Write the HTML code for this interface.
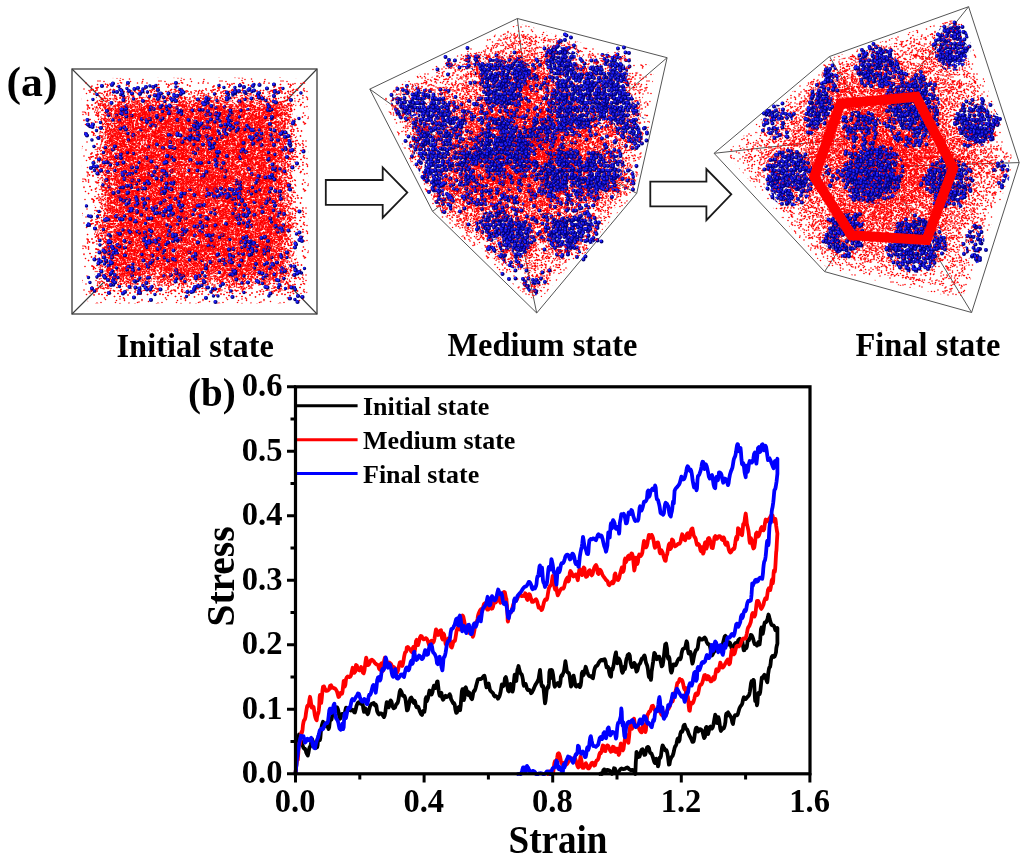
<!DOCTYPE html><html><head><meta charset="utf-8"><title>Figure</title><style>html,body{margin:0;padding:0;background:#fff;width:1024px;height:860px;overflow:hidden}</style></head><body><svg width="1024" height="860" viewBox="0 0 1024 860" style="position:absolute;left:0;top:0"><defs><pattern id="r0" width="47" height="61" patternUnits="userSpaceOnUse"><path transform="scale(.5)" d="M55 -2h0m-50 12h0m1-10h0m11 8h0m3 1h0m6-6h0m1 2h0m2 1h0m3 0h0m7-3h0m2 1h0m2 6h0m1-1h0m2 2h0m4-10h0m1 10h0m3-10h0m0 9h0m1-4h0m1 3h0m2-8h0m1 9h0m3-3h0m5 2h0m1-7h0m2 8h0m5-8h0m17 1h0m-5 16h0m-7-4h0m-7 4h0m-8 4h0m-3 0h0m-2-4h0m-4-1h0m-1 5h0m-2-7h0m-5-2h0m-11 2h0m0 5h0m-2-4h0m0-1h0m-2 3h0m0 1h0m-2-7h0m0 10h0m-7-7h0m-1 3h0m-4-4h0m-7-2h0m-8 4h0m-6 18h0m4-8h0m3 4h0m3-1h0m2 4h0m1-6h0m5 0h0m3 6h0m1-10h0m7 7h0m3-2h0m2 4h0m3-4h0m3 0h0m1-5h0m1 0h0m1 9h0m1-6h0m2 1h0m0 5h0m2-2h0m5-3h0m1-3h0m1 5h0m14 3h0m2-6h0m2 3h0m10 1h0m4-5h0m3 6h0m4 3h0m4-8h0m-3 18h0m-1-2h0m-1 3h0m-1-4h0m-1 1h0m-5 3h0m-4-3h0m-4 1h0m-11 1h0m-3 2h0m0 0h0m-2-7h0m-1 1h0m-1-2h0m-5 5h0m-10-5h0m-4-3h0m-2 3h0m-4 6h0m-6-7h0m-12 4h0m0-6h0m-16 9h0m-1-2h0m4 12h0m1-6h0m3 6h0m5 0h0m2-7h0m0 10h0m4-7h0m8 3h0m1-2h0m1 1h0m1-5h0m1 1h0m1 10h0m7-1h0m1-10h0m3 6h0m7 0h0m10-6h0m3 1h0m4 1h0m0 5h0m5 1h0m2 2h0m1-5h0m0 1h0m2 5h0m0-5h0m2 3h0m3-5h0m1 1h0m3 4h0m6 1h0m1-6h0m1 7h0m0-3h0m4-1h0m-2 6h0m-3 1h0m-7 1h0m-3-2h0m-3 5h0m0 5h0m-1-3h0m-1-6h0m-1 7h0m-3-9h0m-2 1h0m0 9h0m-1-8h0m-2 9h0m-1-9h0m-7 9h0m-3-6h0m-1 6h0m0-7h0m-2 5h0m-11 2h0m-5-3h0m-5 0h0m0-3h0m-4 5h0m-1-9h0m-1 4h0m-1 4h0m-4-8h0m0 2h0m-2 5h0m-6-4h0m-2 6h0m-4-6h0m-7-3h0m4 12h0m3 7h0m4-1h0m4-5h0m2 1h0m0 0h0m9 5h0m0-5h0m6 0h0m2 7h0m2 0h0m2-6h0m5-1h0m2-3h0m3 10h0m5-8h0m5 1h0m0-1h0m2 5h0m4-5h0m5 1h0m0 2h0m9-4h0m2-1h0m2 3h0m2 5h0m3-5h0m5-2h0m2 19h0m-1-7h0m-3 10h0m-4-1h0m0-7h0m-3 5h0m-1-1h0m0-4h0m-6-3h0m-2 11h0m0-6h0m-6 3h0m-3 0h0m-3 1h0m-8-2h0m-3 3h0m-2 0h0m-15-5h0m-4-1h0m-1-4h0m-1 5h0m-5-2h0m-3 3h0m0-1h0m-1-1h0m-2-4h0m0 5h0m-3-4h0m0 3h0m-1 7h0m-1-5h0m0-4h0m-6 7h0m-2 1h0m-4-2h0m-1-7h0m2 17h0m2-4h0m2 5h0m1 2h0m1-5h0m1 6h0m0-10h0m1 7h0m0 3h0m7 1h0m1-10h0m8 0h0m9 0h0m1 9h0m7 0h0m2-9h0m3 9h0m0-10h0m2 0h0m13 2h0m3 1h0m1-3h0m0 0h0m0 11h0m7-5h0m0-1h0m6-3h0m2 0h0m0 2h0m2 4h0m1-4h0m11 2h0m-1 17h0m-2-7h0m-2 2h0m0-5h0m0 4h0m-6-4h0m-3-1h0m-1 1h0m-1 5h0m-1-6h0m-1 7h0m-2 4h0m0-3h0m-1-5h0m-1 2h0m-2-1h0m-3-1h0m0-3h0m-1 11h0m-3-8h0m-2 5h0m0-6h0m-6-2h0m0 9h0m-1-3h0m-6 0h0m-1-4h0m-6-2h0m0 4h0m-5 5h0m-2-9h0m-4 2h0m-4 7h0m-2-1h0m-4 2h0m-7-6h0m-5 5h0m-1-6h0m-8 8h0m-2-7h0m8 10h0m44 1h0m2-3h0m2 3h0m1-3h0m3 3h0m10 1h0" stroke="#ff0000" stroke-width="3.2" stroke-linecap="round"/></pattern><pattern id="r1" width="53" height="67" patternUnits="userSpaceOnUse"><path transform="scale(.5)" d="M94 -2h0m-4 1h0m-10-1h0m-24 1h0m-17-1h0m-23 1h0m-13 1h0m0 9h0m1-5h0m0 3h0m0-7h0m6 5h0m1-2h0m1 7h0m2-5h0m8-5h0m1 2h0m18 9h0m1-6h0m1 4h0m2-2h0m1 4h0m4-7h0m1 4h0m0-3h0m0 2h0m6 1h0m1-6h0m1 8h0m9-1h0m4-6h0m6 6h0m2-3h0m6 3h0m0 1h0m0-8h0m7 1h0m1 0h0m2 1h0m1 3h0m0 0h0m1-2h0m1 5h0m5-4h0m4 11h0m-4 0h0m-1 5h0m-5-8h0m-2 7h0m-10 1h0m-9 0h0m-1-10h0m0 10h0m-3-4h0m0-4h0m-3-1h0m-4-1h0m-1 0h0m-5 0h0m-2 2h0m-1-2h0m-2 10h0m-1-6h0m-4 7h0m-1-11h0m-6 0h0m-2 9h0m-3-6h0m-1-2h0m-2 5h0m0-1h0m-4-5h0m-2 4h0m-6 1h0m-2 2h0m0-3h0m-6 2h0m-1 5h0m-4-11h0m-1 9h0m-2-3h0m0 5h0m-1-7h0m-4 1h0m-1 15h0m3 2h0m2 0h0m5-3h0m0-7h0m6 1h0m0 6h0m1-4h0m1 4h0m10 2h0m11 0h0m1-2h0m2-4h0m3 3h0m3 0h0m0 3h0m0-7h0m2 0h0m1 5h0m1 1h0m3 0h0m4-5h0m4 5h0m15 2h0m8-3h0m10 2h0m6-3h0m4 2h0m-2 10h0m-3 1h0m-3-1h0m0 2h0m-2-4h0m-2 7h0m-6 0h0m-2 0h0m-5-5h0m-2-3h0m-11 8h0m-1-3h0m-3 2h0m-2-2h0m-1-4h0m-4 7h0m0-3h0m-1-7h0m-3 7h0m-4-5h0m-1-3h0m0 11h0m-2-2h0m-2-9h0m-3 4h0m-9-2h0m0 9h0m-5-6h0m-8 0h0m-2-2h0m-5 8h0m-1-1h0m-2-6h0m-3 7h0m0-9h0m0 1h0m-8 3h0m4 8h0m1 2h0m2 2h0m2-3h0m1 1h0m3-1h0m7 6h0m7-9h0m2 4h0m1-3h0m2-1h0m3 2h0m5 1h0m2-3h0m6 0h0m0 0h0m5 2h0m2 0h0m3-1h0m2-1h0m3 0h0m2 6h0m11-4h0m1 3h0m10-4h0m3 8h0m0 2h0m3-10h0m0 7h0m4-6h0m2 8h0m1-2h0m1-8h0m2 2h0m2 18h0m0-5h0m-3 1h0m-2 5h0m-2 0h0m0-4h0m0-1h0m-3 0h0m0 1h0m-3 2h0m-8 1h0m0-7h0m-2 9h0m-2-3h0m-8-4h0m0-1h0m-1 6h0m-2-8h0m-1 0h0m-6 4h0m-1 5h0m-2-3h0m-7 2h0m-5-7h0m-5 6h0m-1-7h0m-1 3h0m-6 7h0m-2 1h0m-4 0h0m-1 0h0m-4-6h0m-5-3h0m-1 4h0m-7-2h0m-7 4h0m-4 0h0m1 13h0m0 2h0m0-6h0m8 6h0m2-11h0m2 11h0m5-4h0m2 1h0m1-4h0m5-4h0m2 4h0m4-1h0m5 5h0m4-4h0m11 1h0m1 3h0m3-5h0m12 1h0m1 3h0m9 0h0m2 0h0m5 0h0m0 2h0m2 1h0m0 1h0m8-2h0m2-4h0m5-2h0m3 7h0m2-1h0m0 2h0m0-6h0m1 9h0m-1 7h0m-1-2h0m-10-1h0m-9 1h0m-8 2h0m0-6h0m-3-2h0m0 7h0m-4-5h0m-1 6h0m-5-9h0m-3 2h0m-2 9h0m-3-1h0m-2-7h0m-3 8h0m-5-8h0m-4 8h0m-4-3h0m-3 3h0m-2-2h0m0-7h0m-1 6h0m-3-4h0m-3 7h0m-3-1h0m-1-5h0m-2 3h0m-1-5h0m-1 4h0m-3-6h0m-4 4h0m-3 2h0m-1 2h0m-3-7h0m-1 2h0m-3-2h0m-1 7h0m-1-2h0m0 10h0m8-5h0m5 3h0m10 3h0m1 0h0m2 3h0m3-6h0m6 6h0m1 2h0m9-3h0m3 2h0m1 0h0m1-6h0m1 4h0m0-5h0m2 1h0m1 1h0m6-4h0m1 1h0m3 7h0m1-6h0m2-3h0m6 7h0m5-1h0m4 4h0m8-6h0m2 0h0m1 3h0m5 2h0m5 0h0m1-9h0m2 5h0m-1 12h0m-5-2h0m-9-1h0m-9-2h0m0 9h0m-2-5h0m-3 7h0m-1-5h0m0-3h0m-1-1h0m-14 4h0m-4-6h0m-1 8h0m-4-8h0m-5 4h0m-6 0h0m-2 5h0m-2-5h0m0-3h0m-1 5h0m0-2h0m-3-1h0m-3 2h0m-1 2h0m-3 2h0m-2-9h0m-11 0h0m-2 5h0m-4 0h0m-6 18h0m3-9h0m2 6h0m7-4h0m6-1h0m4-2h0m5 5h0m1-2h0m1 4h0m2 3h0m1-7h0m4 2h0m2-6h0m1 4h0m0 0h0m6-1h0m2-3h0m5 7h0m4-6h0m1 2h0m2 0h0m6 6h0m0-8h0m1 0h0m0 0h0m5 4h0m1 5h0m4 0h0m3-4h0m2-5h0m7 8h0m1-8h0m2 3h0m8 7h0m1 0h0m6 0h0m-11 1h0m-4 1h0m-10-1h0m-24 1h0m-17-1h0m-16 4h0m-1-2h0m-6-1h0m-12 1h0m-1 0h0" stroke="#ff0000" stroke-width="3.2" stroke-linecap="round"/></pattern><pattern id="r2" width="59" height="43" patternUnits="userSpaceOnUse"><path transform="scale(.5)" d="M65 -1h0m-1-1h0m-48 1h0m-13 10h0m6-5h0m5-1h0m0 1h0m0 4h0m1 2h0m9-10h0m4 3h0m1 7h0m20 1h0m3-8h0m6 8h0m3-1h0m1-6h0m10 1h0m0 1h0m0 2h0m0-2h0m5 4h0m15-3h0m2-1h0m9 3h0m6-9h0m5 9h0m0-8h0m3 20h0m-5-9h0m-3 2h0m-1-1h0m-1 4h0m-2 6h0m0-10h0m-2 10h0m-2-2h0m-1 2h0m-1-6h0m-3 6h0m-4-4h0m-4-5h0m-1 9h0m0-6h0m-2 4h0m-3-6h0m0 3h0m-1-1h0m-2 0h0m-1 1h0m-2-5h0m-6 10h0m-3-11h0m-5 7h0m-3 4h0m-5-6h0m0 6h0m-1-10h0m-1 1h0m-3 1h0m-1 3h0m-1 5h0m0-1h0m-6-8h0m-1 2h0m-5-2h0m-4-2h0m-5 9h0m-5-6h0m-2 0h0m-1 1h0m-8 6h0m0-4h0m-3-4h0m-8 7h0m4 10h0m1 1h0m2 2h0m0-1h0m2-1h0m1-7h0m0 2h0m2 4h0m1 3h0m1-4h0m1 2h0m0-2h0m4 5h0m8-9h0m2 5h0m5 1h0m4 2h0m0-8h0m3 3h0m3-5h0m17 7h0m2-5h0m1 0h0m0 6h0m2 2h0m4-4h0m1 2h0m5-4h0m3-4h0m2 1h0m13 6h0m2 1h0m2-6h0m0 3h0m0-2h0m3 2h0m1-4h0m14 0h0m4 16h0m-1-4h0m0 2h0m-2 7h0m-8-4h0m-3 4h0m-1 1h0m-2-5h0m-6-2h0m-2 2h0m-2 4h0m0-4h0m-2-6h0m-2 1h0m-2 8h0m-1-1h0m-4-4h0m-6-2h0m-9 8h0m-4-4h0m-1-2h0m-4-1h0m-2 6h0m-9 2h0m-3-4h0m-1-6h0m-3 4h0m0 2h0m-6-4h0m-3-2h0m-6 1h0m-4 5h0m-2-3h0m-1 7h0m-6-6h0m-1-2h0m-2 7h0m-7-5h0m-1-4h0m0 2h0m-2 7h0m3 4h0m0 6h0m11-5h0m1-3h0m1 1h0m2 5h0m1-2h0m1 3h0m1-5h0m2 6h0m3-2h0m3-1h0m7 5h0m2-7h0m3 0h0m2 4h0m11-7h0m1 5h0m0-5h0m1 9h0m5-9h0m3 0h0m0 4h0m2 2h0m2 3h0m3-2h0m1 3h0m3-4h0m3 3h0m4-3h0m3 5h0m1-1h0m4-9h0m1 8h0m2-4h0m6 4h0m5-9h0m0 0h0m1 6h0m0 0h0m1 3h0m1-8h0m0 9h0m8-8h0m0 0h0m0 5h0m1-5h0m0 1h0m5-1h0m0 6h0m-2 4h0m-2 10h0m-1-4h0m-2-2h0m-1 6h0m0-6h0m-6-3h0m-4 6h0m-2 1h0m-3 2h0m-3-5h0m-1 4h0m-1-3h0m-1-1h0m-18-2h0m-2-1h0m-7-1h0m-3 8h0m-2-3h0m-2 3h0m-3-9h0m-1 2h0m-2 2h0m-1-1h0m-3 8h0m-5-5h0m-3 5h0m0-1h0m-5-1h0m-3-8h0m-3 10h0m-19-11h0m-2 5h0m-3 0h0m-4-5h0m2 23h0m3-4h0m3-6h0m0 9h0m3-3h0m8-6h0m2 0h0m3 4h0m1-5h0m15 11h0m3-1h0m3-5h0m2 1h0m0 4h0m1-3h0m1 4h0m2-1h0m1-9h0m2 9h0m1-2h0m3-4h0m8 3h0m5 0h0m1-6h0m5-1h0m1 0h0m4 6h0m1-5h0m6 4h0m4 5h0m3-4h0m1-2h0m1 2h0m0 3h0m5-5h0m4 6h0m7-1h0m5 2h0m-5 4h0m-5-1h0m-44-1h0m-1-1h0m-28 0h0m-12 2h0m-8-1h0" stroke="#ff0000" stroke-width="3.2" stroke-linecap="round"/></pattern><pattern id="r3" width="61" height="71" patternUnits="userSpaceOnUse"><path transform="scale(.5)" d="M118 -1h0m-48 0h0m-13-1h0m-37 0h0m-17 3h0m12 6h0m5 3h0m0 1h0m0-9h0m2 8h0m2-5h0m5 5h0m2-2h0m0-5h0m2 8h0m1-10h0m11 4h0m6 4h0m1-5h0m2 0h0m3-3h0m3 7h0m2 0h0m6-7h0m6 8h0m4 0h0m0-3h0m1 5h0m0-3h0m2-6h0m6 3h0m0-3h0m2-1h0m1 4h0m3 2h0m2 3h0m5-4h0m4-4h0m0 8h0m6-3h0m1 4h0m2-2h0m2 2h0m4-4h0m0-7h0m2 21h0m0 2h0m-3-5h0m-1 5h0m-1 0h0m-3-8h0m-3 0h0m-5 0h0m-4 7h0m-9-1h0m-8 0h0m-2-9h0m-3 11h0m-1-9h0m-9 0h0m-1-2h0m-1 0h0m-1 3h0m-3 2h0m-3-3h0m-10 2h0m-3-4h0m-2 1h0m0-1h0m-2 4h0m-1 5h0m-3-5h0m-1 0h0m-2 1h0m-2 0h0m-1 4h0m-6 2h0m-2-10h0m-3 5h0m-3-1h0m-2 0h0m-1-1h0m0 6h0m-6-10h0m-1 8h0m-2-2h0m-8 3h0m0 2h0m3 7h0m2-2h0m1 0h0m0 0h0m2 7h0m1-8h0m2 8h0m2-6h0m6 3h0m1-8h0m9 10h0m4-1h0m2 0h0m0 0h0m3-6h0m1 5h0m6-5h0m3 6h0m2-7h0m0 7h0m2-6h0m0 1h0m2 4h0m3-5h0m2-2h0m5 2h0m8 2h0m1-4h0m4 5h0m1 4h0m1-8h0m2 9h0m0-5h0m2 2h0m1-3h0m1 4h0m4-3h0m3 4h0m8-5h0m5-1h0m1-2h0m3 9h0m3-10h0m1 7h0m8-6h0m4 18h0m-13-5h0m-6-3h0m-5 11h0m-1-4h0m-4 4h0m-3-11h0m-7 2h0m-1 8h0m-2-9h0m0 10h0m-2-5h0m-1-3h0m-4 8h0m-15-4h0m-1 2h0m-7-8h0m-2 10h0m-2-9h0m-7 7h0m-3-3h0m-3 1h0m0 3h0m-3-8h0m-9 0h0m-7 0h0m-3 0h0m-2 0h0m-2 5h0m-7 1h0m3 9h0m9 5h0m6-2h0m6 2h0m9-10h0m1 10h0m7-7h0m1-3h0m6 11h0m2-5h0m7-1h0m1 5h0m6-5h0m5 0h0m8 4h0m0-1h0m4 3h0m3-9h0m6 8h0m6-8h0m3 3h0m2 0h0m2 6h0m0-7h0m2-3h0m4 1h0m10 16h0m0 1h0m-4 1h0m-1-3h0m-16-2h0m-5 5h0m-9-6h0m-9-2h0m-6 10h0m-1-8h0m-1 1h0m-2 7h0m-6-8h0m-2 8h0m-3-10h0m-1 0h0m-3 11h0m0-2h0m-4-7h0m-1 8h0m-2-4h0m-1-4h0m-6 8h0m-4-7h0m-3 2h0m-1 0h0m0 0h0m0 0h0m-13 2h0m-3-6h0m-2 8h0m-5 2h0m-1-9h0m-7 4h0m0 1h0m1 12h0m0-7h0m2 11h0m0-1h0m1-10h0m5 6h0m6-6h0m0 5h0m2 3h0m1-6h0m2-1h0m1 8h0m1-4h0m1 0h0m2 3h0m2 1h0m5-3h0m2 0h0m3-1h0m2 1h0m5-2h0m2 4h0m0-6h0m1 9h0m8-11h0m1 3h0m2-1h0m2-2h0m5 11h0m1-1h0m4-8h0m2 1h0m1-2h0m2 4h0m1 0h0m3-5h0m1 6h0m3-3h0m1 4h0m1-2h0m2-4h0m1 8h0m2 2h0m2-6h0m4 4h0m0-6h0m0 6h0m1-9h0m1 11h0m0-9h0m6 1h0m4 5h0m2-8h0m2 6h0m1 3h0m1 0h0m2 0h0m0 0h0m5-5h0m0 6h0m2-3h0m0-7h0m2 11h0m0-1h0m-4 8h0m-8 2h0m-1-7h0m-5 10h0m-3-1h0m-2-9h0m-2 10h0m-12-7h0m-1-4h0m-3 1h0m-6-1h0m-3 2h0m-1-1h0m-4 4h0m-8 1h0m-10-2h0m-1-3h0m-2 6h0m-1-3h0m-1 7h0m-3-3h0m-2 0h0m-6 2h0m0-10h0m-5 7h0m-1-5h0m-3 5h0m-6-3h0m-2 4h0m0-5h0m-2 8h0m-1-7h0m-2 3h0m0 0h0m-2 3h0m-2-3h0m-10 5h0m1 0h0m5 4h0m2-4h0m0 2h0m2 8h0m6-2h0m1 0h0m4-1h0m1 2h0m1-1h0m6-2h0m1 2h0m2-4h0m10-3h0m13 1h0m2 5h0m3 2h0m1-2h0m3-2h0m0 1h0m3 1h0m7-1h0m4-1h0m2 0h0m5 3h0m3-2h0m1-6h0m1 11h0m2-7h0m3 6h0m1-6h0m1 7h0m3-1h0m5-1h0m5 0h0m4-3h0m3 4h0m0-3h0m5-7h0m1 0h0m1 15h0m-3 7h0m-1-4h0m-1 3h0m-2-7h0m-1-1h0m-2 9h0m-1-5h0m-5 3h0m0-7h0m-1 8h0m-12 2h0m-1-7h0m0 2h0m-5-3h0m-2-1h0m-2 5h0m-1 4h0m-1-9h0m-3 0h0m0 4h0m-27 3h0m-7 0h0m-2-4h0m-5 1h0m-5-3h0m-12-2h0m-1 7h0m-3-7h0m-3-1h0m-2 6h0m-2 1h0m-5 2h0m-1-2h0m0-3h0m-1-4h0m-1 6h0m-1-3h0m-3 7h0m1 12h0m2-6h0m0-4h0m1 1h0m0 0h0m1 10h0m6-4h0m1-7h0m10 8h0m2-6h0m4 7h0m1 0h0m1-9h0m6 0h0m0 4h0m2 7h0m9 0h0m7-1h0m3 0h0m19-10h0m1 8h0m3 1h0m2-2h0m0-5h0m9 2h0m1 3h0m7 0h0m1-4h0m0 3h0m5 3h0m1-8h0m2 1h0m4 4h0m3 0h0m5 5h0m0-5h0m3 4h0m2-6h0m0-4h0m1 1h0m0 0h0m-5 13h0m0 8h0m-1-1h0m-5-4h0m-7-2h0m-4 3h0m-1-4h0m-2-1h0m0 2h0m0 1h0m0 2h0m-10 5h0m-11-9h0m-3 5h0m-3-5h0m-1 5h0m-1 2h0m-2 2h0m-3-3h0m-3 0h0m-3-8h0m-2 8h0m0 3h0m-3-7h0m-4-2h0m-3 2h0m-6-4h0m-1 2h0m-2 0h0m-4-1h0m0 10h0m-2-11h0m0 5h0m-10 1h0m-2 2h0m0-2h0m-1 1h0m-2-1h0m-3 1h0m0-5h0m-3-1h0m0-1h0m-8 11h0m17 1h0m61 0h0m23 0h0" stroke="#ff0000" stroke-width="3.2" stroke-linecap="round"/></pattern><pattern id="r4" width="67" height="53" patternUnits="userSpaceOnUse"><path transform="scale(.5)" d="M105 -1h0m-3-1h0m-3 0h0m-4 1h0m-2 0h0m-30-1h0m-5 1h0m-47 0h0m-13 3h0m6 4h0m7 1h0m2 2h0m1-2h0m1-2h0m1-2h0m4 2h0m0 5h0m8-6h0m3 2h0m10 1h0m15 3h0m4-2h0m1-7h0m1 5h0m3 4h0m1-2h0m3 3h0m6-10h0m6 3h0m3 4h0m3 0h0m0-1h0m3 2h0m4-3h0m3-5h0m2 9h0m2-10h0m3 7h0m2 4h0m4 0h0m0-4h0m4-1h0m0 3h0m3-5h0m9-2h0m4 0h0m0 6h0m2-6h0m-1 15h0m-3 5h0m0-8h0m-3 3h0m0-3h0m-3 7h0m-6-8h0m0 3h0m0 5h0m-3 2h0m-4-5h0m-6 5h0m-2-4h0m-6-4h0m-2 3h0m-7 1h0m-2 1h0m-3 3h0m-8-6h0m-1-4h0m-5 1h0m-3-1h0m0 1h0m-2 7h0m-2 2h0m0-3h0m-5-1h0m-1 3h0m-2-3h0m-11-1h0m-5-6h0m-4 4h0m-2 6h0m-1-9h0m-6 3h0m-3 1h0m-2 1h0m0-5h0m-1 2h0m-1 3h0m-3 3h0m-1-6h0m-1 0h0m-1 6h0m-7-2h0m0-4h0m0 10h0m4 4h0m4-2h0m4-2h0m0 8h0m0-8h0m1 8h0m0-2h0m17 4h0m5-10h0m1 3h0m3 5h0m0 1h0m7-6h0m0 7h0m1-4h0m1 0h0m0-5h0m0-2h0m5 11h0m4-10h0m5 9h0m5-3h0m1-7h0m4 4h0m2-1h0m2 7h0m10-4h0m0 2h0m7-2h0m0 5h0m25-7h0m2 7h0m2-5h0m0-5h0m2 8h0m2-5h0m0-4h0m4 17h0m-1 2h0m-5 4h0m-4-4h0m-5 2h0m-4-2h0m0 0h0m-1-4h0m-14 5h0m-1-2h0m-2-1h0m0-2h0m-5 1h0m-2 0h0m-4 6h0m-3-5h0m-5 5h0m-3 0h0m-1 1h0m0-1h0m0-4h0m-9-4h0m0 1h0m0 3h0m-1 3h0m-2-8h0m-5 8h0m-2-9h0m-2 8h0m-3 0h0m0 3h0m-2-10h0m-3 5h0m-7 0h0m0-1h0m-3 1h0m0-5h0m-1 10h0m-5-2h0m-1-9h0m-2 4h0m-2 4h0m-4-2h0m0 5h0m-2-7h0m-1-4h0m0 2h0m-1 3h0m-3 2h0m-7 2h0m0 2h0m-1 0h0m-1-4h0m-4-2h0m-1 10h0m6-3h0m3 6h0m2 3h0m4 2h0m4 0h0m4-2h0m0-7h0m1 2h0m2-4h0m1 1h0m0 8h0m1-7h0m2 2h0m1-1h0m1 6h0m4 2h0m3-10h0m5 8h0m2-8h0m3 7h0m2-7h0m8 9h0m10 0h0m1-5h0m1-5h0m4 0h0m5 6h0m2 2h0m1 1h0m9 2h0m0-7h0m4-3h0m4 4h0m0-2h0m0-3h0m4 6h0m5 5h0m0-4h0m1 2h0m12-5h0m7 7h0m3-6h0m2-2h0m-1 15h0m-1 5h0m0-7h0m-1 4h0m-4 3h0m0-6h0m-4 5h0m-2-8h0m-3-1h0m-5 4h0m-1 5h0m-4-6h0m-4 1h0m-5-5h0m-7 9h0m-1-9h0m0 11h0m-10-6h0m-2-3h0m-1 1h0m-2-2h0m0 7h0m-8 1h0m-1-3h0m-2-6h0m-2 11h0m-6-5h0m-4 3h0m-1-4h0m-1-2h0m-2 7h0m-1 0h0m-3-6h0m-2 4h0m-5-3h0m-4 1h0m-6-1h0m-2-3h0m-3 7h0m-2-9h0m-4 0h0m-16 17h0m2 0h0m4-3h0m6 0h0m5 6h0m6 3h0m9-9h0m2 3h0m6 0h0m0-4h0m5 5h0m1 1h0m4-1h0m1 2h0m2 1h0m2-3h0m13 1h0m0-2h0m5 6h0m2-2h0m4-3h0m8 2h0m2-2h0m1-6h0m1 4h0m4-3h0m2-1h0m3 11h0m2 0h0m1-7h0m3 0h0m7-3h0m1-1h0m1 3h0m3 6h0m3-8h0m3 4h0m5-5h0m2 6h0m3-1h0m2 0h0m0 14h0m-12-4h0m0 4h0m-2 1h0m-3 0h0m-2-3h0m0-5h0m-1 0h0m-1 11h0m-8-7h0m-5-1h0m-1-3h0m-4 3h0m-4 0h0m-3 1h0m-2-4h0m0 10h0m-1-7h0m-14 5h0m-5-4h0m-3 6h0m0-7h0m0 4h0m-2-7h0m-4 5h0m-4 0h0m-1-5h0m0 5h0m-7 0h0m0-3h0m-3 7h0m-3 2h0m-6-11h0m-4 5h0m-2 5h0m-2-1h0m-5-4h0m0 4h0m-2-2h0m-5-1h0m-1-2h0m0 6h0m-1-3h0m-7-3h0m-2-2h0m-1 9h0m-1-4h0m-1 5h0m4 0h0m7 9h0m8-6h0m7 3h0m0-2h0m3-1h0m4 0h0m2 2h0m14-3h0m2 0h0m0-1h0m1 1h0m6-2h0m0 9h0m3 2h0m2-3h0m9-7h0m3 10h0m2-10h0m7 6h0m5-5h0m4 7h0m2 0h0m2 2h0m2-8h0m0 5h0m2 2h0m1-2h0m2-6h0m1 7h0m14-2h0m2-6h0m1 4h0m9 2h0m1-6h0m2-1h0m-2 12h0m-2 0h0m-4 0h0m-128 0h0" stroke="#ff0000" stroke-width="3.2" stroke-linecap="round"/></pattern><pattern id="r5" width="71" height="59" patternUnits="userSpaceOnUse"><path transform="scale(.5)" d="M122 -1h0m-18 0h0m-13 0h0m-6-1h0m-9 0h0m-62 1h0m-7 0h0m-8 1h0m1 1h0m0 6h0m3 3h0m1-7h0m1 7h0m2-4h0m2 5h0m1-11h0m3 1h0m4 4h0m4 5h0m0-3h0m1-1h0m3 1h0m3-5h0m0-1h0m0 1h0m1-2h0m0 9h0m2-5h0m3 3h0m2-7h0m2 3h0m8 6h0m1-5h0m0 2h0m5 2h0m4-3h0m0-1h0m1-1h0m4 0h0m2-1h0m4-2h0m4 2h0m1 9h0m2-8h0m4 0h0m1-1h0m7 1h0m1 5h0m4 3h0m1-11h0m1 4h0m1 2h0m1 0h0m0 3h0m3 2h0m10-10h0m8 0h0m0 5h0m0-5h0m1 9h0m0-9h0m5 8h0m12 1h0m5-10h0m2 0h0m1 1h0m0 6h0m-1 6h0m-4 6h0m-4-5h0m-1 7h0m-1-6h0m-2 7h0m-2 1h0m-3-11h0m-16 2h0m0 7h0m-2 2h0m-5-5h0m-8-2h0m-6-4h0m-3 11h0m-5-3h0m0-6h0m-6 4h0m0 4h0m-4 0h0m-2 1h0m-5-2h0m-2-1h0m-8-3h0m-5 6h0m-4-4h0m-2 1h0m-1-2h0m-1-3h0m-1 8h0m-3-11h0m-1 10h0m-6-6h0m-2-3h0m-9 8h0m-2 0h0m-2-4h0m-4-1h0m-5 1h0m-5-4h0m0 19h0m2-1h0m1-1h0m0 3h0m1 1h0m3 1h0m3-9h0m2-1h0m11 7h0m3-3h0m3 2h0m0-6h0m1 6h0m3 0h0m3-6h0m0 0h0m0 1h0m2 0h0m3 7h0m4-8h0m4 6h0m0-5h0m2 0h0m2 8h0m4-10h0m0 7h0m5-4h0m1 3h0m1 1h0m6-4h0m1 5h0m11-8h0m1 8h0m1-4h0m4 6h0m0 0h0m1-9h0m0 6h0m1 1h0m2-4h0m3 1h0m7 6h0m2-5h0m7 3h0m1 1h0m2 1h0m1-6h0m8-1h0m5 0h0m5 1h0m2 2h0m7 1h0m2-1h0m1-1h0m-2 13h0m-1-2h0m-10 5h0m-5-10h0m0 7h0m-5-5h0m0 5h0m-4 4h0m-3-2h0m-1-9h0m-8 9h0m-2-1h0m0 2h0m-3-5h0m-7 4h0m-10-9h0m-6 10h0m-3-4h0m-2 2h0m-10 1h0m-1 0h0m-1 2h0m-1-3h0m0 3h0m-4-6h0m-5-3h0m-6 5h0m0 2h0m0-4h0m-4 6h0m-8-9h0m-1 3h0m0 0h0m-2-4h0m-1 7h0m-1 2h0m-1-7h0m-2-2h0m0 0h0m-1 9h0m-5-3h0m-1 2h0m-1-6h0m-1 0h0m-13-3h0m-2 7h0m-1-2h0m1 16h0m6-9h0m3 7h0m7 0h0m5-1h0m1 0h0m0 5h0m4-9h0m4 1h0m2 0h0m5-3h0m12 0h0m3 5h0m3-3h0m3 5h0m2-5h0m1 7h0m2-6h0m2 7h0m4-8h0m4 3h0m1-4h0m0 9h0m2-6h0m1-3h0m4 2h0m6-2h0m1 5h0m3 0h0m1-4h0m3 7h0m1-6h0m3 3h0m3 1h0m0 1h0m3-8h0m4 5h0m1 3h0m3 2h0m2-5h0m3 4h0m11-7h0m7 4h0m0 3h0m6 0h0m-1 4h0m-2 9h0m-3-2h0m-10-3h0m-1-1h0m-2 0h0m-3 1h0m-11-1h0m-5 7h0m-1-3h0m-2-4h0m-1 5h0m-3-3h0m-10-6h0m-4 2h0m0 5h0m0-3h0m-5 7h0m-1-5h0m-8 3h0m-1-7h0m-6-2h0m-3 10h0m0-9h0m-4 2h0m-1 5h0m-3-4h0m0 4h0m-3-4h0m-2-3h0m-8 10h0m-13-10h0m-2 10h0m-4-2h0m-1-2h0m0 1h0m0-1h0m-4-7h0m-1 2h0m-6 2h0m0-2h0m-5 0h0m-3-1h0m3 15h0m3 3h0m0-4h0m1 4h0m15-2h0m1-1h0m14-2h0m5 4h0m6 5h0m1-5h0m1 2h0m0 0h0m5-5h0m3 5h0m2-7h0m5 7h0m2-3h0m6 3h0m0-6h0m2 0h0m4 6h0m1-3h0m2-4h0m1 4h0m2 6h0m1-3h0m4-3h0m2-2h0m6 0h0m5 8h0m7-1h0m1-8h0m1 7h0m4-8h0m3 10h0m0 0h0m6-5h0m0 5h0m7-11h0m7 6h0m6-2h0m-4 15h0m-4-2h0m-1-3h0m-2 3h0m-1-2h0m-3 0h0m-4 4h0m-1-6h0m-4 6h0m-1 3h0m-1-8h0m-2 2h0m-7 2h0m-2 1h0m-3 2h0m-2 1h0m-1-10h0m-1 4h0m-1 1h0m0 3h0m-10 1h0m0-6h0m-4 6h0m-6-6h0m-2 7h0m-2-6h0m-6 4h0m0-7h0m-1 9h0m-3-6h0m-1 2h0m-1 3h0m0-9h0m-11 1h0m-8-1h0m-3 3h0m0 8h0m-1-10h0m0 1h0m-2 9h0m-1-4h0m-5-1h0m-4-2h0m-9 7h0m-1-5h0m-3-6h0m-1 3h0m-2 6h0m-3 2h0m-6-7h0m-5 19h0m1-10h0m2 6h0m1-2h0m3 4h0m1-5h0m6 3h0m1 2h0m1-3h0m1 0h0m4 4h0m1 1h0m0-9h0m1-1h0m4 7h0m3 1h0m2-4h0m4-4h0m2 5h0m3-3h0m5 5h0m7 3h0m4-8h0m0 7h0m5-9h0m4 6h0m0-7h0m10 6h0m10-1h0m13 1h0m3-1h0m4 4h0m2-1h0m6-8h0m0 5h0m2-3h0m1-1h0m2 8h0m2 0h0m9-7h0m1-2h0m9 6h0m2 5h0m0-8h0m1-2h0m2 6h0m1-2h0m-1 12h0m-1 6h0m-1-6h0m0 5h0m-2-5h0m0 5h0m-3-2h0m-4-4h0m0-1h0m-3-1h0m0-1h0m-1 0h0m0 7h0m0-4h0m-2-2h0m-4 7h0m-5-3h0m0 5h0m-1 0h0m0 0h0m-8 0h0m-4-2h0m-3-7h0m-6 4h0m-3 4h0m-1-1h0m0-8h0m-6 7h0m-9 0h0m-9 2h0m-11-5h0m-10 2h0m0-4h0m-7-3h0m-3 10h0m-4-7h0m-3 7h0m-1 1h0m-2-11h0m-1 7h0m-5-6h0m-1 5h0m-5 3h0m-1 2h0m-1-5h0m-2 4h0m-3-1h0m0-1h0m-6-3h0m-1 6h0m-1-6h0m0 5h0m29 2h0m43 0h0m8 0h0" stroke="#ff0000" stroke-width="3.2" stroke-linecap="round"/></pattern><pattern id="r6" width="43" height="73" patternUnits="userSpaceOnUse"><path transform="scale(.5)" d="M71 -1h0m-24 0h0m-1 0h0m-5 0h0m-23-1h0m-20 8h0m3 0h0m3-2h0m1 7h0m2-10h0m1 3h0m4-1h0m2 5h0m7-3h0m4 3h0m3 0h0m5 1h0m1-5h0m5 4h0m3 2h0m2-10h0m3 0h0m4 2h0m4 8h0m15-3h0m1 4h0m9-9h0m4 4h0m3 0h0m1 8h0m-3 3h0m-1 5h0m0-2h0m-1 0h0m-2-8h0m0 11h0m-1-1h0m-1-7h0m0-1h0m-3 7h0m0-9h0m-1 3h0m-5 2h0m0-4h0m-5 10h0m-4-5h0m-1 4h0m-2-8h0m-5 3h0m0-3h0m-2 8h0m-4-10h0m0 8h0m-2-2h0m-1 5h0m0-4h0m0-5h0m-8 0h0m-1 9h0m-7-3h0m-1-3h0m0 2h0m-3 1h0m-2 0h0m0 3h0m-4-7h0m-3 1h0m-2 2h0m-7 4h0m-2-4h0m-2 3h0m0-8h0m-3 3h0m-1 3h0m4 13h0m3-4h0m3-1h0m4 5h0m2-6h0m2 6h0m5-9h0m0 9h0m4-5h0m1 2h0m0-3h0m2 1h0m0-1h0m9 4h0m1-3h0m6 6h0m1 0h0m0-10h0m9 9h0m2-6h0m2 5h0m3-3h0m1 4h0m3-2h0m1 1h0m5 2h0m2-4h0m1 0h0m8-1h0m6 4h0m-1 3h0m-9 3h0m0 0h0m-2-3h0m0 9h0m-1-2h0m-3-5h0m0 0h0m-1 8h0m0-2h0m-2 0h0m-6-7h0m-2 1h0m-4 3h0m-9 3h0m-5-2h0m-1-2h0m-1 6h0m-1-5h0m-11-4h0m-3 7h0m-3-7h0m-2 2h0m-4 8h0m-2-7h0m-4-3h0m-4 0h0m-1 3h0m-2-2h0m-3-2h0m-2 17h0m3 1h0m0-3h0m5 1h0m1-3h0m7 6h0m0-2h0m8-3h0m2 2h0m20 0h0m4 7h0m2-5h0m8 3h0m2 1h0m1-2h0m3-4h0m2 3h0m2 3h0m2-8h0m11 8h0m1-4h0m2-1h0m3 1h0m-1 17h0m-3-9h0m-1 0h0m-6 8h0m-6-5h0m-7-3h0m-4 0h0m-6 6h0m-1-6h0m-10 5h0m-5 4h0m-1-4h0m-1-5h0m-2 0h0m-2 4h0m0 4h0m0-8h0m-2 2h0m-7 3h0m0 0h0m-1-7h0m-9 6h0m-2 2h0m-4-5h0m-1-1h0m-5 9h0m-3-9h0m4 19h0m0 1h0m1-2h0m2-5h0m3-3h0m3 1h0m5 1h0m1 9h0m10-9h0m2-2h0m6 5h0m10-2h0m1-3h0m2 4h0m6 2h0m0 2h0m3-2h0m1-1h0m6-5h0m1 2h0m4 8h0m2-8h0m3 8h0m1-3h0m1 4h0m7-6h0m5 5h0m-5 2h0m-3 3h0m-1 4h0m-8 0h0m-3 0h0m-5 2h0m-3-2h0m-3-3h0m0 1h0m-2 5h0m-1-8h0m-9 3h0m-5-5h0m-3 2h0m-3 3h0m-8 6h0m-2-9h0m-5 3h0m-17-2h0m-2 15h0m6 2h0m3-8h0m9 7h0m0-2h0m0 3h0m10-3h0m1 5h0m4-7h0m2 4h0m6-7h0m0 5h0m4 0h0m0-4h0m1 3h0m0 6h0m5-7h0m11 1h0m2 5h0m0-6h0m7 1h0m2 1h0m3-3h0m3 0h0m2 5h0m2-1h0m3 0h0m-2 10h0m-4 3h0m-3 0h0m-5-7h0m-1 1h0m-4 10h0m-3-1h0m-3 0h0m-4-3h0m-1-7h0m-3 7h0m0-5h0m-4 8h0m-3-1h0m-6 0h0m0-8h0m-1 5h0m-1 0h0m-3 2h0m-2-3h0m-1-1h0m-4-2h0m-2 2h0m0 2h0m-3-2h0m-2-1h0m-4-1h0m-4-2h0m-5 1h0m-3-1h0m-1 11h0m-5 11h0m0-3h0m3-3h0m7 0h0m1-1h0m7 7h0m5-3h0m4 4h0m8-1h0m7-7h0m8 3h0m4-2h0m2 5h0m2-3h0m3 1h0m3 2h0m7-6h0m1 8h0m5-10h0m4 2h0m0 1h0m3-1h0m2 7h0m0-3h0m3-3h0m-3 13h0m0 2h0m-2-4h0m-6-3h0m0 7h0m-1-6h0m-4 8h0m-7-8h0m-3-1h0m0 8h0m-2-7h0m0 8h0m-2 1h0m0 1h0m-3-6h0m-2 6h0m0-8h0m-2 2h0m0 5h0m-5 0h0m-6-2h0m-1-8h0m-1 5h0m-1-2h0m-3 8h0m-1-3h0m0 0h0m-2 2h0m-5-8h0m-4 3h0m0 4h0m-11-9h0m-2 3h0m0 7h0m-5-9h0m-1 5h0m-4-1h0m0 2h0m8 8h0m11-3h0m23 1h0m3 1h0m2-1h0m1 0h0m0 1h0m4 2h0m20-3h0m9 3h0" stroke="#ff0000" stroke-width="3.2" stroke-linecap="round"/></pattern><pattern id="r7" width="79" height="49" patternUnits="userSpaceOnUse"><path transform="scale(.5)" d="M72 -1h0m-6 0h0m-65 11h0m3-6h0m3 7h0m2 0h0m14-6h0m5 1h0m4-4h0m5 2h0m1 2h0m2-5h0m0 1h0m4 6h0m3 3h0m0 0h0m6-2h0m1-4h0m1-1h0m10 3h0m3-3h0m1 2h0m2-5h0m1 7h0m2-6h0m3 8h0m1-2h0m1 0h0m2 3h0m2-10h0m2 7h0m0-4h0m1-4h0m1 3h0m2 6h0m5-3h0m6 2h0m0 3h0m3-1h0m2-10h0m1 4h0m8-3h0m2 10h0m3-10h0m2 1h0m3 3h0m4-3h0m2-2h0m0 9h0m0 2h0m3-2h0m0-4h0m4-3h0m2 9h0m4-9h0m2 4h0m1-4h0m3 8h0m5-8h0m2 4h0m3 4h0m0 4h0m-5 3h0m-2-5h0m-3 7h0m-7-7h0m-1 7h0m-3 2h0m-1-2h0m-2-7h0m-1 7h0m-3-1h0m-5 3h0m-2 2h0m-5-2h0m-8-5h0m-5 2h0m-2 0h0m-2-6h0m-1 8h0m-2 3h0m-3-5h0m-2 0h0m-1-1h0m-7-3h0m-13-2h0m-11 11h0m-4-5h0m-2-2h0m-7-1h0m-5-2h0m0 10h0m-2-2h0m-1-1h0m-5 2h0m-5-10h0m0 9h0m-2-8h0m0 9h0m-5-4h0m-1-3h0m-4 5h0m-4 3h0m-1 0h0m-2-9h0m0 9h0m-11-9h0m9 21h0m2-3h0m2 1h0m8-4h0m1-4h0m1 7h0m0-5h0m4 5h0m3-8h0m5 11h0m1-10h0m1 8h0m1 1h0m1-2h0m4-1h0m0 3h0m9-9h0m1 6h0m5 2h0m5-4h0m2-2h0m1 1h0m3 6h0m5-8h0m5-2h0m3 0h0m0 3h0m1 3h0m6 2h0m6-5h0m2 1h0m6 5h0m8-3h0m7-6h0m2 5h0m2 3h0m3 0h0m2 1h0m7 1h0m5-3h0m0-2h0m2 0h0m0 5h0m6 1h0m1-4h0m4-6h0m7 13h0m-3 5h0m-1-5h0m-1 5h0m-4 2h0m-3-5h0m0-1h0m-1-1h0m-4 5h0m-2 1h0m-1 2h0m-1-4h0m-4 4h0m-2-9h0m-1 5h0m0-5h0m-4 3h0m-6-3h0m0 7h0m0-7h0m-8-1h0m-3 9h0m-1 0h0m-2-7h0m0 1h0m-6 8h0m-1-5h0m-7 3h0m-1-6h0m-6 0h0m-1-1h0m-7 0h0m-1-1h0m-3 1h0m-11 4h0m-19 3h0m-2-5h0m-6-2h0m-3 7h0m0-5h0m-4-3h0m-10 7h0m-1 2h0m-7-9h0m-7-1h0m-3 2h0m-3 5h0m-1-5h0m2 13h0m4 5h0m10-6h0m2 4h0m1 5h0m10-6h0m3 4h0m0-8h0m7 7h0m3-2h0m0-5h0m2-1h0m4 8h0m0-2h0m3-1h0m0 5h0m4 0h0m9-5h0m0-2h0m1 4h0m1-4h0m7 0h0m2-2h0m1 3h0m1 0h0m1 2h0m9-1h0m0 6h0m0-11h0m3 9h0m4-3h0m0-6h0m5 6h0m2 1h0m8 2h0m7-2h0m1 4h0m3-7h0m5 5h0m15-3h0m9 1h0m0-5h0m1 7h0m2-6h0m4 5h0m0-7h0m0 5h0m4-3h0m-2 17h0m0 3h0m-2-7h0m-3 4h0m-5 0h0m-1-6h0m-11 2h0m-1 2h0m-1-6h0m0 0h0m-2 5h0m-9 5h0m-1-3h0m-9-5h0m0 2h0m-1-2h0m-2 7h0m0-4h0m0-2h0m-5-3h0m-1 8h0m-2 2h0m-4-8h0m-6 9h0m-4-9h0m-1 9h0m-5 0h0m0-2h0m-5-8h0m0 5h0m-5-6h0m-1 11h0m0 0h0m-1-10h0m-3 9h0m-4 0h0m-11-3h0m-7-2h0m-1-1h0m-1 0h0m-2 2h0m-1-1h0m-5-1h0m-4-3h0m-2 4h0m0-3h0m-5 1h0m-4 7h0m-4-5h0m-4-4h0m-3 7h0m-1 7h0m3 4h0m2 0h0m0-6h0m1 10h0m5-1h0m2 0h0m2 0h0m2-9h0m3 7h0m11-7h0m0 4h0m0-3h0m2 1h0m17 5h0m2-7h0m7 4h0m2 0h0m0-1h0m1 0h0m0 1h0m0-4h0m2 8h0m1-5h0m3-2h0m5-2h0m0 1h0m1 7h0m4-4h0m1-2h0m2 3h0m1 2h0m1-3h0m0 0h0m1-1h0m6 6h0m6 2h0m3-6h0m0-1h0m3-4h0m1 3h0m3 5h0m2 0h0m7-6h0m4 5h0m1-1h0m8-1h0m0-2h0m1 2h0m1-1h0m3 2h0m1 5h0m5-6h0m3-5h0m0 5h0m2 6h0m1-7h0m4 9h0m0 9h0m-6-3h0m-10-6h0m-4 9h0m-13-2h0m-1-3h0m-7-2h0m-2 5h0m-3 0h0m-1-4h0m-1 3h0m-3-5h0m-1 5h0m-2-3h0m-1 4h0m-8-6h0m0 1h0m-6 4h0m-1-4h0m-2 5h0m-2-7h0m-1 1h0m-1 8h0m-3-5h0m-5 5h0m-1-9h0m-8 1h0m-7 0h0m0-2h0m-1 9h0m-1 0h0m-1-9h0m-6 7h0m0 2h0m-1-6h0m-3 1h0m-2 5h0m-3-5h0m-4 2h0m-4-5h0m0 0h0m-4-1h0m-1 11h0m-4-8h0m-1-3h0m-1 10h0m-2-4h0m0 1h0m-4 4h0m-3-8h0m0 2h0m-2 5h0m-1-3h0m0-6h0m-3 10h0m0-5h0m37 9h0m0 1h0m26-3h0m5 2h0m1-2h0m11 2h0m3-1h0m16-2h0m3 2h0m8-2h0m1 3h0m2-3h0m3 3h0m2 1h0m7 0h0m2-2h0m13 2h0m11 0h0" stroke="#ff0000" stroke-width="3.2" stroke-linecap="round"/></pattern><pattern id="bd" width="42" height="42" patternUnits="userSpaceOnUse"><g transform="scale(.5)" stroke-linecap="round"><path d="M83 0h0m-84 0h0m90 88h0m-57-41h0m2 33h0m50-51h0m-37 9h0m28 9h0m-74 32h0m45-74h0m-9 49h0m34 16h0m7-49h0m-17 51h0m-29 0h0m2-42h0m-5-25h0m-16 82h0m9 2h0m-17 0h0m49-85h0m-28-10h0m-29 69h0m2-16h0m34-35h0m45 26h0m-24 17h0m4 7h0m-29-42h0m33-15h0m19 68h0m-48 7h0m47-27h0m-34 36h0m26-68h0m-56 62h0m65-45h0m-6-10h0m-35 2h0m2-17h0m41 71h0m-29 4h0" stroke="#00007a" stroke-width="8.0"/><path d="M82 -1h0m-84 0h0m90 88h0m-57-41h0m2 33h0m50-51h0m-37 9h0m28 9h0m-74 32h0m45-74h0m-9 49h0m34 16h0m7-49h0m-17 51h0m-29 0h0m2-42h0m-5-25h0m-16 82h0m9 2h0m-17 0h0m49-85h0m-28-10h0m-29 69h0m2-16h0m34-35h0m45 26h0m-24 17h0m4 7h0m-29-42h0m33-15h0m19 68h0m-48 7h0m47-27h0m-34 36h0m26-68h0m-56 62h0m65-45h0m-6-10h0m-35 2h0m2-17h0m41 71h0m-29 4h0" stroke="#2020ff" stroke-width="4.6"/><path d="M75 11h0m-67 1h0m-13-8h0m-1 17h0m83 59h0m-6-27h0m-11-60h0m-22 96h0m-14-36h0m2 9h0m-21 9h0m50-51h0m-29 58h0m53 10h0m-68-52h0m51 53h0m-4-74h0m1 32h0m5-27h0m-48-21h0m6 11h0m57-6h0m-71 43h0m60-17h0m13 33h0m-11-58h0m-61 75h0m-13-27h0m35 36h0m46-93h0m12 75h0m-56-27h0m17 37h0m-34-53h0m44 49h0m-20-81h0m6 59h0m-17 34h0m35-54h0m-22 27h0m-24-50h0" stroke="#00007a" stroke-width="8.0"/><path d="M74 10h0m-67 1h0m-13-8h0m-1 17h0m83 59h0m-6-27h0m-11-60h0m-22 96h0m-14-36h0m2 9h0m-21 9h0m50-51h0m-29 58h0m53 10h0m-68-52h0m51 53h0m-4-74h0m1 32h0m5-27h0m-48-21h0m6 11h0m57-6h0m-71 43h0m60-17h0m13 33h0m-11-58h0m-61 75h0m-13-27h0m35 36h0m46-93h0m12 75h0m-56-27h0m17 37h0m-34-53h0m44 49h0m-20-81h0m6 59h0m-17 34h0m35-54h0m-22 27h0m-24-50h0" stroke="#2020ff" stroke-width="4.6"/><path d="M87 20h0m-16 68h0m0-84h0m14-9h0m-33 26h0m31 26h0m-83-18h0m50-32h0m0 49h0m-29-25h0m1-16h0m7 33h0m-12 9h0m-20-9h0m8-33h0m26 0h0m20 57h0m16-16h0m-66-51h0m-1 18h0m36 35h0m-26 7h0m45 17h0m-61-34h0m61 11h0m-62 31h0m74-86h0m22 10h0m-76 16h0m26 2h0m7 50h0m-21-43h0m-17 1h0m66 33h0m-67 2h0m85-18h0m-3 42h0m-92-16h0m9-20h0m21-6h0m63 6h0" stroke="#00007a" stroke-width="8.0"/><path d="M86 19h0m-16 68h0m0-84h0m14-9h0m-33 26h0m31 26h0m-83-18h0m50-32h0m0 49h0m-29-25h0m1-16h0m7 33h0m-12 9h0m-20-9h0m8-33h0m26 0h0m20 57h0m16-16h0m-66-51h0m-1 18h0m36 35h0m-26 7h0m45 17h0m-61-34h0m61 11h0m-62 31h0m74-86h0m22 10h0m-76 16h0m26 2h0m7 50h0m-21-43h0m-17 1h0m66 33h0m-67 2h0m85-18h0m-3 42h0m-92-16h0m9-20h0m21-6h0m63 6h0" stroke="#2020ff" stroke-width="4.6"/><path d="M40 80h0m45-1h0m-17-66h0m-35 51h0m58 1h0m-69 7h0m45 6h0m-64-58h0m50-9h0m-58 77h0m43-83h0m14 24h0m-18-33h0m-29 8h0m49 84h0m-7-68h0m42-15h0m-61 50h0m-11 8h0m41-33h0m-49-34h0m62 42h0m-49 1h0m62-26h0m-51-17h0m-34 88h0m39-46h0m-33 0h0m7 34h0m42-35h0m-36-23h0m26 32h0m-31-43h0m-20-7h0m74 69h0m-30 6h0m-32 17h0m58-34h0m-9-50h0m35 34h0m-19 51h0" stroke="#00007a" stroke-width="8.0"/><path d="M39 79h0m45-1h0m-17-66h0m-35 51h0m58 1h0m-69 7h0m45 6h0m-64-58h0m50-9h0m-58 77h0m43-83h0m14 24h0m-18-33h0m-29 8h0m49 84h0m-7-68h0m42-15h0m-61 50h0m-11 8h0m41-33h0m-49-34h0m62 42h0m-49 1h0m62-26h0m-51-17h0m-34 88h0m39-46h0m-33 0h0m7 34h0m42-35h0m-36-23h0m26 32h0m-31-43h0m-20-7h0m74 69h0m-30 6h0m-32 17h0m58-34h0m-9-50h0m35 34h0m-19 51h0" stroke="#2020ff" stroke-width="4.6"/></g></pattern><pattern id="bm" width="46" height="46" patternUnits="userSpaceOnUse"><g transform="scale(.5)" stroke-linecap="round"><path d="M-3 19h0m6 4h0m52 44h0m22-12h0m-23-52h0m18 92h0m-70-31h0m57-43h0m13-18h0m-18 92h0m18-74h0m-29-8h0m7 69h0m-38-90h0m-18 61h0m18 31h0m26-61h0m51 74h0m6-74h0" stroke="#00007a" stroke-width="8.0"/><path d="M-4 18h0m6 4h0m52 44h0m22-12h0m-23-52h0m18 92h0m-70-31h0m57-43h0m13-18h0m-18 92h0m18-74h0m-29-8h0m7 69h0m-38-90h0m-18 61h0m18 31h0m26-61h0m51 74h0m6-74h0" stroke="#2020ff" stroke-width="4.6"/><path d="M24 6h0m73-3h0m-98 8h0m83 18h0m-9-17h0m17 18h0m-53 6h0m56 35h0m-82 5h0m-14 21h0m0-92h0m100 90h0m-6-84h0m-25 17h0m6 14h0m17-37h0m-67 64h0m7-31h0" stroke="#00007a" stroke-width="8.0"/><path d="M23 5h0m73-3h0m-98 8h0m83 18h0m-9-17h0m17 18h0m-53 6h0m56 35h0m-82 5h0m-14 21h0m0-92h0m100 90h0m-6-84h0m-25 17h0m6 14h0m17-37h0m-67 64h0m7-31h0" stroke="#2020ff" stroke-width="4.6"/><path d="M80 75h0m-65-61h0m24 62h0m43 6h0m-77-79h0m7-3h0m47 13h0m12 43h0m-42-46h0m29 54h0m-30 21h0m-9-56h0m-4 7h0m74-17h0m-16 44h0m-43-10h0m-2-60h0m-23 102h0" stroke="#00007a" stroke-width="8.0"/><path d="M79 74h0m-65-61h0m24 62h0m43 6h0m-77-79h0m7-3h0m47 13h0m12 43h0m-42-46h0m29 54h0m-30 21h0m-9-56h0m-4 7h0m74-17h0m-16 44h0m-43-10h0m-2-60h0m-23 102h0" stroke="#2020ff" stroke-width="4.6"/><path d="M45 36h0m-13-6h0m-34 0h0m60 17h0m-40 31h0m-6 14h0m49-35h0m33 7h0m-70 34h0m62-45h0m-34-39h0m-23 84h0m51-61h0m-68-14h0m-3-10h0m18 65h0m2-72h0m-28 65h0" stroke="#00007a" stroke-width="8.0"/><path d="M44 35h0m-13-6h0m-34 0h0m60 17h0m-40 31h0m-6 14h0m49-35h0m33 7h0m-70 34h0m62-45h0m-34-39h0m-23 84h0m51-61h0m-68-14h0m-3-10h0m18 65h0m2-72h0m-28 65h0" stroke="#2020ff" stroke-width="4.6"/></g></pattern><pattern id="bs" width="43" height="43" patternUnits="userSpaceOnUse"><g transform="scale(.5)" stroke-linecap="round"><path d="M42 73h0m29-16h0m-6-8h0m8-15h0m-36 31h0m23-40h0m26-27h0m-52 46h0m-34-46h0m61 6h0m-4 76h0m-25-72h0m59 24h0m-39-35h0m17 53h0" stroke="#00007a" stroke-width="8.0"/><path d="M41 72h0m29-16h0m-6-8h0m8-15h0m-36 31h0m23-40h0m26-27h0m-52 46h0m-34-46h0m61 6h0m-4 76h0m-25-72h0m59 24h0m-39-35h0m17 53h0" stroke="#2020ff" stroke-width="4.6"/><path d="M52 83h0m5-89h0m16 21h0m-10 67h0m-4-11h0m-52-54h0m-10 44h0m78-37h0m-72 37h0m13 3h0m47-54h0m-66 44h0m3 30h0m26-20h0m15-51h0" stroke="#00007a" stroke-width="8.0"/><path d="M51 82h0m5-89h0m16 21h0m-10 67h0m-4-11h0m-52-54h0m-10 44h0m78-37h0m-72 37h0m13 3h0m47-54h0m-66 44h0m3 30h0m26-20h0m15-51h0" stroke="#2020ff" stroke-width="4.6"/><path d="M18 47h0m23-33h0m0 53h0m42-13h0m-21-35h0m-44 35h0m-13-22h0m2-12h0m54 70h0m-43-16h0m-10-37h0m16 19h0m62 28h0m-38-50h0m-37-8h0" stroke="#00007a" stroke-width="8.0"/><path d="M17 46h0m23-33h0m0 53h0m42-13h0m-21-35h0m-44 35h0m-13-22h0m2-12h0m54 70h0m-43-16h0m-10-37h0m16 19h0m62 28h0m-38-50h0m-37-8h0" stroke="#2020ff" stroke-width="4.6"/><path d="M83 61h0m-15 7h0m-8-43h0m16-16h0m-50 18h0m51 23h0m-14-54h0m16 22h0m10 43h0m-57 33h0m61-74h0m-40-3h0m40 0h0m-56 33h0m-44-32h0" stroke="#00007a" stroke-width="8.0"/><path d="M82 60h0m-15 7h0m-8-43h0m16-16h0m-50 18h0m51 23h0m-14-54h0m16 22h0m10 43h0m-57 33h0m61-74h0m-40-3h0m40 0h0m-56 33h0m-44-32h0" stroke="#2020ff" stroke-width="4.6"/></g></pattern><pattern id="bx" width="39" height="39" patternUnits="userSpaceOnUse"><g transform="scale(.5)" stroke-linecap="round"><path d="M69 30h0m-30 9h0m-16-7h0m16 43h0m-40-46h0m77 4h0m9 17h0m-6-28h0m-8 41h0m2-17h0m3-52h0m-37 3h0m-33 33h0m32-21h0m-31 41h0m32 20h0m-44-25h0m63 36h0m-41-6h0m-22-29h0m11 9h0m46-17h0m25-9h0" stroke="#00007a" stroke-width="8.0"/><path d="M68 29h0m-30 9h0m-16-7h0m16 43h0m-40-46h0m77 4h0m9 17h0m-6-28h0m-8 41h0m2-17h0m3-52h0m-37 3h0m-33 33h0m32-21h0m-31 41h0m32 20h0m-44-25h0m63 36h0m-41-6h0m-22-29h0m11 9h0m46-17h0m25-9h0" stroke="#2020ff" stroke-width="4.6"/><path d="M58 3h0m-37-8h0m23 53h0m-3 2h0m-17 13h0m40-14h0m-57-38h0m11 73h0m-26-53h0m49 24h0m27-61h0m-16 16h0m-59 32h0m46-45h0m-13 52h0m29 25h0m30-63h0m-84 11h0m-3 11h0m72-2h0m14-1h0m-92 7h0m16-6h0" stroke="#00007a" stroke-width="8.0"/><path d="M57 2h0m-37-8h0m23 53h0m-3 2h0m-17 13h0m40-14h0m-57-38h0m11 73h0m-26-53h0m49 24h0m27-61h0m-16 16h0m-59 32h0m46-45h0m-13 52h0m29 25h0m30-63h0m-84 11h0m-3 11h0m72-2h0m14-1h0m-92 7h0m16-6h0" stroke="#2020ff" stroke-width="4.6"/><path d="M29 27h0m45 13h0m-53 33h0m34-77h0m9 26h0m19-4h0m-7 66h0m-58-78h0m21 69h0m-34-57h0m14 21h0m57-33h0m0 66h0m-22-47h0m-20 37h0m-17-65h0m22-5h0m-9 66h0m-2-45h0m56 42h0m-46-2h0m33-11h0" stroke="#00007a" stroke-width="8.0"/><path d="M28 26h0m45 13h0m-53 33h0m34-77h0m9 26h0m19-4h0m-7 66h0m-58-78h0m21 69h0m-34-57h0m14 21h0m57-33h0m0 66h0m-22-47h0m-20 37h0m-17-65h0m22-5h0m-9 66h0m-2-45h0m56 42h0m-46-2h0m33-11h0" stroke="#2020ff" stroke-width="4.6"/><path d="M-2 84h0m31-45h0m25 21h0m-56 12h0m-2-32h0m41-23h0m26-3h0m-49 33h0m33-18h0m14 19h0m-47-26h0m1 14h0m12-19h0m32 23h0m-66 23h0m80-18h0m-75-51h0m70 48h0m-29 5h0m31-10h0m-72-31h0m70 66h0" stroke="#00007a" stroke-width="8.0"/><path d="M-3 83h0m31-45h0m25 21h0m-56 12h0m-2-32h0m41-23h0m26-3h0m-49 33h0m33-18h0m14 19h0m-47-26h0m1 14h0m12-19h0m32 23h0m-66 23h0m80-18h0m-75-51h0m70 48h0m-29 5h0m31-10h0m-72-31h0m70 66h0" stroke="#2020ff" stroke-width="4.6"/></g></pattern><pattern id="rf" width="53" height="59" patternUnits="userSpaceOnUse"><path transform="scale(.5)" d="M78 -1h0m-58 0h0m-20 8h0m1 0h0m4-7h0m19 7h0m3 1h0m1-2h0m12-2h0m3 1h0m0 4h0m4-2h0m5-1h0m3 2h0m7 2h0m1 0h0m9-3h0m2-6h0m0-1h0m1 0h0m8 2h0m2 0h0m2 0h0m0-1h0m5 1h0m1 6h0m3 3h0m10-4h0m1 0h0m-1 16h0m-1-1h0m-3-6h0m-2 6h0m-3-6h0m-3-1h0m-3 4h0m-4 0h0m-1-1h0m-1 5h0m-13 0h0m-2-1h0m-8 0h0m-3-9h0m-4 5h0m-1-6h0m-5 1h0m0 5h0m-10 3h0m-12-3h0m-3 1h0m-17 4h0m0-4h0m-3-1h0m-1 0h0m-1 4h0m-2 1h0m-1-1h0m0 13h0m2-9h0m1 3h0m2 5h0m1-8h0m1 7h0m2-8h0m15-1h0m22 1h0m6 4h0m3-1h0m1 6h0m0-6h0m4 4h0m0-4h0m2 5h0m1-4h0m3 0h0m4-1h0m4 1h0m0 2h0m5-1h0m14 3h0m2-4h0m1 6h0m3-11h0m1 3h0m6 8h0m2-9h0m1 3h0m-8 15h0m-2-5h0m-7 1h0m-4 7h0m-2-10h0m-1 10h0m-1-1h0m-16-2h0m-10-7h0m-1 8h0m-5 1h0m-6 0h0m-5-3h0m-3 0h0m-3 4h0m-6-10h0m0-1h0m-2 4h0m-1-2h0m-3 0h0m-1 0h0m-1 1h0m-7 3h0m-6 1h0m0-2h0m-1 4h0m-6 5h0m12-2h0m8 0h0m3 1h0m4 9h0m2 0h0m2-6h0m1 5h0m3-4h0m1-1h0m6 6h0m11-6h0m4 0h0m1 1h0m2 5h0m12 1h0m1-4h0m10 1h0m5-7h0m5 0h0m1 8h0m0 2h0m1-4h0m2-3h0m3 7h0m6-9h0m-21 10h0m-2 6h0m-6-4h0m-4-1h0m-4 8h0m-9-1h0m-8 3h0m-7-6h0m-2 0h0m-4 2h0m-4 2h0m-2-3h0m-5 3h0m-13-7h0m-1-1h0m-6 1h0m-3 1h0m-3 3h0m2 13h0m7 3h0m5 0h0m2 1h0m4-5h0m2-2h0m10-2h0m6 9h0m4-3h0m4-1h0m4-2h0m1 5h0m6-3h0m0-7h0m20 8h0m7-1h0m19 6h0m-10 9h0m-10 1h0m-6-11h0m-1 4h0m-6 5h0m-9-6h0m-3 8h0m-5-8h0m-1-1h0m-6 8h0m-6-2h0m-1 2h0m-1-10h0m-41 1h0m10 15h0m2 1h0m8-2h0m5 7h0m0-3h0m2-6h0m1 9h0m9-9h0m14 7h0m1-6h0m13 7h0m8-2h0m4-3h0m1-1h0m4-2h0m10 1h0m4 2h0m5 0h0m8 10h0m-2 3h0m-11-1h0m-8 1h0m0 6h0m-3-5h0m-1-3h0m-4 2h0m-1 4h0m-3 1h0m-1 1h0m0-1h0m-7-8h0m-2 1h0m0-2h0m-1 7h0m-13-3h0m-5 2h0m-4-4h0m-2 1h0m-1 0h0m-3-2h0m-11-2h0m-3 7h0m-2 2h0m0-4h0m-10-3h0m-3 0h0m-1 0h0m-1 8h0m-3-8h0m-2 3h0m83 7h0m4 0h0" stroke="#ff0000" stroke-width="3.2" stroke-linecap="round"/></pattern><pattern id="rg" width="59" height="53" patternUnits="userSpaceOnUse"><path transform="scale(.5)" d="M98 -1h0m-78 1h0m79 10h0m0-4h0m14 16h0m-17-1h0m-16-8h0m-6 0h0m-20 0h0m-48 9h0m-8 6h0m9-3h0m11 2h0m4 5h0m47 2h0m11 1h0m35-6h0m1-1h0m-3 14h0m-7-4h0m-6 8h0m-9 0h0m-27-10h0m-20 4h0m-28 7h0m6 6h0m3-5h0m7 0h0m15 8h0m2 2h0m5-1h0m2-1h0m34 1h0m1 0h0m12-5h0m14 15h0m-14 0h0m0 0h0m-26-4h0m-54-2h0m-9 0h0m-15 6h0m2 6h0m9 5h0m3 4h0m21-9h0m3 10h0m61 0h0m21-10h0m-21 22h0m-13-9h0m-20 6h0m-16 2h0m-12-1h0m-24-1h0m-5 0h0m-2-2h0m-7 6h0m2 8h0m17-3h0m2 5h0m2-4h0m47 1h0m25 0h0m4 2h0m19-9h0m2 8h0" stroke="#ff0000" stroke-width="3.2" stroke-linecap="round"/></pattern><pattern id="rz" width="61" height="67" patternUnits="userSpaceOnUse"><path transform="scale(.5)" d="M66 -1h0m-47 0h0m-7 6h0m8 6h0m3-8h0m1 6h0m6-5h0m1 7h0m3-11h0m4 3h0m27-1h0m30 3h0m0-5h0m0 0h0m5 2h0m13 2h0m11 10h0m-5 8h0m-1-8h0m-1 5h0m-5 3h0m-3-3h0m-3-6h0m-2 8h0m-1-2h0m-4-4h0m-2 0h0m-8 0h0m-7 0h0m-10 5h0m-20-4h0m-21-3h0m-29 1h0m-3 18h0m3-7h0m13-1h0m2 5h0m14 3h0m9 0h0m1-3h0m1-4h0m8 7h0m23 3h0m1-7h0m4 0h0m8 1h0m3 5h0m4 1h0m5-1h0m4-1h0m12 0h0m4-6h0m1 4h0m2 1h0m3-7h0m-4 18h0m-1 3h0m-7-7h0m-5 7h0m-2-1h0m-6 0h0m-2 2h0m-3-10h0m-2 3h0m-18 1h0m-2 5h0m0-4h0m-2 0h0m-6 3h0m-2-7h0m-1 8h0m-1-6h0m0 6h0m-4 1h0m-10-3h0m-7 3h0m-6 0h0m-19-9h0m-5-2h0m-10 12h0m5 1h0m8 5h0m4-4h0m7 8h0m3-10h0m5 5h0m7-1h0m13 1h0m7-3h0m8 4h0m3-6h0m7 4h0m6 1h0m6-4h0m4 6h0m1-6h0m6 2h0m8 6h0m7-6h0m4 6h0m3-9h0m-3 14h0m0 9h0m-7-6h0m-2 4h0m-20-6h0m-2-3h0m-7 9h0m-8 1h0m-19-3h0m-13-4h0m0 2h0m-6 3h0m-3 1h0m-17 1h0m-9-5h0m0-3h0m-2-2h0m-4 20h0m5-1h0m9-6h0m9 5h0m4-6h0m9 2h0m4 1h0m13 1h0m2 4h0m0-3h0m3 5h0m5-6h0m2 7h0m5-11h0m2 8h0m4-4h0m0-3h0m1 3h0m8 1h0m2 3h0m2-6h0m6 9h0m19-6h0m1-2h0m7 5h0m-2 12h0m-24-4h0m0-2h0m-3 3h0m-10-2h0m-18-3h0m-9 8h0m-2-8h0m-3 10h0m-1-3h0m-3-1h0m-2 5h0m-2-5h0m-3-1h0m-2-3h0m-1 8h0m-5-4h0m-9-2h0m-4 4h0m-9-8h0m-9 13h0m6 6h0m1-3h0m4-4h0m4 11h0m11-6h0m5 3h0m1-2h0m3-4h0m1 8h0m0 1h0m10 0h0m0-1h0m9-10h0m3 9h0m12-9h0m3 1h0m2 0h0m7 6h0m5 4h0m1-9h0m29 2h0m5-3h0m1 16h0m-2 1h0m-1-3h0m-1-1h0m-17 7h0m-4-9h0m-6 5h0m-3-3h0m-6 4h0m-2-6h0m-12 2h0m-8 2h0m-6 7h0m-6-4h0m-9 2h0m-7 2h0m-4-11h0m-1 8h0m-6 1h0m-1-3h0m-20-1h0m-2 1h0m15 13h0m8-5h0m10 0h0m2 0h0m14 9h0m14-1h0m2 1h0m8-2h0m3-8h0m4 8h0m3-9h0m12 8h0m1 1h0m4-4h0m8-2h0m1 5h0m7 0h0m-15 8h0m-5-2h0m0 0h0m-29-1h0m-1 3h0m-31-2h0m-15-1h0" stroke="#ff0000" stroke-width="3.2" stroke-linecap="round"/></pattern></defs><rect width="1024" height="860" fill="#fff"/><text x="6.5" y="96" font-size="42" font-family="Liberation Serif,Times New Roman,serif" font-weight="bold" textLength="51" lengthAdjust="spacingAndGlyphs">(a)</text><g fill="none" stroke="#3c3c3c" stroke-width="1.3"><rect x="72" y="69" width="245" height="245"/><path d="M72 69L104 101M317 69L286 101M72 314L104 282M317 314L286 282" stroke-width="1.1"/></g><path d="M531.2 135.8L517.4 18.5M531.2 135.8L636.7 193.4M531.2 135.8L432.6 211.4M511.5 191.0L536.7 313.0M511.5 191.0L369.8 89.1M511.5 191.0L667.1 57.7M517.4 18.5L667.1 57.7M517.4 18.5L369.8 89.1M636.7 193.4L667.1 57.7M636.7 193.4L536.7 313.0M432.6 211.4L369.8 89.1M432.6 211.4L536.7 313.0M864.1 136.6L968.6 6.7M864.1 136.6L971.6 312.5M864.1 136.6L714.1 153.3M893.9 166.3L824.6 271.6M893.9 166.3L829.5 56.5M893.9 166.3L1019.2 162.6M968.6 6.7L1019.2 162.6M968.6 6.7L829.5 56.5M971.6 312.5L1019.2 162.6M971.6 312.5L824.6 271.6M714.1 153.3L829.5 56.5M714.1 153.3L824.6 271.6" fill="none" stroke="#555" stroke-width="1"/><path d="M304.4 299l-5.4 3.3-8 1.2-194 .2-10.3-2.7-3-4-1.6-8-.2-196 1.6-8 3-4 4.5-2.3 8-.8 184-.6 14 .9 8 4.2 2.8 4.6 1.1 6-.2 190-1.4 10z" fill="url(#rz)"/><path d="M297.7 295l-8.7 2.5-174 .3-18-.9-6-3-2.7-8.9-.9-42 1-64-1-76 1-10 2.6-5.8 4-2.2 8-1 180-.9 10 .6 6.7 3.3 2.7 6 1.1 22-.1 146-1.2 24-1.6 6z" fill="url(#rz)"/><path d="M291.9 289l-4.9 1.7-68 .8-10-1.3-96 1-10-1.1-5.5-3.1-2.3-6-1.1-18-.1-70 1.1-16-1.1-74 3-8.6 4-2.8 6-1.3 176-.5 6 .7 4 2.3 2.7 6.2 1.4 16-1 86 .8 58-2 24z" fill="url(#r0)"/><path d="M289 283.2l-2 1.9-6 1.5-48 1.3-24-1.5-96 .6-8-1.5-3.5-2.5-2-4-1-10-.5-74 1.1-18-.6-72 2.5-7.1 4.8-2.9 9.2-1.1 64 .6 46-1.2 16 1.5 38-.5 6 .7 4 2.1 2.9 5.9 .8 12-0 138-1.1 20z" fill="url(#r1)"/><path d="M285 280.1l-8 2.9-44 1.3-22-1.1-96 .2-6-1.1-4-2.5-2.8-8.8 .4-66-1.1-10 1.1-90 2.4-4.6 4-2.1 10-1.3 60 1 46-1.2 16 1.6 36-.5 8.7 3.1 2.3 4 1 8 .2 136-.9 22z" fill="url(#r2)"/><path d="M282.3 277l-7.3 2.8-26 1.3-130-.7-6-.8-4.8-2.6-2.1-4-1.3-80 .3-80 .9-6 2.7-4 12.3-3.1 58 1.2 36-1.4 24 1.8 36-.5 8 3.1 2.9 8.9-.8 102 1 32-.6 22z" fill="url(#r3)"/><path d="M279.1 275l-6.1 1.9-22 1.4-104-1.3-12 1.1-18-.8-6-3-2.7-9.3-.8-42 .5-108 1-5.9 2-2.9 10-3.3 58 1 36-1.5 24 1.8 34-.5 4 .6 3.9 2.7 2.1 8-.7 100 1 26-.5 26-.8 4z" fill="url(#r4)"/><path d="M278.3 271l-5.3 2.9-24 1.7-16-1.5-106 1.2-12.2-2.3-2.8-4-1.7-28 1-128 2.1-4 3.6-2.2 6-.9 56 .7 36-1.5 24 1.8 32-.6 7.2 2.7 1.9 6 .5 46-1.1 16 1.1 20-1.1 16 .7 50z" fill="url(#r5)"/><path d="M275.2 269l-6.2 2.4-20 1.3-16-2-24 1.2-62-.7-12 1.3-12-.5-6-2.2-2.7-6.8-.9-22 1.3-74-1.3-30 1-20 2.6-5.7 6-2 38-.8 20 1.2 34-1.8 22 2 32-.5 6 1.8 1.6 3.8 1.1 46-1.3 14 1.4 22-1.3 16 .6 50z" fill="url(#r6)"/><path d="M271 265.1l-4 2-18 1.4-14-3.1-18 1.9-14-1.5-18 .2-26 2.3-12-2.1-10 1.6-12-.6-4-1.8-2-5.6-1-18.8 1.9-22-1.5-10 1.1-14-1.2-14 3.1-14-3.9-32 1.1-14 2.4-5.4 4-1.5 32-1.8 22 2.3 38-2.9 18 3.6 12-1.8 22 3.5 4.2 18-.9 14 1.2 12-2.2 12 2.9 20-1.9 20 .2 42z" fill="url(#r7)"/><path d="M535 299.5l-8-3.2-14-11.8-79.3-73.5-29.5-62-17.7-42-1.8-8 .8-4 3.2-4 22.3-13 43-21 53-28.9 12-3.8 8 1.1 108 34.3 14 5.4 3.8 3.9 1 4-1.9 22-13.6 80-4.5 18-5.7 8-82 92-5.1 4.5z" fill="url(#rz)"/><path d="M535 291.2l-6-1.9-14-11-77-69.3-5.7-10-34.8-82-3.3-12 1.6-6 9.2-5.5 10-8.5 12-5.4 84-47 8-2.3 8 1.2 26 8.5 82 30.2 7.7 4.8 1.9 6-3.7 40-9.2 62-2.6 8-7.8 10-79.3 86z" fill="url(#r3)"/><path d="M531 271.7l-8-2.1-14-9.7-58.3-46.9-7.7-7.6-10-22.4-20.5-64 .4-4 2.1-2.8 48-37.8 50-31.7 8-2.4 10.9 2.7 13.1 7.4 30 13 10 6.2 14 5 22 13.4 4 7 2.6 26-2.4 58-3.2 10-61.2 60-17.9 16z" fill="url(#r4)"/><path d="M525 252.4l-8-2.1-23.3-13.3-38.7-27.9-8-7.4-7.2-18.7-1.9-12-4.9-16.8-.7-15.2-2.7-8 2.2-6 9.2-8.5 6.3-9.5 7.7-4.1 7.8-7.9 9.1-6 7.1-7.9 33.1-26.1 10.9-4.6 6 1.6 26 16.2 46.1 30.8 7.4 10 4.4 10 5.7 44-.4 18-5.2 8.3-46 37.4-14.1 8.3-9.9 9.4-12 6.7z" fill="url(#r5)"/><path d="M521 233.8l-34-13-18-9.9-16.3-11.9-3.2-6-1.8-8-3.5-34 4-14 10.5-12 6.2-12 22.1-17.4 9.3-12.6 20.7-19 6-2.9 32 22.1 38.6 33.8 12.2 28 3.9 30-1.3 6-3.7 4-41.7 30-18 8.2-8 2.1-10.7 7.7z" fill="url(#r6)"/><path d="M509 214.6l-10-2.6-14-7.4-14-2.8-12-6.9-3.5-7.9-.2-28 3.6-10 24.5-34 9.6-8.6 10-13.9 18-16.3 4-.9 6 3.1 18 16.2 14 9.8 21 24.6 10.5 18 4.3 16 .8 8-2.2 6-10.4 9.4-20 7.5-12 8.2-30 10.8z" fill="url(#r7)"/><path d="M471 191.6l-4-3.3-1.5-5.3 1.2-12 3.5-14 16.8-27.8 12-12.5 10-15.2 16-12.2 6 1.8 28.8 21.9 7.2 12 12 14 6.7 14 1.4 14-1.5 4-4.6 5.1-6 3.1-20 5.8-8 4.3-14 3.9-10 6.1-8 .3-12-4.9-28-1.8z" fill="url(#r0)"/><path d="M477 180.7l-1.9-5.7 4-14 31.9-45.6 10-10.9 4-2.4 6 1.4 21.4 15.5 18.4 24 6.1 14-1 6-4.8 4-28.1 10.4-34 6.8-12-2-14 .1z" fill="url(#r1)"/><path d="M486.7 169l1.5-4 12.2-16 10-20 8.6-10.8 8-4.9 6 1.7 12 10.1 16.3 19.9 3.8 8-.1 4-2 2.4-28 7.7-22 1.6-19 4.3-5-.8z" fill="url(#r2)"/><path d="M510.7 155l.5-6 5.8-15.7 5.8-8.3 4.2-2.4 4 .7 8 6.2 8.5 11.5 2.5 6-1.1 4-5.9 2.9z" fill="url(#r3)"/><path d="M828 268.1l-7-5.1-90.3-104-1.8-4 .5-4 4.5-6 24.1-23 72-63.8 94-30.6 26-7.2 8.8 .6 4.4 4 5.8 12 41.9 116 2 10-11.6 36-34.3 90-3 4.5-4 2.7-10 .1-98-20.8z" fill="url(#rz)"/><path d="M830 262.9l-10.6-9.9-70.5-84-8.5-14 .5-6 48.5-48 42.6-38.4 10-4.1 66-19.6 40-10 6 .1 5.1 6 13.4 36 6 12 28.6 78-.6 6-11.1 30-33.4 79.1-4 6.1-3.5 2.8-10.5 .9-92-16.7z" fill="url(#r5)"/><path d="M942 261.4l-12 2.3-12-.8-14 1.6-14-3.1-26-.2-24-3.6-6-2-6.7-6.6-28.1-38-37.5-54-1.8-6 2.5-6 35.1-40 32.5-32.8 6-4.5 8-2.9 52-12 36-5.5 8 2.6 4.5 3.1 4.3 12 15.7 24 7.1 18 16.4 30 4.6 14 4.1 8 .8 6-4.8 12-17.6 34-12.8 20-4.3 9.8z" fill="url(#r6)"/><path d="M838.8 249l-4.5-4-19.9-32-20.8-40-9.6-15.4-1.7-6.6 1.5-6 19.9-32 17.3-22 17.1-18 7.9-2.8 62-8.1 8 .5 8 2.6 7.5 5.8 8.5 10.3 17.1 31.7 7.1 8 13.8 20.7 8.9 19.3 .3 4-1.9 6-45.3 62-16 10.3-44 7.2-16 .9-12-2.2z" fill="url(#r7)"/><path d="M908 231.1l-36 7.7-20 1.3-6.2-1.1-6.6-8-7.2-12-6.3-16-7.7-12-3.5-12-6.1-10-3.9-22 9.7-28 23-36 6.8-5.2 6-1.1 48 1.4 12 3.1 20.5 19.8 6.3 10 17.2 16.1 20.8 33.9 .9 4-1.5 4-18.7 20-21.5 26.5-10 7.8z" fill="url(#r0)"/><path d="M901.8 221l-17.8 1.4-20 6.9-6 .5-6-3.6-10.7-13.2-8.2-30-9.2-24-1.9-12 6.4-28 7.2-12 4.4-14 6-6.3 8-.9 34 3.9 8 2.2 9 9.1 9.3 6 15.7 16.4 12.2 9.6 19.1 28 .7 4.3-2.6 5.7-21.2 22-20.6 14z" fill="url(#r1)"/><path d="M862 218l-6-2.6-3.5-6.4-3.2-18-5.5-16-7.5-30 4.1-12 .9-8 8.3-24 4.4-3.9 6-.8 24 5.2 22 15.5 18 18.2 9.7 7.8 12 16 1.8 6-4.4 8-11.1 10.6-16 12.4-24 13.6-16 5.6z" fill="url(#r2)"/><path d="M872 205.8l-6.9-.8-3.3-4-9.7-44-.2-16 2.1-22 2.4-6 5.6-4 20 6.8 28 19.6 21.8 21.6 2.9 6-2.7 6.7-20 17.2-14 8.6-12 3.7-10 5.7z" fill="url(#r3)"/><path d="M884 191.4l-6 .5-4.9-2.9-3.5-6-4.7-16-.2-26 1.3-14 2-3.8 10 2.4 10 5.5 18 15.1 14.4 16.8-1.6 6-6.7 8z" fill="url(#r4)"/><path d="M886 182.3l-4-.2-3.4-3.1-3.3-18 .7-12.8 4-3.7 6 .7 6 3.3 11.1 8.5 3.9 6-.5 4-2.9 4-11.6 8.5z" fill="url(#r5)"/><g fill="none" stroke-linecap="round" transform="scale(.5)"><path d="M502 488h0m-247-183h0m248 204h0m-3-15h0m-289-199h0m144 187h0m81-220h0m-150 309h0m-109-321h0m394 45h0m-6 5h0m-45 80h0m37 195h0m-380-20h0m12 27h0m264-329h0m6 256h0m-64-256h0m-32-31h0m78 350h0m151-32h0m-163-121h0m-16-27h0m173-147h0m-46-24h0m-221 269h0m224-46h0m-210-231h0m-101 292h0m306 87h0m-89-329h0m76 304h0m-134-60h0m48-280h0m76-39h0m49 348h0m-298-8h0m62-333h0m85 257h0m16-165h0m-165-56h0m127 76h0m-158 229h0m332-272h0m-62 124h0m-316-55h0m354 23h0m-164-79h0m-54 83h0m237 31h0m-100 1h0m37 108h0m95 39h0m-97-108h0m-37-191h0m-171 238h0m113-206h0m-184 53h0m244-65h0m2 322h0m-161-110h0m181-251h0m-70 9h0m94 59h0m-207-96h0m251 68h0m-77 2h0m-148-40h0m9 129h0m91-61h0m53 87h0m-248-37h0m260-142h0m-284 171h0m275-53h0m-283 106h0m103 156h0m208-43h0m47-104h0m-331 63h0m-7-121h0m326-155h0m-8-10h0m-20 71h0m-249 27h0m10 279h0m145-2h0m-107-67h0m273-274h0m-85 209h0m-263-273h0m33 189h0m176-154h0m-39 338h0m40-198h0m29 55h0m-145 41h0m257 129h0m-353-186h0m2-18h0m164 196h0m-34-8h0m69-296h0m30 131h0m83-57h0m-266-163h0m195 192h0m-177 203h0m38-207h0m118 113h0m86-76h0m25 174h0m-216-386h0m207 350h0m-123-66h0m-53-46h0m78 119h0m-208-281h0m222 163h0m61-77h0m-52 67h0m-16 128h0m63-146h0m-64-227h0m26 324h0m-175-258h0m33-25h0m-61 24h0m185 267h0m-78-287h0m-99 19h0m-14 175h0m30-226h0m-81 367h0m236-175h0m-38-179h0m-182 197h0m48-178h0m23 167h0m29-213h0m43 72h0m-96 309h0m127-85h0m-78-278h0m-123 350h0m364 33h0m-42-372h0m-367 362h0m148-142h0m90-98h0m-224 229h0m380-39h0m-373-270h0m303-62h0m-245 217h0m41-228h0m-74 68h0m16-51h0m355 355h0m-85-161h0m-326-184h0m53 374h0m177-367h0m-60 274h0m77-254h0m22 11h0m16-50h0m-211 231h0m23 12h0m246 99h0m-308 20h0m215 43h0m-158-267h0m-84-136h0m95 178h0m13 209h0m307-39h0m-115-63h0m-270 38h0m117-58h0m187 46h0m-209-310h0m186 185h0m-266-134h0m51 165h0m69 35h0m-62-147h0m107 227h0m-211-260h0m211 204h0m133-160h0m-113 82h0m-191-156h0m100 116h0m-4 169h0m207-196h0m-64 114h0m-259 89h0m149-88h0m151 67h0m-164-303h0m1-7h0m-22 360h0m-36-62h0m216-321h0m-112 96h0m171 185h0m-136 128h0m-40-60h0m47-127h0m-123-199h0m-44 372h0m58-63h0m3-12h0m-38 40h0m179-147h0m95 175h0m-128-315h0m-22 228h0m12-42h0m47 5h0m-135-236h0m-2 197h0m60 68h0m-173 108h0m61-162h0m262-226h0m-272 400h0m156-256h0m132-149h0m-366 304h0m295-64h0m52 4h0m-1-66h0m-268 6h0m34-190h0m151 70h0m-158 243h0m51-258h0m-118-53h0m294 28h0m-40 232h0m-197-249h0m110 361h0m-45 5h0m117-294h0m-63 319h0m25-30h0m11-165h0m69-120h0m-76 76h0m37 38h0m31-103h0m-38 97h0m71 147h0m-215-128h0m79 178h0m-107-313h0m-48-34h0m19 176h0m58-191h0m58 86h0m-27 126h0m-184 17h0m248 146h0m153-290h0m-37-29h0m-119 166h0m39 88h0m-201-28h0m199-289h0m-69 383h0m26-141h0m63-124h0m-8 94h0m95 135h0m-308-137h0m273-171h0m-47 164h0m-263 73h0m108-126h0m-111 161h0m346-50h0m-285 125h0m205-16h0m18-84h0m48-173h0m-298-97h0m235 234h0m-53-168h0m-236 245h0m268-333h0m-106-11h0m-76 330h0m-21-134h0m28 72h0m185-8h0m61 63h0m-238-42h0m225-46h0m-185-63h0m-11-4h0m151 21h0m-124 81h0m109-221h0m-29 84h0m53 240h0m-261-368h0m19 276h0m191 48h0m-165-165h0m110-69h0m114-55h0m107 327h0m-323 10h0m-92-263h0m324 73h0m-168-165h0m-171 211h0m258-82h0m47 53h0m-220 79h0m280 34h0m23-40h0m-234-262h0m91 4h0m100 153h0m-261-71h0m-57 210h0m97-142h0m133-104h0m151 48h0m-31-88h0m-329 126h0m-14-25h0m60-107h0m270 156h0m-270-85h0m113 111h0m77-191h0m40 194h0m-152-183h0m-91-23h0m348 9h0m-164-15h0m26 227h0m-88-123h0m-181 158h0m116-181h0m173 243h0m-57 97h0m-69-189h0m-32 103h0m-2-295h0m266 388h0m-413-151h0m167-18h0m108-39h0m-111-106h0m92 48h0m110-96h0m-140 118h0m70 6h0m-100 232h0m124-174h0m85 113h0m-234-343h0m70 96h0m121 252h0m-152-286h0m-45 177h0m30 9h0m-137 30h0m143-126h0m-70 140h0m231-97h0m10 20h0m-284-57h0m45 80h0m-45-240h0m260 10h0m-46 37h0m-72 327h0m165-262h0m-22 155h0m-57 19h0m-17-90h0m-194-123h0m42 94h0m17 68h0m-107 9h0m100-212h0m95-31h0m-180 244h0m91-148h0m96 110h0m-116 32h0m97-227h0m-74 73h0m115-40h0m-274 48h0m267-13h0m39-8h0m-214 120h0m34 210h0m-61-369h0m63 193h0m187 29h0m-5 38h0m-28-53h0m-203-240h0m152 192h0m33-204h0m-154 320h0m-87-36h0m350-2h0m-243-222h0m154 304h0m-270-20h0m115-103h0m61 44h0m183-275h0m-209 180h0m-53 191h0m-106-215h0m281-161h0m-223 12h0m223 226h0m-164-169h0m-97 279h0m240-266h0m-17-46h0m161 252h0m-37-4h0m-298-42h0m259-231h0m-70 69h0m45-73h0m68 151h0m-18-68h0m-128-17h0m36 136h0m21 155h0m-75 27h0m202-334h0m-81 39h0m-14 175h0m-96-195h0m-75 67h0m60 187h0m4-212h0m-206 36h0m275 206h0m-59-320h0m54 329h0m-81-29h0m-204-69h0m195-174h0m124-26h0m-151 63h0m-64 152h0m270-54h0m-331 90h0m60 36h0m59-123h0m-44 3h0m200 12h0m-113-150h0m85-24h0m44 230h0m-122-181h0m95 73h0m-206 183h0m91-9h0m177-274h0m-191 280h0m114-45h0m-287-260h0m270 5h0m38 327h0" stroke="#00007a" stroke-width="6.9"/><path d="M501 487h0m-247-183h0m248 204h0m-3-15h0m-289-199h0m144 187h0m81-220h0m-150 309h0m-109-321h0m394 45h0m-6 5h0m-45 80h0m37 195h0m-380-20h0m12 27h0m264-329h0m6 256h0m-64-256h0m-32-31h0m78 350h0m151-32h0m-163-121h0m-16-27h0m173-147h0m-46-24h0m-221 269h0m224-46h0m-210-231h0m-101 292h0m306 87h0m-89-329h0m76 304h0m-134-60h0m48-280h0m76-39h0m49 348h0m-298-8h0m62-333h0m85 257h0m16-165h0m-165-56h0m127 76h0m-158 229h0m332-272h0m-62 124h0m-316-55h0m354 23h0m-164-79h0m-54 83h0m237 31h0m-100 1h0m37 108h0m95 39h0m-97-108h0m-37-191h0m-171 238h0m113-206h0m-184 53h0m244-65h0m2 322h0m-161-110h0m181-251h0m-70 9h0m94 59h0m-207-96h0m251 68h0m-77 2h0m-148-40h0m9 129h0m91-61h0m53 87h0m-248-37h0m260-142h0m-284 171h0m275-53h0m-283 106h0m103 156h0m208-43h0m47-104h0m-331 63h0m-7-121h0m326-155h0m-8-10h0m-20 71h0m-249 27h0m10 279h0m145-2h0m-107-67h0m273-274h0m-85 209h0m-263-273h0m33 189h0m176-154h0m-39 338h0m40-198h0m29 55h0m-145 41h0m257 129h0m-353-186h0m2-18h0m164 196h0m-34-8h0m69-296h0m30 131h0m83-57h0m-266-163h0m195 192h0m-177 203h0m38-207h0m118 113h0m86-76h0m25 174h0m-216-386h0m207 350h0m-123-66h0m-53-46h0m78 119h0m-208-281h0m222 163h0m61-77h0m-52 67h0m-16 128h0m63-146h0m-64-227h0m26 324h0m-175-258h0m33-25h0m-61 24h0m185 267h0m-78-287h0m-99 19h0m-14 175h0m30-226h0m-81 367h0m236-175h0m-38-179h0m-182 197h0m48-178h0m23 167h0m29-213h0m43 72h0m-96 309h0m127-85h0m-78-278h0m-123 350h0m364 33h0m-42-372h0m-367 362h0m148-142h0m90-98h0m-224 229h0m380-39h0m-373-270h0m303-62h0m-245 217h0m41-228h0m-74 68h0m16-51h0m355 355h0m-85-161h0m-326-184h0m53 374h0m177-367h0m-60 274h0m77-254h0m22 11h0m16-50h0m-211 231h0m23 12h0m246 99h0m-308 20h0m215 43h0m-158-267h0m-84-136h0m95 178h0m13 209h0m307-39h0m-115-63h0m-270 38h0m117-58h0m187 46h0m-209-310h0m186 185h0m-266-134h0m51 165h0m69 35h0m-62-147h0m107 227h0m-211-260h0m211 204h0m133-160h0m-113 82h0m-191-156h0m100 116h0m-4 169h0m207-196h0m-64 114h0m-259 89h0m149-88h0m151 67h0m-164-303h0m1-7h0m-22 360h0m-36-62h0m216-321h0m-112 96h0m171 185h0m-136 128h0m-40-60h0m47-127h0m-123-199h0m-44 372h0m58-63h0m3-12h0m-38 40h0m179-147h0m95 175h0m-128-315h0m-22 228h0m12-42h0m47 5h0m-135-236h0m-2 197h0m60 68h0m-173 108h0m61-162h0m262-226h0m-272 400h0m156-256h0m132-149h0m-366 304h0m295-64h0m52 4h0m-1-66h0m-268 6h0m34-190h0m151 70h0m-158 243h0m51-258h0m-118-53h0m294 28h0m-40 232h0m-197-249h0m110 361h0m-45 5h0m117-294h0m-63 319h0m25-30h0m11-165h0m69-120h0m-76 76h0m37 38h0m31-103h0m-38 97h0m71 147h0m-215-128h0m79 178h0m-107-313h0m-48-34h0m19 176h0m58-191h0m58 86h0m-27 126h0m-184 17h0m248 146h0m153-290h0m-37-29h0m-119 166h0m39 88h0m-201-28h0m199-289h0m-69 383h0m26-141h0m63-124h0m-8 94h0m95 135h0m-308-137h0m273-171h0m-47 164h0m-263 73h0m108-126h0m-111 161h0m346-50h0m-285 125h0m205-16h0m18-84h0m48-173h0m-298-97h0m235 234h0m-53-168h0m-236 245h0m268-333h0m-106-11h0m-76 330h0m-21-134h0m28 72h0m185-8h0m61 63h0m-238-42h0m225-46h0m-185-63h0m-11-4h0m151 21h0m-124 81h0m109-221h0m-29 84h0m53 240h0m-261-368h0m19 276h0m191 48h0m-165-165h0m110-69h0m114-55h0m107 327h0m-323 10h0m-92-263h0m324 73h0m-168-165h0m-171 211h0m258-82h0m47 53h0m-220 79h0m280 34h0m23-40h0m-234-262h0m91 4h0m100 153h0m-261-71h0m-57 210h0m97-142h0m133-104h0m151 48h0m-31-88h0m-329 126h0m-14-25h0m60-107h0m270 156h0m-270-85h0m113 111h0m77-191h0m40 194h0m-152-183h0m-91-23h0m348 9h0m-164-15h0m26 227h0m-88-123h0m-181 158h0m116-181h0m173 243h0m-57 97h0m-69-189h0m-32 103h0m-2-295h0m266 388h0m-413-151h0m167-18h0m108-39h0m-111-106h0m92 48h0m110-96h0m-140 118h0m70 6h0m-100 232h0m124-174h0m85 113h0m-234-343h0m70 96h0m121 252h0m-152-286h0m-45 177h0m30 9h0m-137 30h0m143-126h0m-70 140h0m231-97h0m10 20h0m-284-57h0m45 80h0m-45-240h0m260 10h0m-46 37h0m-72 327h0m165-262h0m-22 155h0m-57 19h0m-17-90h0m-194-123h0m42 94h0m17 68h0m-107 9h0m100-212h0m95-31h0m-180 244h0m91-148h0m96 110h0m-116 32h0m97-227h0m-74 73h0m115-40h0m-274 48h0m267-13h0m39-8h0m-214 120h0m34 210h0m-61-369h0m63 193h0m187 29h0m-5 38h0m-28-53h0m-203-240h0m152 192h0m33-204h0m-154 320h0m-87-36h0m350-2h0m-243-222h0m154 304h0m-270-20h0m115-103h0m61 44h0m183-275h0m-209 180h0m-53 191h0m-106-215h0m281-161h0m-223 12h0m223 226h0m-164-169h0m-97 279h0m240-266h0m-17-46h0m161 252h0m-37-4h0m-298-42h0m259-231h0m-70 69h0m45-73h0m68 151h0m-18-68h0m-128-17h0m36 136h0m21 155h0m-75 27h0m202-334h0m-81 39h0m-14 175h0m-96-195h0m-75 67h0m60 187h0m4-212h0m-206 36h0m275 206h0m-59-320h0m54 329h0m-81-29h0m-204-69h0m195-174h0m124-26h0m-151 63h0m-64 152h0m270-54h0m-331 90h0m60 36h0m59-123h0m-44 3h0m200 12h0m-113-150h0m85-24h0m44 230h0m-122-181h0m95 73h0m-206 183h0m91-9h0m177-274h0m-191 280h0m114-45h0m-287-260h0m270 5h0m38 327h0" stroke="#2020ff" stroke-width="4.0"/><path d="M447 520h0m-101-152h0m-35 113h0m-39-71h0m207 121h0m-89-272h0m-47 120h0m-145-60h0m66 99h0m16 168h0m314-259h0m-361-13h0m7 154h0m337-196h0m-132 119h0m-202-172h0m271 49h0m-227 253h0m254 66h0m-110-358h0m-99 146h0m275-72h0m-67-55h0m-323 246h0m40 40h0m37-290h0m286 135h0m-73-119h0m-299 255h0m110-321h0m-96 376h0m251-11h0m26-49h0m71 32h0m-218-376h0m165 398h0m-203-275h0m47-18h0m-63 96h0m91-115h0m83-5h0m93 215h0m-8 99h0m25-260h0m-337-82h0m261 56h0m72 96h0m-69 33h0m-17-100h0m-5-18h0m4 199h0m-319-217h0m245 10h0m-27 193h0m25-227h0m-77 26h0m-69 292h0m154-350h0m21 62h0m-126 204h0m47-194h0m-8 151h0m-101-269h0m-39 366h0m332-271h0m-129 211h0m-50-8h0m-19-66h0m197-206h0m-141 160h0m79 156h0m-262-15h0m18-94h0m212-87h0m-102 167h0m134-180h0m-95-56h0m136 313h0m-192-244h0m108 75h0m11 8h0m71-198h0m-112 239h0m-174 57h0m303 41h0m-179-306h0m-33 155h0m266 209h0m-332-257h0m57-121h0m193 278h0m66-205h0m-215 124h0m-85-223h0m5-5h0m-86 322h0m137-20h0m226-87h0m-259 65h0m49 77h0m136-366h0m-278 266h0m106-260h0m45 299h0m-67 100h0m8 21h0m244-262h0m-281 197h0m209-148h0m-61-133h0m-7 35h0m184 206h0m-192-84h0m-177 112h0m42-101h0m194-174h0m-71 335h0m32-194h0m-68 131h0m-127 26h0m3 16h0m307-67h0m-336-219h0m20 209h0m385-10h0m-171-81h0m52-91h0m-207-127h0m190 374h0m104-276h0m-95-14h0m-133 290h0m153-97h0m-82-257h0m18 408h0m-190-347h0m105 261h0m159-15h0m-44 21h0m-132-181h0m-111 127h0m217-233h0m-83 233h0m192-236h0m-220 151h0m207-30h0m-81 173h0m1-279h0m0 93h0m13 183h0m-251-201h0m378 217h0m-68-251h0m29 162h0m-14-134h0m-292 57h0m70 123h0m-71-312h0m272 167h0m-180 117h0m-73 81h0m335-71h0m-235-298h0m46 27h0m-183 297h0m98-164h0m-51 82h0m64-5h0m-28-228h0m-61 291h0m-15-298h0m99 141h0m-117 114h0m204-142h0m-194 200h0m274-223h0m-145-34h0m168 27h0m-320 276h0m333-323h0m-21 141h0m35 50h0m-19 91h0m-177-310h0m83 39h0m62 263h0m-211-13h0m266 44h0m31-225h0m-50 275h0m48 0h0m-188-307h0m95 224h0m-249-266h0m304 103h0m-156 124h0m-64-216h0m-7-45h0m-110 360h0m187-99h0m127-176h0m-77 193h0m-32-198h0m-200 166h0m356-95h0m-343-44h0m113 163h0m-79-114h0m45 68h0m149-217h0m6 321h0m-98-127h0m237 72h0m-65 61h0m34-98h0m-322-78h0m70-152h0m-4 287h0m-42-42h0m-38-10h0m264 132h0m-266 0h0m268-140h0m5-165h0m42 268h0m-224 51h0m19-285h0m249 239h0m-158-82h0m-227-279h0m70 228h0m-85 119h0m39 37h0m249-176h0m-138-3h0m209-208h0m-301 31h0m80 231h0m90 60h0m-69-171h0m-25 58h0m-121 145h0m153-46h0m-34-71h0m-16 105h0m100-59h0m-229-203h0m212 329h0m-86-363h0m-90 225h0m270 44h0m-156-188h0m63 94h0m-93 8h0m165-147h0m36 5h0m-151 213h0m49-57h0m14 152h0m-3-358h0m48-21h0m-279 55h0m322-60h0m-161 305h0m65-53h0m-24-192h0m51 152h0m-216 129h0m264-275h0m-183 238h0m211-206h0m95 266h0m-4 3h0m-137-48h0m-213-153h0m154-127h0m-108 254h0m-105-224h0m93 328h0m11-170h0m292-207h0m-195 77h0m100 153h0m-191 104h0m218 28h0m-27-86h0m-232-90h0m-3-127h0m51 64h0m247 14h0m-83 161h0m-249-16h0m213-162h0m77 168h0m-52-100h0m-170-186h0m266 3h0m-150 206h0m-56-47h0m-116 186h0m259-366h0m-88 261h0m-54 56h0m232-219h0m-286 284h0m245-168h0m-360 52h0m222-200h0m-226 21h0m242-49h0m134-38h0m-142 25h0m-88 287h0m-66-124h0m-37-142h0m316 175h0m-228-54h0m238-72h0m-252 296h0m-16-112h0m83-53h0m-3-140h0m-17 161h0m29-246h0m137 163h0m-91 123h0m-219-138h0m340-156h0m-284 318h0m184-113h0m95 125h0m56-172h0m-343-26h0m-34 16h0m134 87h0m-39 25h0m2 85h0m-103-181h0m240-90h0m18 260h0m-95-42h0m-116-214h0m-33 305h0m143-338h0m95-26h0m69 280h0m-118-21h0m-207 95h0m255-281h0m115 271h0m-5-273h0m0 247h0m-177-1h0m-136-169h0m88-117h0m80 29h0m62 109h0m-298-29h0m230-134h0m-116 285h0m-112 90h0m138-390h0m124 381h0m20-382h0m-6 192h0m120 219h0m-72-416h0m-233 226h0m228-210h0m33 285h0m-275-44h0m102-17h0m-21-4h0m114-25h0m98 168h0m-208-87h0m132-26h0m-144-135h0m172-140h0m-263 9h0m94 6h0m188 360h0m49-42h0m-178-20h0m26-208h0m182 205h0m-234-95h0m25-61h0m-129 215h0m213-338h0m77 77h0m-340 64h0m200 231h0m145-307h0m-217 158h0m248 63h0m-302-24h0m91-205h0m-151 33h0m164-15h0m-54-54h0m-47 92h0m20 41h0m-27 41h0m60 84h0m240-235h0m-362 279h0m317-89h0m-296 2h0m85-16h0m-69-52h0m300 139h0m-300-45h0m298 105h0m-213-143h0m46 130h0m-209-304h0m198 67h0m90 223h0m-253 43h0m301-41h0m-224-182h0m125-73h0m-106 136h0m257-161h0m-63 221h0m-266-170h0m102-22h0m-117 92h0m244-202h0m-116 83h0m106-46h0m-205 128h0m29 28h0m-32-144h0m0-8h0m208 3h0m-2 295h0m-47 14h0m-50-349h0m-78 50h0m95 266h0m-155 11h0m-37-189h0m251-22h0m-42-105h0m100 247h0m-94-120h0m147 223h0m-115-245h0m-13-75h0m10 150h0m-160 196h0m238-145h0m-176-63h0m-79 172h0m295-180h0m-259 18h0m-21-199h0m-19 333h0m211 3h0m-49 16h0m-210-274h0m245 70h0m-225 201h0m87-183h0m-35 78h0m-18-37h0m262-199h0m-304 36h0m58 220h0m111 142h0m-30-38h0m56-136h0m-113 27h0m203-259h0m-57 199h0m100 0h0m-130 219h0m-9-349h0m128 327h0m-259-131h0m260-37h0m-125-56h0m-194 10h0m271 42h0m54-188h0m-291 111h0m173-37h0m-107 47h0m251 209h0m-369-197h0m396 140h0m-292-1h0m219-291h0m-210 23h0m-87 266h0m378-61h0m-351-21h0m230-6h0m-246 105h0m68-263h0m-76-68h0m127 393h0m47 10h0m101-89h0m-192-64h0m89-164h0m-173-50h0m167 368h0m115-76h0m-25-327h0m-179 355h0m98 26h0m108-266h0m-141 173h0m178-109h0m-169 234h0m-185-127h0m223-113h0m-164 14h0m43-184h0m-82 381h0m122-136h0m219-37h0m-134 5h0m73 23h0m-283 91h0m132-290h0m-40 271h0m140 39h0m-242 6h0m37-20h0m12 80h0m83-186h0m-71-219h0m222 205h0m-221 187h0m315-260h0m-193-43h0m97 123h0m-142 127h0m56 32h0m76-165h0m-194-53h0m259 216h0m-190-209h0m79-103h0m-240 194h0m180 123h0m-122-118h0m101-225h0m124 381h0m130 10h0m-129-349h0m-221-27h0m233-46h0m82 201h0m-310 201h0m-40-80h0m185-163h0m-43-139h0m-84 393h0m184-147h0m-217 42h0m30-129h0m260 63h0m64 126h0m-70-380h0m-334 84h0m164 42h0m130 95h0m4 130h0m-169-289h0m82 47h0m84 160h0m-11 105h0m136 50h0m-144-76h0m69-44h0m47-13h0m-151-166h0m-97 31h0m-56 72h0m286 27h0m-61-87h0m50-48h0m-127 234h0m-154-253h0m96 116h0m-137-220h0m197 313h0m-186-96h0m228-4h0m-212 29h0m-18-81h0m277 200h0m-205-354h0m239 356h0m-120-37h0m9 17h0m-50-289h0m4 199h0m28-31h0m41-147h0" stroke="#00007a" stroke-width="8.4"/><path d="M446 519h0m-101-152h0m-35 113h0m-39-71h0m207 121h0m-89-272h0m-47 120h0m-145-60h0m66 99h0m16 168h0m314-259h0m-361-13h0m7 154h0m337-196h0m-132 119h0m-202-172h0m271 49h0m-227 253h0m254 66h0m-110-358h0m-99 146h0m275-72h0m-67-55h0m-323 246h0m40 40h0m37-290h0m286 135h0m-73-119h0m-299 255h0m110-321h0m-96 376h0m251-11h0m26-49h0m71 32h0m-218-376h0m165 398h0m-203-275h0m47-18h0m-63 96h0m91-115h0m83-5h0m93 215h0m-8 99h0m25-260h0m-337-82h0m261 56h0m72 96h0m-69 33h0m-17-100h0m-5-18h0m4 199h0m-319-217h0m245 10h0m-27 193h0m25-227h0m-77 26h0m-69 292h0m154-350h0m21 62h0m-126 204h0m47-194h0m-8 151h0m-101-269h0m-39 366h0m332-271h0m-129 211h0m-50-8h0m-19-66h0m197-206h0m-141 160h0m79 156h0m-262-15h0m18-94h0m212-87h0m-102 167h0m134-180h0m-95-56h0m136 313h0m-192-244h0m108 75h0m11 8h0m71-198h0m-112 239h0m-174 57h0m303 41h0m-179-306h0m-33 155h0m266 209h0m-332-257h0m57-121h0m193 278h0m66-205h0m-215 124h0m-85-223h0m5-5h0m-86 322h0m137-20h0m226-87h0m-259 65h0m49 77h0m136-366h0m-278 266h0m106-260h0m45 299h0m-67 100h0m8 21h0m244-262h0m-281 197h0m209-148h0m-61-133h0m-7 35h0m184 206h0m-192-84h0m-177 112h0m42-101h0m194-174h0m-71 335h0m32-194h0m-68 131h0m-127 26h0m3 16h0m307-67h0m-336-219h0m20 209h0m385-10h0m-171-81h0m52-91h0m-207-127h0m190 374h0m104-276h0m-95-14h0m-133 290h0m153-97h0m-82-257h0m18 408h0m-190-347h0m105 261h0m159-15h0m-44 21h0m-132-181h0m-111 127h0m217-233h0m-83 233h0m192-236h0m-220 151h0m207-30h0m-81 173h0m1-279h0m0 93h0m13 183h0m-251-201h0m378 217h0m-68-251h0m29 162h0m-14-134h0m-292 57h0m70 123h0m-71-312h0m272 167h0m-180 117h0m-73 81h0m335-71h0m-235-298h0m46 27h0m-183 297h0m98-164h0m-51 82h0m64-5h0m-28-228h0m-61 291h0m-15-298h0m99 141h0m-117 114h0m204-142h0m-194 200h0m274-223h0m-145-34h0m168 27h0m-320 276h0m333-323h0m-21 141h0m35 50h0m-19 91h0m-177-310h0m83 39h0m62 263h0m-211-13h0m266 44h0m31-225h0m-50 275h0m48 0h0m-188-307h0m95 224h0m-249-266h0m304 103h0m-156 124h0m-64-216h0m-7-45h0m-110 360h0m187-99h0m127-176h0m-77 193h0m-32-198h0m-200 166h0m356-95h0m-343-44h0m113 163h0m-79-114h0m45 68h0m149-217h0m6 321h0m-98-127h0m237 72h0m-65 61h0m34-98h0m-322-78h0m70-152h0m-4 287h0m-42-42h0m-38-10h0m264 132h0m-266 0h0m268-140h0m5-165h0m42 268h0m-224 51h0m19-285h0m249 239h0m-158-82h0m-227-279h0m70 228h0m-85 119h0m39 37h0m249-176h0m-138-3h0m209-208h0m-301 31h0m80 231h0m90 60h0m-69-171h0m-25 58h0m-121 145h0m153-46h0m-34-71h0m-16 105h0m100-59h0m-229-203h0m212 329h0m-86-363h0m-90 225h0m270 44h0m-156-188h0m63 94h0m-93 8h0m165-147h0m36 5h0m-151 213h0m49-57h0m14 152h0m-3-358h0m48-21h0m-279 55h0m322-60h0m-161 305h0m65-53h0m-24-192h0m51 152h0m-216 129h0m264-275h0m-183 238h0m211-206h0m95 266h0m-4 3h0m-137-48h0m-213-153h0m154-127h0m-108 254h0m-105-224h0m93 328h0m11-170h0m292-207h0m-195 77h0m100 153h0m-191 104h0m218 28h0m-27-86h0m-232-90h0m-3-127h0m51 64h0m247 14h0m-83 161h0m-249-16h0m213-162h0m77 168h0m-52-100h0m-170-186h0m266 3h0m-150 206h0m-56-47h0m-116 186h0m259-366h0m-88 261h0m-54 56h0m232-219h0m-286 284h0m245-168h0m-360 52h0m222-200h0m-226 21h0m242-49h0m134-38h0m-142 25h0m-88 287h0m-66-124h0m-37-142h0m316 175h0m-228-54h0m238-72h0m-252 296h0m-16-112h0m83-53h0m-3-140h0m-17 161h0m29-246h0m137 163h0m-91 123h0m-219-138h0m340-156h0m-284 318h0m184-113h0m95 125h0m56-172h0m-343-26h0m-34 16h0m134 87h0m-39 25h0m2 85h0m-103-181h0m240-90h0m18 260h0m-95-42h0m-116-214h0m-33 305h0m143-338h0m95-26h0m69 280h0m-118-21h0m-207 95h0m255-281h0m115 271h0m-5-273h0m0 247h0m-177-1h0m-136-169h0m88-117h0m80 29h0m62 109h0m-298-29h0m230-134h0m-116 285h0m-112 90h0m138-390h0m124 381h0m20-382h0m-6 192h0m120 219h0m-72-416h0m-233 226h0m228-210h0m33 285h0m-275-44h0m102-17h0m-21-4h0m114-25h0m98 168h0m-208-87h0m132-26h0m-144-135h0m172-140h0m-263 9h0m94 6h0m188 360h0m49-42h0m-178-20h0m26-208h0m182 205h0m-234-95h0m25-61h0m-129 215h0m213-338h0m77 77h0m-340 64h0m200 231h0m145-307h0m-217 158h0m248 63h0m-302-24h0m91-205h0m-151 33h0m164-15h0m-54-54h0m-47 92h0m20 41h0m-27 41h0m60 84h0m240-235h0m-362 279h0m317-89h0m-296 2h0m85-16h0m-69-52h0m300 139h0m-300-45h0m298 105h0m-213-143h0m46 130h0m-209-304h0m198 67h0m90 223h0m-253 43h0m301-41h0m-224-182h0m125-73h0m-106 136h0m257-161h0m-63 221h0m-266-170h0m102-22h0m-117 92h0m244-202h0m-116 83h0m106-46h0m-205 128h0m29 28h0m-32-144h0m0-8h0m208 3h0m-2 295h0m-47 14h0m-50-349h0m-78 50h0m95 266h0m-155 11h0m-37-189h0m251-22h0m-42-105h0m100 247h0m-94-120h0m147 223h0m-115-245h0m-13-75h0m10 150h0m-160 196h0m238-145h0m-176-63h0m-79 172h0m295-180h0m-259 18h0m-21-199h0m-19 333h0m211 3h0m-49 16h0m-210-274h0m245 70h0m-225 201h0m87-183h0m-35 78h0m-18-37h0m262-199h0m-304 36h0m58 220h0m111 142h0m-30-38h0m56-136h0m-113 27h0m203-259h0m-57 199h0m100 0h0m-130 219h0m-9-349h0m128 327h0m-259-131h0m260-37h0m-125-56h0m-194 10h0m271 42h0m54-188h0m-291 111h0m173-37h0m-107 47h0m251 209h0m-369-197h0m396 140h0m-292-1h0m219-291h0m-210 23h0m-87 266h0m378-61h0m-351-21h0m230-6h0m-246 105h0m68-263h0m-76-68h0m127 393h0m47 10h0m101-89h0m-192-64h0m89-164h0m-173-50h0m167 368h0m115-76h0m-25-327h0m-179 355h0m98 26h0m108-266h0m-141 173h0m178-109h0m-169 234h0m-185-127h0m223-113h0m-164 14h0m43-184h0m-82 381h0m122-136h0m219-37h0m-134 5h0m73 23h0m-283 91h0m132-290h0m-40 271h0m140 39h0m-242 6h0m37-20h0m12 80h0m83-186h0m-71-219h0m222 205h0m-221 187h0m315-260h0m-193-43h0m97 123h0m-142 127h0m56 32h0m76-165h0m-194-53h0m259 216h0m-190-209h0m79-103h0m-240 194h0m180 123h0m-122-118h0m101-225h0m124 381h0m130 10h0m-129-349h0m-221-27h0m233-46h0m82 201h0m-310 201h0m-40-80h0m185-163h0m-43-139h0m-84 393h0m184-147h0m-217 42h0m30-129h0m260 63h0m64 126h0m-70-380h0m-334 84h0m164 42h0m130 95h0m4 130h0m-169-289h0m82 47h0m84 160h0m-11 105h0m136 50h0m-144-76h0m69-44h0m47-13h0m-151-166h0m-97 31h0m-56 72h0m286 27h0m-61-87h0m50-48h0m-127 234h0m-154-253h0m96 116h0m-137-220h0m197 313h0m-186-96h0m228-4h0m-212 29h0m-18-81h0m277 200h0m-205-354h0m239 356h0m-120-37h0m9 17h0m-50-289h0m4 199h0m28-31h0m41-147h0" stroke="#2020ff" stroke-width="4.9"/></g><path d="M282.3 277l-7.3 2.8-26 1.3-130-.7-6-.8-4.8-2.6-2.1-4-1.3-80 .3-80 .9-6 2.7-4 12.3-3.1 58 1.2 36-1.4 24 1.8 36-.5 8 3.1 2.9 8.9-.8 102 1 32-.6 22z" fill="url(#rf)"/><path d="M508.5 266.7l-17-16.7-1.1-2.5 .8-5-9.3-8-4.3-6-2.4-6-.1-13-5.6-7.2-8-2.1-6-6.8-4-.4-.7 2.5 3.5 6-2.3 5 .2 7-6.7 2.5-4.4-4.5-2.6-7.7-7-7.5-1.7-8.8-7.3-7.4-5-12-6.3-5.6-2.5-20 2.6-8 1-12-5.2-3-8.5-2-2.2-2-5.2-12 1.6-11 3.7-3.8 16-2.9 13 2.9 9-2.1 8 1 4 2 3.6 5.9 11.5 7 2.3 7 4.6 .3 6 4.2 2-1.2 .8-2.3-2.8-7 6.3-12-5.4-10-.7-9-3.5-4-3.7-1.4-8-.1-6 4.1-8-5.5 1-3 6-.9 11-5.6 8-2.4 13 3.8 13-1.3 7 .8 12-2.8 22 9.6 6-7.3 1.2-5 7.4-12 4.4-1.6 11 3.3 5 5.6 5 3 3.1 5.7 1.4 7 1.5 1.3 22-10 8-1.8 8.2 .5 7.1 13 .8 8-1.7 8 1.5 12 3.1 4.8 4 2.2 2.3 3-.5 10 1.1 3 7.1 2.9 2.1 3.1-7 15-2 9-9.6 6-6.6 10 1.1 3.3 9.5 6.7-.4 10-10.1 8-5-.9-16 6.4-11 9.1-4.7 8.4 2.2 3 6.5 3.4 2.1 2.6 1.6 7-.4 7-1.3 3.3-5 2.5-2.1 4.2-4.9 4.2-3.5 .8-1.2-6-2.3-1-.9 2 2.6 6-3.6 4-3.1 1-14-.7-3.1-1.3-12.9-14.4-7-.2-4.3 2.6-5.5 14-7.5 4-.7 6.6-6 .3zM542.5 75l2.6-1.5-.6-3-2 1.7zM527.5 119.1l2-.1 6-3.9 5-12.4 4-1.8-.6-9.4-15.4 1.4-2 2.2-.6 4.4-4.4 3.6-2.2 7.4 3.6 2zM460.5 142.6l6-1.2 5 2.6 2-.9 1.4-10.6 4.7-5-5.1-7.6-4.6 9.6-7.3 4zM578.4 143.5l2.9 7 3.2 .8 7-4.8 7 .9 6-3.8 5 1.6 4-.2 4.9-5.5-8.9-3.7-3.2-4.3-.1-4-1.7-.8-9 5.9-13 1.7zM568.9 142.5l-1.4-3.1-2-.3-2 1.4 0 2 1.5 1zM510.5 190.2l2.2-6.7-4.2-5.8-2.8 1.8-.5 3zM486.7 183.5l-2.2-1.6-2.1 1.6 2.1 1.5zM549.5 213.4l-.7-9.9-1.3-1.4-6-1.5-5 1.3-3-.5-3.8-5.9-6.2-4-7 3 .7 3 7.6 6-1.5 7 1.2 1.6 13 .7 4 1.3 4-1.4zM489.7 205.5l.2-3-3.4-1.7 .3 3.7zM537.5 225.5l-2-3.5 0 2.6zM536.5 295.2l-3 .5-3-1.2-6-8.2-2.3-7.8 2.3-5.4 7 .3 9.3 7.1 1.3 4z" fill="url(#bs)" fill-rule="evenodd"/><path d="M642.7 130.5l-2.9 6-.3 7.5-4 3-2-1.2-1.5-7.3-1.9-2-4.6-2.2-10 .2-3.5-4-.3-6-6.2-1.8-8 2.1-4-3.1-2 .1-3.5 6.7-9.5 3.3-2 6.5-2 1.4-15-6.8-6 5.5-.5 3.1-2.9 4 2.3 5-2 4 1.1 1.1 2.1-.1 1.4-5 4.5-3.6 6 2.1 9-2.2 3.7 7.7 3.3 1.9 4-.7 8-4.5 5 .1 5-2.2 9 1.4 2.3 4 1.7 .8 3.8-.8 3.2-2.6 .8 1.6-3 11 5.8 11-.2 3-7.4 1.7-7 7.7-12 2.4-2.1 5.2-5.9 2.3-6 7.7-4-.8-4-5-6-2.7-2 .8-2.8 6.7 2.8 8 1.1 0 3.9-5.5 2-.1 4.1 6.6 10.9 9 4.2 8-1.2 3.4-5 2.6-3 6.9-7-1.8-3.2 .9-1.4 3 .6 6.1-2.6 1.9-8.4-5.6-5-.5-8-3.6-7.5-9.3 1.7-7 4.8-2 2-7.5 7-3.5-3.8-6 7-6 3.5-12-1.7-.8-4 3.6-5 .5-5 4.4-9.6-1.7-3.3-3 1.7-9-6.8-9.1-3 .7-5.7 5.4-2.3 .1-4-7.1-7-2.3-4-5.7-2-.3-1.1 2.3 .8 5-5.2 4-3.5 5.5-3 .2-2.4-3.7-6.6-3.3-6 4.5-1.5 3.8 1.7 3 5.8 1.4 7-.9 1.3 1.5-0 2-2.3 2-8 1.2-9-4.5-5-5.7-5 2.3-2-.6-1.6-6.7 2-7-1.4-2.6-2-.6-6.9 5.2-1.7 5-4.4 1.8-1.7 2.2 .1 11 2.2 5-.6 1.4-2 .3-1.3-4.7-6.7-3.3-1.1-5.7-10.9-10.6-1.7-4.4-.3-6.9-8-5.9-.1-15.2 3.6-12-2.2-4 1-8-1.3-1.5-13.8-4.5-5.3-10-.8-8 1.9-3.1 9 .7 9-4.4 10 3.6 12 .7 7-2.3 5 9 4-.1 2.9 1.9 1.4 6 4.6 8 5.1-1.6 2.3 1.6-.2 8-2.1 2.4-7 2.7-5.3 11.9 .3 4.2 3 3.6 3 1.3 14-.6 4.2-6.5 5.7-17-.2-3-3.7-4 0-2.9 2-.9 11 1.3 3.4-2.5 3.1-6-1.5-.7-10 3.1-7.4-6.4 2.2-13-4.5-8 .3-9-6.5-11 5.9-2.7 5 .5 5-1.8 9-.9 8 2.5 11-3.5 8 3.6 10.9 8.3-6.7 10 4.9 3-.7 4-8.4 4.7-8 14-7.8 4.3 .2 3 2.6 4 6.7 4-.5 6 2.8 3.2 11-4 3-4.1 7-5.6 11.7-3.5-4.9-7 1.9-4 .1-5 3.2-3.5 .4-2.5-1.9-8-3.5-4 1.5-8-5.6-8 8.3-17 3.8-3.6 3-.6 5.3 5.2 12.7 7 1.3 4-1.6 5 .7 3 7.6 4.8 3-.6 7-6.9 9-4 12-2.8 4 .7 6.8 8.8 1 8-2.8 9 2.3 11 3.7 7.5 5.9 4.5-2.3 10 6.8 11zM608.7 68.5l-1.7 1 1.5 .3zM547 145.5l-3.5-2.6-5 2-5-3.5-2 .1 5 6.7 9-1.3zM440.5 147.6l1.8-3.1-2.8-2.2-1.8 2.2 .8 2.1zM624.5 150.9l-3.4-3.4 1.4-2.1 2 1.6zM543.5 166.1l4.3-10.6-4.3-4-6-2.5-3.8 5.5-.7 3 4.5 2.2 3 5.2zM614.1 160.5l.6-2-1.2-2.4-5-2.5-2.2 .9-.7 2 1.9 3 4 2.1zM480.8 169.5l-.3-6.5-2.5-.5-3.1 2-.7 2 1.3 2.3zM448.7 173.5l-1.2-2-2.2 0 .2 2.2zM514.5 262.9l-2.2-.4-2.8-3.4-4 .4-3-1.9-4.1-12.1 1.1-6.2-6 .4-4.7-2.2-4.9-5-5.6-9 1.7-10 2.5-3.8 6.4-.2 4.6 3.3 3.1-1.3-2.2-5-.2-4 1.3-2.2 5.8-2.8-2.3-6 1.5-3.6 2 .6 4 5.6 .2 9.4 9 6 .8 7.3 12 1.1 4.8 11.6-1.8 10-4.9 14-2.1 2.5-6 2.7zM584.5 194.4l1-3.4-2-1.3-.3 2.8zM464.2 194.5l.3-2.4 3-.5-1 2.4zM536.8 284.5l-3.3 1.1-2.8-3.1 3.9-1 1.8 1z" fill="url(#bm)" fill-rule="evenodd"/><path d="M464.4 180.5l.6-7-1.2-3-5.2-6-1.2-4-5.9-1.4-.3-2.6 3.3-3.3 2-.3 2.7 1.6 1.3 3.1 3 .6 5-4.7 9.1-2 8.9-24.2 2-2 3-.3 1.9-4.5 2.1-1.9 8-3.7 .9 4.6 8.1 3.9 4.2 8.1 2.8 1.5 6-3.6 12-4.1 10 .2 .5-2-1.6-5 2.1-2 8 3.2 2-.7 .2-4.5-6.4-9 5.2-2.4 6 3.4 1.7 0-3-5-5.7-1-2.3-2 1-3 5.1-5-4.8-4.7-.6-5.3-3-4 .6-6-5.9-8 4.9-7.4 7 2 1.7-.6-1.7-4.1-4.2-2.9 .5-3 4.7-1 11 7.5 4.9 1.5 .5 3-4.4 3-.2 2 5.2 8 9 4.1 4-.9 3-6.4 6-2.8 4 1 2 6.4 6 0 2.2-3.4-.2-2.4-7-.4-1.9-1.2 1-3 1.9-1.3 11-1.4 3 3.7 4 2.3 2.4 8.7-3.4 10 2.1 4 .6 6 4.3 9.1 5.3 4.9-1.3 3.4-6.3 6.6-1.3 4 2.5 5 3.1 2.1 3.4-3.1-1.1-4 .7-1.3 5 8.3-.1 3-2.8 5 .9 5-1 2.8-2 .5-1-1.2-.3-6.1-2.7-2.3-5-2.2-9-1.4-5-9.5-7-2.1-7 1.4-1.3-1.9 .3-6-2-1.7-4.4 2.7-3.6 11-2 2.5-6 1.7-6-1.9-1.8 .7 3.5 3-.7 4.9-2 .1-5-3.6-8-3-9.8 6.6 0 4-1.2 1.1-2-1.1-.8-4-3.2-1.6-1.8 .6-.4 3-1.8 1.9-6-2.5-3.6 .6-.6 2 4.2 9-3.9 10 5.9 3.3 1.1 2.7-1.3 2-7 4-1.8 4.4-1 .5-1.6-2.9-10.4-3-4-6.1-2-.7-3.7 2.8-0 5-1.3 2.2-4 1.6-8 .1-5.5-6.9-1.5-7.1-3-1.1-7.5 3.2-1.6 2 2.9 15zM515.5 103.5l-7 1.8-4 3.4-5-4.7-7 3.4-3-0-3-1.9-2.5-7 1.2-7-5-8 2.1-9-4.1-6 .4-4 6.9-.4 4-2.9 8-.8 2.9 1.1 4.1 4.3 5-3.8 7-1.1 5 1.8 4 4.5 5.3 2.3 .8 3-6.2 7-3.1 10zM492.2 73.5l-2.7-1.9-2.1 2.9 2.1 .7zM566 78.5l-3.5-3.5-2.7 .5-.1 2 1.8 2.2 3 .2zM606.3 86.5l-.8-2.8-2-1.4-2 .3-1.8 1.9 .1 2 1.7 1.2zM508.5 89.7l4.6-3.2 .4-2-1-1-2.1 1zM440.5 190.7l-8.4-8.2-.1-7-6.5 .5-2-2.5 2-13-4-.1-2.6-1.9 4.7-6 .5-4-1.5-4 2.2-3-4.3-2.2-1-3.8 1.4-4 1.6-1.2 7.3 2.2 4.8 6 .8 7 4.1 5.9 5.2-4.9-1-5-6.2-8.8-8-7.1-10-.2-2-11.9-1.2 2-4.8 1.3-8-3.3-5.9-9-.1-8.1 8 3.7 3.6 .4 1.5-1 1.9-4.8 3-.9 3 2.4 4.5 1.3 2 5 3.5 1.9 2.1-2.9-1.6-5 1.5-.8 5 1 10 4.5 4.4 6.3-.3 6 1.7 3 5.2-.5 4 2.8 6.1 .7 .5 4-1.6 2-8-.1-3.4 2.1 .6 5-2.6 8-.4 6-4.3 8-.7 4 1.8 3.8 6.3 4.2 .2 2-2.5 2-6-2-3.9 2-.5 3 2 4-3.1 8zM608.5 96.5l-2-1.4-2.3 2.4 2.3 .3zM573.4 104.5l2.1-2.7-2.1 .7zM576.9 112.5l-5.4-2.8-2.1 1.8 .4 2 1.7 .9zM609.5 117.4l2.9-2.9-.9-4.3-2 .7-1.5 2.6 .1 3zM441.5 123.6l.3-3.1-3.3-4.8-2.4 4.8 2.4 2.5zM451 128.5l-3.5-1.8-2.6 1.8 3.6 1.5zM501.6 135.5l.1-4-1.2-1.8-8-.5-1 1.1 .2 3.2 1.8 2.1 5 1zM513.1 136.5l.4-3-2-.5 0 2.8zM542 192.5l2.7-5-0-6 3.8-.3 1.9-2.7-3.9-1.9-2 .9-1 3.3-3-.7-3-3.1 0-4 2-2.8 4-.2 3-1.7 1.8-8.8 8.2-1.8 1-5.7 2-2.2 6 1.7 8-1.7 1.6 4.7 7.4 7.1 4.8-2.1 5.2-5.3 3-.8 6.3 .1 2 6 6.7 4.7 3.8-.7 4.2-4 1 1 0 5 2.8 6-.6 4-9.2 8.8-2 .4-3-1.8-1.3 2.6-7.7 3.9-3 4-6 1.4-1.8-5.3-5.2-2.6-3 1.6 .8 6-.8 1.5-2 .1-2.7-2.6 0-5-4.3-6.2-3.8 4.2-7.2 4.5-6 1.2-3.1 3.3-5.9-.7zM508.1 157.5l2.4 .2 4.1-3.2-5.7 1zM590.9 173.5l-2.4-3.7-5-1.7-2-2.3-2 .5 3 8.6 3 .4zM561 179.5l-1.5-3.4-2-.3-2.8 1.7 3.8 3.6zM584.5 202.5l-1.5-3 4.1-1-.2 3zM500.5 206.5l-2 .5-2-1.5 .8-3 3.7-0 .6 2zM565.5 210.7l-2-.1 0-1.7 1.2-.4zM524.2 253.5l-8.7 4.4-5-9-7.5-3.4-1.5-9.3-2-.4-6 2.5-5.2-2.8-2.2-3-1.1-5-3.5-2.1-1.4-2.9 3.4-9.7 3-1.1 2 .9 0 7.9 2 1.5 2-.4 4.7-6.1 7.3 3.3 6-4.4 1.4 1.1 .6 10.1 1 .4 2.2-4.5 2.8-1.3 10 1.7 2.3 6.6-1.5 6-0 8zM552.5 240.8l-3.8-7.3 3.8-5 1.6-7 1.8-2 2.6-.4 4 1.8 4-4.2 6-.4 5-2.7 9 5.7 4.9 5.2 1.1 6.2-2 1.5-5.1 .3-1.3 2 .4 4-8.3 3-2.7 7.9-4-1.1-3-2.9-5 .1zM506.5 257l-3-1.2 1-3 2.8 1.7z" fill="url(#bd)" fill-rule="evenodd"/><path d="M568.6 57.5l-2.1 .7-3-1.5-3-4.2-0-2.6 6 1.6 2.8 4zM562.1 64.5l-6.6 4.2-5.6-4.2-1.1-3 2.7-3 3-.4 4.9 2.4zM505.4 104.5l-5.9-2.8-6 2.3-3-1-3-5.7 2.7-5.8-8.2-8 .5-3.5 2-2.1 9-1.7 4.4 .3 .3-5-6.6-4 .9-2.1 3-1.9 3 .2 4 6.1 6.2-.3 1.1-5 2.7-1.1 16.5 8.1-.4 2-10.1 11.7-4-4-3-1.2-2.9 2.5-4.1 7-4.8 3 1.8 3.2 5.2 1.8 .6 4zM580.7 77.5l-2.2 1-11-2.7-5.7-4.3-.2-2 4.9-4.4 3-.2 3 2.6 2 5.3 5.5 1.7zM487.1 69.5l-3.6 2.1-2.6-2.1-.1-2 1.7-1.1 4.3 1.1zM594.5 73.3l-1.4-1.8 .7-3 2.7-1.3 3 .7 .9 2.6-.9 1.8zM627.5 130.3l-5.2-.8-4.8-3.7-4.4-7.3 2-10-1.6-2.8-2 .2-4 4.5-3 6.1-3 1.3-1.6-1.3-1.6-7-1.8-1.2-4.6 .2 3.9-11-1.3-3.7-5 1.1-1.5 8.6-7.5 5.8-4-.6-.7-1.2 4.2-5-.5-3.1-7-.5-3 4.3-2 .5-2.1-2.2-1-4 2.1-1.2 3 .6 2-1.5 3-4.9-.7-4 8.7-.2 6-6.6 8 3.1 2.2 5.7 5.5 2 .1 2-3.7 4 .9 2.6 3 1 5-1.1 1.8-1.5 .7-3-3.6-11-4.5-5 .5-2 2.1-1.6 4 .5 5-7.3 7 .1 2 1.9 .9 3.4-5.5 8 3.6 6 .5 6 4.8 10-1.9 7-2.4 2 .6 2-3.1 6zM615 80.5l-2.5-3.1-2-.6-0 4.1 2.4 .6zM573.2 86.5l-6.7 4.2-4.3-3.2-1.8-3 1.1-1.4 6-1.3 3.6 1.7zM513.5 97.7l-3.2-2.2-.2-2 7.4-6.4 .9 1.4-2.9 8.8zM586.6 93.5l-1.1-3.5-3-.9-.2 4.4zM563.2 96.5l-2.7 1.2-2.1-1.2 2.1-1.4zM437.5 128.2l-3-.1-4-4.9-9-2.1-1-3.6 .7-7-4.6-4 1.5-4 2.4-0 10.8 7 3.2 6-1.5 6 5.2 4zM413.5 113.9l-3 1.2-3-1.5-.7-5.1-3.5-2-.4-2 5.6-.9 5.9 3.9zM545.4 130.5l4.6-3 3.5-4.4 5 1.9 2-1.6 3.6-7.9-5.6-5.8-0-2.9 6 4.2 .2 4.5 8.8 2.3 9-4.9 4.9 3.6-1.6 9-3.3 2.6-4 .1-7-5.2-6 6.3-6-3.5-7 7-4.9-.3zM455.9 122.5l-4.4 1.6-5.1-.6-3.3-5 0-3 2.9-1 3.5 3.8 5.7 2.2zM506.5 135.8l-3-8.3-7 .4-1.7-1.4 .2-4 1.5-1.9 3-.5 7.4 4.4zM465 122.5l-2.5 1.8-2.9-1.8 3.9-1.3zM469.1 159.5l1.4-4.2 11-3 3.1-12.8 2.9-4.8 5 2.9 16 2.2 4 2.7 13-11.1 9-2.1 2.4 1.2-1.4 4.7-7 1.1-2.3 2.2 4 11-3.7 7.6-6-.8-7-7.8-6 3.6-6-.7-2-3.1-1.5 .2 7.4 12-4.2 5-.7 6-2 1.6-7.4-.6-3-4 8.8-5 .7-2-1.1-2.2-3-.1-7 3-3-4.2-11 3zM427.9 135.5l-4.4 1.5-1.4-2.5 1.4-1.9 3.8 .9zM430.5 143.7l-.9-1.2 1.9-1.3 .4 1.3zM432.5 153.4l-1.8-1.9 2.8-3.5 2 2.5zM443.5 153.7l0-2.8 2.3-1.4-.1 3zM619.2 172.5l-6.7 7.4-4-3.3-3-0-2 8.6-11 5.1-9-5.3-7-0-2.2-5.5-5.8-3.9-2.1 2.9-.4 6-7.5 4.4-4 .2-3.6-3.6 .4-3 3.2-1.7 6 2.5 2.4-3.8-.8-3-2.6-2.2-9 1.2-4-1.4-1-1.6 3.9-4 .1-7.2 2-1.1 6.5 .3 1.3-7 2.2-1.1 4.5 3.1-1.3 4 1.6 4-.1 6 2.3 .3 4-4.4 3-.4 2.4 5.5 1.6 8.2 9-1.2 6 1 4-4.3 5.8 1.3-3.6-4 .6-3 2.2-1.7 5.9 2.7-1.6 4 1.7 2.2 3.5-1.2 .3-2-2.6-3 2.8-2.2 3 .2 2.5 3zM584.9 165.5l.2-2 6.1-3 3.3-4.8 5.1 .8 .4 4-2.2 3-5.3 .9-4 2.7zM437.5 184.1l-3.1-2.6 1.5-8-3.4-1.1-6 1.2-1.5-3.1 1.5-3.9 5-5.7 6-.8 4-2.1 3.5 6.5-6.6 8 2.2 8-1.1 2.7zM576.5 162.5l-3.2-2 .2-2.6 3.7 1.6 .4 2zM525.4 167.5l-2.9 2.4-9-.8-2.2-2.6-.2-5 2.4-2.4 4-.3zM465.5 167.1l-3.9-2.6 .1-3 4 1zM553.5 239.2l-2.2-5.7 4-5 1.2-6.1 1.5 .1 2.5 3 2-0 6-6.8 9-2 8 3.7 3.4 3.1-.4 4.8-6.6 2.2-1.4 6-9 7.3-3-4.8-4-3-2.8 .5-2.2 4.1zM517.8 240.5l-10.3 3.7-2.2-1.7-.4-6-1.5-2-3.9-.3-7 2.7-3.5-2.4-1-3 1.5-2.4 7-2.5 1-7.3 10 1.7 2.4 3.5 1.6 11.8zM516.5 253.5l-1-4.1 6-1.1 1.4-1.8-2.9-7-.1-3-4.2-4 .2-4 2.6-5.3 8 .3 2 3-1.2 7 .2 10.6-5 6.9z" fill="url(#bx)" fill-rule="evenodd"/><path d="M949.5 71.4l-6-2.5-5.5-6.4-3.2-11-.3-8 2.7-10 3.3-6.2 8-5.5 6-1.3 6 2.9 5.5 6.1 4.6 14 .4 6-2.9 10-3.6 5.5-8 5.3zM922.5 144.8l-14 3.1-7-2.6-5.3-3.8-11.3-20-1.4-18 2.6-14-1.6-1-9 .2-8-1.7-4.9-3.5-5.8-7-2.5-9 .8-8 3.2-5 10.2-8.1 8-1.8 10 1.7 11.9 15.2 2.2 8 7 2 .9 5.6 2.1 .4 4.9-4.2 4-.5 8 4.1 4.7 5.6 2.5 9 5.2 10-1.6 19-3.8 10.2-9 11.8zM811.5 133.1l-4-3.2-1.8-5.4 2.3-23 7-17 7.9-13 4.6-5.3 5-1.5 4.1 3.8 1.9 6-.5 12-3 7-.7 10-7.5 17-4.9 8-5.4 4.3zM976.5 147.2l-7-1.8-9-6-5.5-8.9-2.1-8 3.1-10 4.5-6.1 12-5.7 6-1 5 1.3 5.2 3.5 9.8 10.4 2.3 7.6-1.7 8-5 10-5.6 3.5zM777.5 138l-5-1-5.6-3.5-5-11 .3-5 1.9-5 5.6-6 4.8-1.9 8 .7 5 2.2 3.3 4 2 6-.6 6-3.7 8.7zM881.5 203.2l-7 .6-21-3.6-6.7-5.7-3.3-10-3-4.5-2-.6-6 6.7-5 1.7-3.8-3.3-3-7 .2-7 5.6-5.9 6-.6 6 4.7 6-12.9 9.2-10.3-.2-2-9-6.1-2.7-5.9 1.4-13 4.3-4.6 5-2.6 5-.6 9 1.2 11 5.4 3.5 5.2 .6 5-5 13 8.9 5.8 10 3.8 7.6 11.4 2.1 15-3.4 11-8.3 10.3zM791.5 206.8l-10-1-9-6.6-4.1-5.7-3.6-12 .1-8 4-11 9.6-10.7 8-2.5 11 .4 7 3.2 8.4 10.6 2.9 8-.3 3.2-3 5.4 .6 8.4-2.6 6-9 9zM955.5 206.3l-9 .5-13-3.1-3.4-3.2-3-7-5.4-7 .4-12 2.7-6 6.7-6.5 12-5.3 6 .1 14 5.7 7.7 7 2.2 5 1.3 8-2.2 9-7 9.5zM1002.5 188.5l-3-.8-3.2-3.2-3.1-11 2.5-8 3.8-4.1 3-1.2 6 3.8 2.1 7.5-2.8 13-2.3 2.9zM834.5 255.7l-6.5-6.2-5.9-12 .9-5 7.3-14 3.2-3 5-1.9 9-.1 8-2.7 7 2.1 2.8 2.6 .9 3-4.1 7 2.7 6 .6 5-.6 7-2.2 5-5.1 5.5-6 2.9-9 .5zM920.5 273l-14-1.3-7.2-3.2-12.1-13-2-5-.3-7 4.4-13 8.2-8.7 15-5.3 12-.8 6 2 6.7 5.8 9.1 13 .8 9-1.7 7-7 10-8.9 7.6zM976.5 263.2l-9.9-8.7-1.4-12 1.7-11 4.6-5.9 4-1.7 4.8 3.6 4.2 12-2.6 19-2.4 3.5z" fill="url(#bs)" fill-rule="evenodd"/><path d="M948.5 68.9l-5-2.6-4.5-5.8-2.2-18 5.3-14 9.4-5.1 4-.5 4 2.1 3.6 4.5 1.5 9 4 5 .6 6-2.8 9-2.9 4.3-9 5.3zM920 142.5l-10.5 2.3-9-4.2-3.4-5.1 2.3-5-3.9-5.1-4 .3-3-3.1-1.3-5.1 1.3-7-2.2-8 3.9-17-21.7-.2-4.1-2.8-6.3-8-1.8-10 .9-5 2.3-3.2 10.8-7.8 11.2-1.7 5.8 2.7 10.5 15-.3 11.9 6-1.4 3 4.4 2 .7 12-3.3 4.8 1.7 2.8 3 4.4 12.7 4.6 6.3 .6 7-4.2 19.5zM812.5 129.6l-3.4-2.1-1.6-4 2.2-21 7.1-17 5.4-5 2.3-8 4-4.1 3-.5 2.3 1.6 2 4-.1 13-1.2 2.1-2 .5-7-3.2-1.3 4.6 .7 2 7.4 4 .7 6-11.5 23.7-4 3.4zM976.5 144.6l-7-2-8-5.6-4.8-7.5-1.8-7 2.1-8 3.5-5.2 3-1.6 5-.5 5-4.3 5-1.1 6.3 2.7 5.4 8 6.3 3.7 2.3 6.3-4 13-2.3 4-5 2.9zM776.5 135.4l-7.1-2.9-4.8-12 1.9-7.2 4.7-4.8 3.3-1.3 11 2.9 3 3.4 1.6 5-.9 5-2.7 4.9zM889.5 197.5l-15 3.9-11-3.7-5 1.3-4-.5-5.7-5-1.8-7-5-10 1.5-12 3-6.4 8-4.6 7.8-10-1.9-2-11.9-4.6-3-3.4 0-12.4 8-6.3 13 .4 9 4 2.3 4.3-.6 6-8.8 12 19.1 8.8 6 1.6 6.5 8.6 .9 4-1.1 6 2.5 5-.4 5-3.4 8.1-5 6.1zM907.5 138.1l1.5-2.6-.5-2.3-3-1.4-4 .2 3 5.9zM782.5 204l-10-8.3-2.8-5.2-2.7-11 2.2-13 3.1-5 9.2-8.6 6-1.3 11 .3 8.1 5.6 6.1 11 .1 4-3 6-.4 12-2.3 4-6.6 6.2-13 3.7zM952.5 204.3l-18-2.9-2.6-2.9-2.8-9-4.1-5-.4-10 1.9-4.5 6-5.4 12-5.1 6 .6 14 6 3.8 6.4-3.1 7 5.3 2.9 .9 2.1-.9 4.7-5.2 7.3zM1002.5 184.4l-5-3.6-2.1-8.3 2.6-6 5.5-3.1 4 2.7 1.2 4.4-3.2 11.1zM825.5 178.8l-3.1-3.3 .6-5 4.5-4 4.6-0 2.5 4-.2 5-3.9 2.8zM834.3 253.5l-4.4-5-4.2-12 6.8-16.3 7-4.3 9 1.5 6-4 7 1.4 1.5 3.7-4.5 2.9-.8 2.1 5.5 11-.9 9-2.1 5-3.7 3.8-5 2.1-12 .6zM927.5 268.7l-7 1.4-13.9-1.6-12.1-8.8-5.6-6.2-1.4-8 4-13 9-9.2 14-4.5 13 .1 6.5 4.6 3.6 9 5.9 4.5 1.2 5.5-.9 6-4.1 5-2.9 7zM976.5 250.9l-6-1.8-2.5-6.6 .5-8.5 2-2.9 3-1.6 3 1.7 4.5 7.3-.5 4.4zM843.5 238.8l.7-1.3-1.7-1.4z" fill="url(#bm)" fill-rule="evenodd"/><path d="M948.5 66.9l-4.7-2.4-3.6-5-.5-18 1.8-9 1.9-3 12.1-4.6 3 1.4 2.5 3.2 1.3 10 4.7 5 .7 4-2.7 9-2.5 3.5-9 4.9zM949.5 43.7l-1-1.8-1.4 .6 .4 1.2zM868.5 83.4l-8.8-9.9-1-13 2.8-3.1 4-.7 1.9 2.8-2.1 5 .5 2 3.7 2.2 3 .1 1.6-3.3-2-6 3.3-8 4.1-2.7 5 .6 11.1 14.1 1.1 4-.8 4-5.7 9-2.7 1.9-4 .8-7-1.2-5 1.7zM832.5 86.1l-4-2.7-3.7-5.9 1-4 3.7-3.1 3 1.2 1.7 3.9 .1 8zM914.5 141.2l-3-1.4 .3-6.3-1.3-2-7.7-3-5.3-7.3-6-2.2-.9-1.5 .9-8-1.9-7 2.5-11 2.4-4.8 2-1.1 2.6 3.9 2.4 .7 .5-1.7-2.6-5 2.1-3.1 6 1.3 10-2 5.5 1.8 5 9 2 7 4.7 6-.2 6-2 3.7-3.9-.7-1.1-4.1-1.1 1.1 1.4 6 4.3 6-1.1 5-3.5 3.9-7 2.7-2.8 6.4zM814.5 127.7l-3.4-1.2-1.9-3 2.5-12-.6-6 4.3-7 2.1-9.9 3-3 1.3 1.9-.3 6 9 3.5 1.4 4.5-10.4 22.4-3 3.1zM981.5 141.8l-11-1.4-6-3.3-4.9-5.6-2.9-8 1.6-8 2.2-3.7 4-1.7 9 1.1 .5-5.7 3.5-1.8 4 1 3.4 2.8 1.6 8.3 8 1.5 2.5 4.2-5 16-3.5 2.7zM767.5 119.7l1-5.1 5-4.3 4 .4 4.3 2.8 .4 3-1.7 3.8-10 1.4zM874 122.5l-5.6 12-2.9 2.9-8-8.2-5 4.9-2 .2-2.2-1.8 1.1-8 5.1-.4 3-5.8 13 1.1zM782.5 124.6l-.6-2.1 1.6-1.1 1 2zM777.5 132l-2 .9-3-.8-1.6-2.6 .6-2.1 3-1.7 4.4 .8 .1 3zM875.5 199.3l-5-.8-7-4.1-6 2.5-4.8-1.4-8.6-19 3.4-15.7 2-1.6 6.6-1.7 6.6-6 2.6-5 2.2-.8 14 3.3 11 5.3 5.5 8.2-2.2 7 .7 4.5 2.7 4.5-1.7 7.7-7 7.9-7 .5zM783.5 202.4l-10-9.6-3.8-8.3-.8-7 2.5-11 2.8-4 5.4-3 4.9-5 9-1.4 5 .5 7 5.2 4.9 8.7 0 3-1.9 2.7-6-1.7-3.5 2 1.7 3 6.2 2 1.3 5-.5 5-2.2 3.9-4 2.4-4-5.4-3-1.4-3 .4-1 2.2 3.5 6.9-5.5 4.5zM950.5 202.6l-4-.7-5-3-5 0-2-1.3-2-5.1-.8-10-4.5-8 1.3-2.8 5-4.5 13-4.9 7 .9 8 2.9 3 2.3 1.2 5.1-4.5 6 6.4 5 .8 2-4.9 6.9-5.2 3.1-4.8 5zM825 174.5l-.5-2.5 1.9-2.5 3.1-1.1 1.7 1.1-1.2 4zM1004.5 170.7l0-2.6 1.1 1.4zM854.5 250.6l-6-.8-10 3.3-3-.8-3-2.8-4.2-15 4.2-10.3 3-3.3 4-1.7 3 1 .7 9.3-3.4 5-.3 3 2 3.5 8 6.4 3-.8 1.2-3.1-5.2-5.2-0-4.8 9-2.6 3 1.9 .6 3.7-1.9 9zM927.3 266.5l-3.8 .9-6-4.7-7 2.6-3-.4-6-4.9-6.8-3.5-3.7-4-.9-6 3.4-7 .6-7 8.4-8.3 12-3.1 14 .7 5.2 4.7 1.8 8.7 5.9 3.3 .1 7.7-4.6 4.3-2.4 9zM932.6 242.5l-2.1-1.9-2.7 1.9 2.7 1.3z" fill="url(#bd)" fill-rule="evenodd"/><path d="M947.5 65.2l-3-1.7-3.1-4-.2-8 2.3-3.6 8 0 1.9-1.4 .4-2-2.3-8.3-8 2-.8-4.7 2.8-3.5 5-.8 5-2.6 4 3.3 1 3.6-.4 8 5 4 .6 3-2 8-2.2 3.3-10 5.1zM884.5 81l-6.2-2.5 8.6-4 .1-1-9.5-3.8-2.2-9.2 2.8-8 3.4-2.1 5 2.6 8.8 13.5-.8 4.2-5.6 3.8-1.2 5zM861.5 63.1l-.4-1.6 1.4-1.3 .6 1.3zM876.4 78.5l-4.9 3.3-3.1-.3-6.9-8 0-5.2 2-.4 6.4 3.6 6.8 6zM831.5 82.5l-5-5 .4-3 2.6-2 3 3zM908.5 129.2l-5.7-2.7-3.7-7-4.9-4-.2-4 1.5-2.8 9 1 2.1-2.2-.9-2-8.6-7-1.9-4 1.3-1.8 5 .3 2.9-1.5-.3-6 1.4-1.9 10-2 3 1.5 6.9 8.4 .4 11-4.1 11-8 9-1.2 5.8zM812.5 125.2l-2-2.7 1-4.6 8.8-7.4-2.3-6 2.4-6 3.1-2.1 5.6 1.1 1.6 2-.1 3-6.9 9-.7 6-2.1 5-3.4 3.2zM980.5 114.5l-2-.5-1-7.5 3 .1 3 2.9-.5 3zM990.5 136.9l-3 2-6 .9-6-2.3-6 .5-4.7-2.5-3.4-4-2.4-7 .5-7 1.7-4 5.3-1.3 9.5 3.3 .6 6 3.9 2.9 2-.3 6-5.1 3-.6 2.7 1.1 1 5zM924.5 128.6l-2-1.5-.4-3.6 1.4-2.6 3-.8 2.3 1.4 .5 3-1.8 2.9zM874.5 197.4l-5-1.1-6-5.3-6 3.6-3-.5-2.8-7.6-5.9-9 3.7-15 7-2.6 13-11.1 12 1.6 11 7.1 1.8 4-1.2 6 1 8 2.4 6-1 4-7 5.4-9-2.7 .2 5.3-2.2 2.8zM784.5 200.9l-2.8-2.4-1.2-5.1-5-2.4-2.2-2.5-2.7-6-.1-5.2 3-4.8 2-.6 3 1.4 3-4.2 3.9-2.6-.2-8 1.2-2 5.1-1.7 6-.1 4 2.2 4.2 4.6 2.6 5-.4 3-11.4 1.8-7-1.2-1.7 1.4-0 2 3.7 4.2 6 .1 7.9 2.7 1 6-2.9 3.7-9-5.1-3 .3-3.7 5.1 3.1 7-2.4 2.7zM879.5 163.5l1.2-2-2.2-1.8-.7 1.8zM775.5 170l-1.4-1.5 .3-3 2.1-1.9 2.4-.1 .6 3.8zM949.5 201l-14-6.5-1.2-6 4.8-7 .4-3-6.9-3-.7-2 4.6-5.5 13-3.7 12 3.2 2.8 4-2.8 4.1-7-.3-2.8 9.2 2.8 .9 7-2.1 3 1.2 1.3 2-1.4 3-6.9 4.7-5 5.7zM838.5 251.5l-3-.9-2-2.2-3.6-12.9 3.6-9.9 4-2.7 2 1.5 .7 3.1-2.1 7 .2 4 6.4 9-2.2 2.7zM926.5 264.1l-2 .2-3-3-3-.8-10.5 2-5.5-5.4-6-2.6-2.6-3 2.1-11-.2-7 7.7-8.5 10-2 12 .3 4 1.1 2.3 2.1 1 4-1.3 5.4-10.8 6.6 1.7 4 8.1 1 2.4 2-.5 8z" fill="url(#bx)" fill-rule="evenodd"/><g fill="none" stroke-linecap="round" transform="scale(.5)"><path d="M1203 483h0m-128-361h0m159 258h0m-21-86h0m-155 88h0m147-272h0m20 6h0m-365 66h0m158 376h0m24-323h0m-66 119h0m114 210h0m-86-173h0m83-194h0m-11 84h0m105-144h0m-106 93h0m-29 4h0m63-133h0m71 331h0m-93 46h0m-66-164h0m-57 58h0m0-15h0m-14 22h0m122 204h0m1-234h0m180-185h0m-120 224h0m-139-2h0m130 53h0m112-57h0m-168-139h0m-177-129h0m-54 176h0m70 79h0m49 31h0m174-18h0m-14-25h0m-262 4h0m95-152h0m-34 61h0m49 10h0m-12-167h0m215 406h0m2-392h0m-84 418h0m-156-128h0m172-215h0m-137 57h0m109-44h0m-49 150h0m234-259h0m-150 176h0m-235 122h0m43-112h0m-48 78h0m-57-88h0m75 87h0m51 80h0m27-65h0m211 96h0m-88-47h0m100-127h0m-350-27h0m234 110h0m-130-5h0m38-143h0m21 125h0m192-97h0m-110 288h0m-159-348h0m250 70h0m16 157h0m84-140h0m-239-76h0m64-14h0m-194 192h0m362-19h0m-242-139h0m-211-1h0m109 77h0m44 138h0m-100-75h0m374-263h0m27 251h0m-142 143h0m-249-232h0m221 178h0m98 25h0m-81-279h0m-67 53h0m11-53h0m171 98h0m-287 86h0m180 22h0m-212-287h0m223 379h0m50-379h0m-205 377h0m-36-201h0m222-175h0m-26-26h0m-71 62h0m22-61h0m65 417h0m-110-161h0m227-141h0m-369-82h0m-9 210h0m299-71h0m-111-93h0m-53 56h0m2 172h0m205-295h0m-83 312h0m-151 71h0m194-36h0m-127-306h0m-33 270h0m-100-31h0m-37-269h0m355 46h0m-290 102h0m-117 17h0m69 95h0m-24-14h0m180-7h0m-39-149h0m25 347h0m130-81h0m-187-253h0m171 259h0m-142-63h0m56-175h0m-31 189h0m107-58h0m-69-19h0m-179-103h0m116-148h0m77 386h0m75-7h0m92-152h0m-390 39h0m227 43h0m12-332h0m-184 120h0m254-79h0m-187 425h0m-82-254h0m211-26h0m-141 148h0m-37-116h0m-52 27h0m139 205h0m-179-167h0m95-94h0m288 4h0m-362 94h0m55-92h0m-116 36h0m380 64h0m55-101h0m-188 119h0m-16 179h0m116-61h0m-233-382h0m18 272h0m226-132h0m-238 57h0m129-209h0m-42 422h0m36-105h0m-78 65h0m-93-352h0m16 110h0m36 37h0m-115-2h0m152 138h0m243-67h0m-167 97h0m190-357h0m-336 110h0m-101-43h0m269 302h0m-12-34h0m-74-60h0m-214-190h0m279 209h0m-56-35h0m7 34h0m138-113h0m-73 98h0m21 158h0m-53 17h0m58-70h0m-166-373h0m257 281h0m-400-218h0m167 47h0m-124 98h0m339 109h0m-101 36h0m218-203h0m-317 213h0m288-182h0m-132-225h0m-244 353h0m-8-127h0m45-74h0m24-58h0m3 163h0m212 56h0m-115 185h0m148-124h0m-135-56h0m-24-30h0m34-188h0m-171 226h0m168-179h0m-141 82h0m160 199h0m-138-117h0m-155-158h0m209 169h0m-162-134h0m236 162h0m209-164h0m-306 124h0m-165-108h0m441-152h0m-323-25h0m13 112h0m31 286h0m-44-188h0m90 111h0m-183-119h0m330 113h0m21 57h0m-120 92h0m135-181h0m6-106h0m79 8h0m-211-59h0m32 287h0m-11-76h0m-139-26h0m131-188h0m-102-108h0m168 224h0m-199-138h0m265 183h0m-246-260h0m313 147h0m-397 123h0m61-108h0m80 84h0m-94-127h0m-57 49h0m176 197h0m35-15h0m-30-58h0m-134-150h0m-34 137h0m12-58h0m-99-159h0m220 340h0m-59-296h0m186 89h0m-36 198h0m-151-131h0m163 127h0m-16-7h0m164-215h0m-74 2h0m-322 77h0m155 55h0m13-200h0m-39 128h0m-61-236h0m12 71h0m-31-62h0m204 99h0m68-26h0m-32 233h0m92-181h0m-394-108h0m66 27h0m58 321h0m-136-225h0m23 161h0m166-191h0m45 0h0m49 189h0m-46-211h0m10 286h0m145-135h0m-336-226h0m296 244h0m-370-25h0m74-86h0m144 114h0m105-247h0m-147 220h0m10 202h0m103-458h0m-232 293h0m253-88h0m22 167h0m-214-259h0m138-107h0m147-10h0m-16 186h0m-351-102h0m292 161h0m71-68h0m-279-31h0m198 175h0m-83-286h0m62-55h0m-104 137h0m220-14h0m6 45h0m-337-6h0m234-119h0m-140 115h0m-123 161h0m250-303h0m-31 115h0m69 28h0m-298 165h0m69-159h0m301 42h0m-243-59h0m199 29h0m-238 246h0m61 27h0m-108-127h0m13-133h0m110-68h0m-33 45h0m-122-32h0m130 33h0m209-146h0m-334 274h0m275-65h0m-240 100h0m71-281h0m-181 121h0m294 47h0m-224-111h0m-19 202h0m199 181h0m-245-327h0m216-5h0m82-153h0m-196 55h0m20 274h0m207-10h0m26 12h0m-280-116h0m95 218h0m-37-49h0m-54-270h0m280 57h0m13 26h0m-278 2h0m27 45h0m118 12h0m59-267h0m-272 315h0m-56-149h0m127 80h0m131-159h0m91 329h0m-255-358h0m84 111h0m-28-118h0m155 164h0m-153 175h0m144-358h0m-65 293h0m226-261h0m21 141h0m-245-156h0m-74 204h0m-86 59h0m45 42h0m254-275h0m-42 120h0m-206-35h0m-99 45h0m402 6h0m-382-94h0m377 204h0m-171 147h0m-241-304h0m135 43h0m145 182h0m-186-60h0m960-224h0m75 164h0m-79-76h0m133-16h0m-134 132h0m-74 143h0m165-7h0m52-143h0m-55 77h0m-110-161h0m71-43h0m-369 84h0m82 21h0m36 140h0m48-216h0m98 56h0m-14-56h0m-142-102h0m228-74h0m-260 120h0m6 134h0m338 131h0m-36-432h0m-97 237h0m-23 155h0m155 70h0m-303-338h0m89-48h0m-3 42h0m31 81h0m-158 12h0m66 84h0m98-242h0m-7 392h0m-112-127h0m335-45h0m-179 210h0m25-254h0m-91-40h0m118 164h0m-8 36h0m64-47h0m33 74h0m-120-313h0m134 343h0m-242-267h0m-97 125h0m-54-129h0m303 93h0m-184 185h0m52-250h0m79 282h0m-274-228h0m400 190h0m-403-191h0m297-40h0m-134 177h0m198-210h0m-225 208h0m15-208h0m-81 29h0m268 143h0m-139-140h0m148 138h0m-122-225h0m187 16h0m-166-44h0m-76 310h0m-6-17h0m96-8h0m-91 51h0m188-445h0m-252 394h0m90-351h0m35 94h0m0-81h0m-58 65h0m147-78h0m85 390h0m-182-256h0m154 107h0m-73 36h0m-329-104h0m265 50h0m67 57h0m32 131h0m-108-202h0m-13-50h0m-35 225h0m-205-133h0m8-1h0m116 132h0m282 2h0m-259-130h0m-140-11h0m392 177h0m32-53h0m-335-271h0m36 257h0m-45-190h0m259-2h0m-167 185h0m122-3h0m-30 104h0m141-153h0m-276-168h0m0-83h0m10 50h0m-15-43h0m-125 108h0m149 105h0m244 42h0m-56-165h0m57 62h0m0 104h0m-140-149h0m81-76h0m-38-18h0m-52-48h0m160 114h0m-220 235h0m295-112h0m-221-213h0m-46 133h0m-154 44h0m155-28h0m180-197h0m-2 131h0m-190 16h0m-199 32h0m235 42h0m-43-129h0m59 103h0m-81 8h0m98 247h0m-64-357h0m-138 233h0m82-54h0m153 186h0m118-39h0m-218-368h0m-28 7h0m296 225h0m-353-133h0m-28 27h0m356 23h0m-318 82h0m176-74h0m-59-120h0m-207 239h0m134-6h0m-180-150h0m301-93h0m-218 81h0m120-128h0m57 146h0m45 283h0m-202-194h0m335-144h0m-6 319h0m-165-391h0m82-28h0m12 221h0m-229-104h0m225 97h0m-234-169h0m49 299h0m-6-13h0m242-140h0m-377 13h0m132 3h0m236 180h0m-275-349h0m-111 181h0m397 19h0m-247 36h0m151-5h0m-119 80h0m42-277h0m-49-37h0m-156 134h0m223-99h0m110 151h0m-66 211h0m-178-286h0m-1-82h0m303 348h0m-416-291h0m340-24h0m-135-101h0m57 48h0m-112 325h0m-10-126h0m33-50h0m-61-111h0m-105 83h0m197-172h0m-190 182h0m432-66h0m-254 188h0m-116-89h0m277 167h0m-16-395h0m-10 303h0m-19-17h0m-306-143h0m76 4h0m375 112h0m-318-168h0m-94 129h0m111-60h0m311 125h0m-279-255h0m-71 71h0m93 105h0m204-87h0m-410 177h0m-7-150h0m182 211h0m34-209h0m-199 165h0m178-234h0m74 214h0m-64-267h0m42 390h0m3-102h0m185 69h0m-85-385h0m-104 117h0m-83 39h0m179-65h0m-162 107h0m-135-4h0m-41-27h0m85-30h0m251 18h0m65-31h0m-159 293h0m-135-157h0m164 13h0m124-288h0m-175 185h0m-122 118h0m94-267h0m156-29h0m-260 146h0m266 194h0m-151-10h0m-153-169h0m188 165h0m121 15h0m-205 57h0m184-19h0m-240-111h0m147 135h0m65-330h0m-191 21h0m-63 63h0m-14 37h0m40-26h0m253-149h0m-180 145h0m31-90h0m-98 60h0m254-93h0m-98 140h0m169 259h0m-6-418h0m-178 202h0m-114 188h0m274-71h0m-230 100h0m155-238h0m30-205h0m-164 65h0m144 404h0m85-181h0m-249-54h0m-25-124h0m93-7h0m-62 341h0m9-114h0m90-121h0m-249-65h0m153 224h0m2 23h0m110-311h0m187 89h0m-348-51h0m-77 87h0m368-54h0m-90 69h0m-228-95h0m259 313h0m-319-300h0m262 331h0m20-98h0m-159 9h0m41 22h0m-18-42h0" stroke="#00007a" stroke-width="8.0"/><path d="M1202 482h0m-128-361h0m159 258h0m-21-86h0m-155 88h0m147-272h0m20 6h0m-365 66h0m158 376h0m24-323h0m-66 119h0m114 210h0m-86-173h0m83-194h0m-11 84h0m105-144h0m-106 93h0m-29 4h0m63-133h0m71 331h0m-93 46h0m-66-164h0m-57 58h0m0-15h0m-14 22h0m122 204h0m1-234h0m180-185h0m-120 224h0m-139-2h0m130 53h0m112-57h0m-168-139h0m-177-129h0m-54 176h0m70 79h0m49 31h0m174-18h0m-14-25h0m-262 4h0m95-152h0m-34 61h0m49 10h0m-12-167h0m215 406h0m2-392h0m-84 418h0m-156-128h0m172-215h0m-137 57h0m109-44h0m-49 150h0m234-259h0m-150 176h0m-235 122h0m43-112h0m-48 78h0m-57-88h0m75 87h0m51 80h0m27-65h0m211 96h0m-88-47h0m100-127h0m-350-27h0m234 110h0m-130-5h0m38-143h0m21 125h0m192-97h0m-110 288h0m-159-348h0m250 70h0m16 157h0m84-140h0m-239-76h0m64-14h0m-194 192h0m362-19h0m-242-139h0m-211-1h0m109 77h0m44 138h0m-100-75h0m374-263h0m27 251h0m-142 143h0m-249-232h0m221 178h0m98 25h0m-81-279h0m-67 53h0m11-53h0m171 98h0m-287 86h0m180 22h0m-212-287h0m223 379h0m50-379h0m-205 377h0m-36-201h0m222-175h0m-26-26h0m-71 62h0m22-61h0m65 417h0m-110-161h0m227-141h0m-369-82h0m-9 210h0m299-71h0m-111-93h0m-53 56h0m2 172h0m205-295h0m-83 312h0m-151 71h0m194-36h0m-127-306h0m-33 270h0m-100-31h0m-37-269h0m355 46h0m-290 102h0m-117 17h0m69 95h0m-24-14h0m180-7h0m-39-149h0m25 347h0m130-81h0m-187-253h0m171 259h0m-142-63h0m56-175h0m-31 189h0m107-58h0m-69-19h0m-179-103h0m116-148h0m77 386h0m75-7h0m92-152h0m-390 39h0m227 43h0m12-332h0m-184 120h0m254-79h0m-187 425h0m-82-254h0m211-26h0m-141 148h0m-37-116h0m-52 27h0m139 205h0m-179-167h0m95-94h0m288 4h0m-362 94h0m55-92h0m-116 36h0m380 64h0m55-101h0m-188 119h0m-16 179h0m116-61h0m-233-382h0m18 272h0m226-132h0m-238 57h0m129-209h0m-42 422h0m36-105h0m-78 65h0m-93-352h0m16 110h0m36 37h0m-115-2h0m152 138h0m243-67h0m-167 97h0m190-357h0m-336 110h0m-101-43h0m269 302h0m-12-34h0m-74-60h0m-214-190h0m279 209h0m-56-35h0m7 34h0m138-113h0m-73 98h0m21 158h0m-53 17h0m58-70h0m-166-373h0m257 281h0m-400-218h0m167 47h0m-124 98h0m339 109h0m-101 36h0m218-203h0m-317 213h0m288-182h0m-132-225h0m-244 353h0m-8-127h0m45-74h0m24-58h0m3 163h0m212 56h0m-115 185h0m148-124h0m-135-56h0m-24-30h0m34-188h0m-171 226h0m168-179h0m-141 82h0m160 199h0m-138-117h0m-155-158h0m209 169h0m-162-134h0m236 162h0m209-164h0m-306 124h0m-165-108h0m441-152h0m-323-25h0m13 112h0m31 286h0m-44-188h0m90 111h0m-183-119h0m330 113h0m21 57h0m-120 92h0m135-181h0m6-106h0m79 8h0m-211-59h0m32 287h0m-11-76h0m-139-26h0m131-188h0m-102-108h0m168 224h0m-199-138h0m265 183h0m-246-260h0m313 147h0m-397 123h0m61-108h0m80 84h0m-94-127h0m-57 49h0m176 197h0m35-15h0m-30-58h0m-134-150h0m-34 137h0m12-58h0m-99-159h0m220 340h0m-59-296h0m186 89h0m-36 198h0m-151-131h0m163 127h0m-16-7h0m164-215h0m-74 2h0m-322 77h0m155 55h0m13-200h0m-39 128h0m-61-236h0m12 71h0m-31-62h0m204 99h0m68-26h0m-32 233h0m92-181h0m-394-108h0m66 27h0m58 321h0m-136-225h0m23 161h0m166-191h0m45 0h0m49 189h0m-46-211h0m10 286h0m145-135h0m-336-226h0m296 244h0m-370-25h0m74-86h0m144 114h0m105-247h0m-147 220h0m10 202h0m103-458h0m-232 293h0m253-88h0m22 167h0m-214-259h0m138-107h0m147-10h0m-16 186h0m-351-102h0m292 161h0m71-68h0m-279-31h0m198 175h0m-83-286h0m62-55h0m-104 137h0m220-14h0m6 45h0m-337-6h0m234-119h0m-140 115h0m-123 161h0m250-303h0m-31 115h0m69 28h0m-298 165h0m69-159h0m301 42h0m-243-59h0m199 29h0m-238 246h0m61 27h0m-108-127h0m13-133h0m110-68h0m-33 45h0m-122-32h0m130 33h0m209-146h0m-334 274h0m275-65h0m-240 100h0m71-281h0m-181 121h0m294 47h0m-224-111h0m-19 202h0m199 181h0m-245-327h0m216-5h0m82-153h0m-196 55h0m20 274h0m207-10h0m26 12h0m-280-116h0m95 218h0m-37-49h0m-54-270h0m280 57h0m13 26h0m-278 2h0m27 45h0m118 12h0m59-267h0m-272 315h0m-56-149h0m127 80h0m131-159h0m91 329h0m-255-358h0m84 111h0m-28-118h0m155 164h0m-153 175h0m144-358h0m-65 293h0m226-261h0m21 141h0m-245-156h0m-74 204h0m-86 59h0m45 42h0m254-275h0m-42 120h0m-206-35h0m-99 45h0m402 6h0m-382-94h0m377 204h0m-171 147h0m-241-304h0m135 43h0m145 182h0m-186-60h0m960-224h0m75 164h0m-79-76h0m133-16h0m-134 132h0m-74 143h0m165-7h0m52-143h0m-55 77h0m-110-161h0m71-43h0m-369 84h0m82 21h0m36 140h0m48-216h0m98 56h0m-14-56h0m-142-102h0m228-74h0m-260 120h0m6 134h0m338 131h0m-36-432h0m-97 237h0m-23 155h0m155 70h0m-303-338h0m89-48h0m-3 42h0m31 81h0m-158 12h0m66 84h0m98-242h0m-7 392h0m-112-127h0m335-45h0m-179 210h0m25-254h0m-91-40h0m118 164h0m-8 36h0m64-47h0m33 74h0m-120-313h0m134 343h0m-242-267h0m-97 125h0m-54-129h0m303 93h0m-184 185h0m52-250h0m79 282h0m-274-228h0m400 190h0m-403-191h0m297-40h0m-134 177h0m198-210h0m-225 208h0m15-208h0m-81 29h0m268 143h0m-139-140h0m148 138h0m-122-225h0m187 16h0m-166-44h0m-76 310h0m-6-17h0m96-8h0m-91 51h0m188-445h0m-252 394h0m90-351h0m35 94h0m0-81h0m-58 65h0m147-78h0m85 390h0m-182-256h0m154 107h0m-73 36h0m-329-104h0m265 50h0m67 57h0m32 131h0m-108-202h0m-13-50h0m-35 225h0m-205-133h0m8-1h0m116 132h0m282 2h0m-259-130h0m-140-11h0m392 177h0m32-53h0m-335-271h0m36 257h0m-45-190h0m259-2h0m-167 185h0m122-3h0m-30 104h0m141-153h0m-276-168h0m0-83h0m10 50h0m-15-43h0m-125 108h0m149 105h0m244 42h0m-56-165h0m57 62h0m0 104h0m-140-149h0m81-76h0m-38-18h0m-52-48h0m160 114h0m-220 235h0m295-112h0m-221-213h0m-46 133h0m-154 44h0m155-28h0m180-197h0m-2 131h0m-190 16h0m-199 32h0m235 42h0m-43-129h0m59 103h0m-81 8h0m98 247h0m-64-357h0m-138 233h0m82-54h0m153 186h0m118-39h0m-218-368h0m-28 7h0m296 225h0m-353-133h0m-28 27h0m356 23h0m-318 82h0m176-74h0m-59-120h0m-207 239h0m134-6h0m-180-150h0m301-93h0m-218 81h0m120-128h0m57 146h0m45 283h0m-202-194h0m335-144h0m-6 319h0m-165-391h0m82-28h0m12 221h0m-229-104h0m225 97h0m-234-169h0m49 299h0m-6-13h0m242-140h0m-377 13h0m132 3h0m236 180h0m-275-349h0m-111 181h0m397 19h0m-247 36h0m151-5h0m-119 80h0m42-277h0m-49-37h0m-156 134h0m223-99h0m110 151h0m-66 211h0m-178-286h0m-1-82h0m303 348h0m-416-291h0m340-24h0m-135-101h0m57 48h0m-112 325h0m-10-126h0m33-50h0m-61-111h0m-105 83h0m197-172h0m-190 182h0m432-66h0m-254 188h0m-116-89h0m277 167h0m-16-395h0m-10 303h0m-19-17h0m-306-143h0m76 4h0m375 112h0m-318-168h0m-94 129h0m111-60h0m311 125h0m-279-255h0m-71 71h0m93 105h0m204-87h0m-410 177h0m-7-150h0m182 211h0m34-209h0m-199 165h0m178-234h0m74 214h0m-64-267h0m42 390h0m3-102h0m185 69h0m-85-385h0m-104 117h0m-83 39h0m179-65h0m-162 107h0m-135-4h0m-41-27h0m85-30h0m251 18h0m65-31h0m-159 293h0m-135-157h0m164 13h0m124-288h0m-175 185h0m-122 118h0m94-267h0m156-29h0m-260 146h0m266 194h0m-151-10h0m-153-169h0m188 165h0m121 15h0m-205 57h0m184-19h0m-240-111h0m147 135h0m65-330h0m-191 21h0m-63 63h0m-14 37h0m40-26h0m253-149h0m-180 145h0m31-90h0m-98 60h0m254-93h0m-98 140h0m169 259h0m-6-418h0m-178 202h0m-114 188h0m274-71h0m-230 100h0m155-238h0m30-205h0m-164 65h0m144 404h0m85-181h0m-249-54h0m-25-124h0m93-7h0m-62 341h0m9-114h0m90-121h0m-249-65h0m153 224h0m2 23h0m110-311h0m187 89h0m-348-51h0m-77 87h0m368-54h0m-90 69h0m-228-95h0m259 313h0m-319-300h0m262 331h0m20-98h0m-159 9h0m41 22h0m-18-42h0" stroke="#2020ff" stroke-width="4.6"/></g><path d="M533.5 296.8l-5-2.3-4.2-5-3-9 .6-7-1-2-11.4-1.9-2 3.7-2 .1-.2-1.9 2.2-2-2.6-5-7.8-9-6.4-5-1.2-3 .2-5-8.6-8-4.7-7-4.9-18-3-6.1-10.8-3.9-2.2-3.8-2-.6 0 1.7 3.2 2.7-3.4 7-.5 8-8.3 2.6-4.6-5.6-2.5-7-6.4-7-1.9-10-6.6-6.2-5.9-12.8-6.1-5.9-3.3-21.1 3.2-7 1.1-11.1-3.5-2.9-9.5-2.3-3-2.7-5.4-12 1.8-11 4.6-4.5 15-2.9 6 .3 8 2.4 10-3.4 10.6 4.1 4.4 6.4 15 9.4 4.1 1.2 1.1 4 3.8 2.7 1.2-2.7-3.5-5 5.3-6.5 2.7-6.5-6.1-11-.6-8.4-4-3.7-9-.4-6 5.4-9-5.4-1.5-2.5 1.5-3.5 8-1.4 14-8.3 5-.4 13 5.2 12-1.3 7 .6 12-3 20 8.1 6.8-5 1.6-5 7.6-12.5 5-1.6 12 3.4 4 5.3 6.5 4.4 5.5 11.5 21-9.4 8-1.6 9 .7 6.8 13.8 .9 8-1.6 8 1.5 12 2.4 3.7 6.6 5.3 .9 13 7.5 3.9 1.7 3.1-1.9 7-5 8-2.1 9-9.2 6-6.6 10 .9 3 9.2 6.1 .3 10.9-10.3 9.5-7-.1-6 1.8-4 3.5-4-.1-11.8 9.4-3.5 7 10.3 9 1.3 7-.5 8-1.8 3.7-14 12.6-9 4.3-15.8-.6-3.2-1.7-14-13.9-5 .1-3.3 1.5-5.7 14.4-6.7 3.6-.9 2 3.7 7 19.9 5.3-1.4 4.7 .6 4-3.7 5-1.3 5-2 2zM529.5 116.5l5.6-3 2.9-8-1-10-4-2-4.6 1-.1 7-2.8 2.9-2-.6-1.5 2.7 .5 1.3 3-1.6 .4 7.3 1.6 2.4zM474.5 128.6l2.2-1.1-1.2-2.3-1.6 1.3zM470 134.5l-1.4-2-4.1 1-.6 2 2.6 1.9zM580.5 147.3l2 2.6 2 .4 8-5.4 6 1.5 7.3-5.9 .9-4-3.2-2.3-8 3.5-4-3-7 .8-5 7zM614.4 141.5l-2.9-1.6-2.6 1.6 .9 2 1.7 .5 1.8-.5zM546.5 207.6l.6-3.1-1.6-2-4-.5-4 1.8-7.5-2.3-1.5-4.7-3-2.4-3-.6-2.7 1.7 8.3 7-2.7 7 1.1 1.6 6.7 .4 6.3-4 5 1.2zM464.4 180.5l.6-7-1.2-3-5.2-6-1.2-4-5.9-1.4-.3-2.6 3.3-3.3 2-.3 2.7 1.6 1.3 3.1 3 .6 5-4.7 9.1-2 8.9-24.2 2-2 3-.3 1.9-4.5 2.1-1.9 8-3.7 .9 4.6 8.1 3.9 4.2 8.1 2.8 1.5 6-3.6 12-4.1 10 .2 .5-2-1.6-5 2.1-2 8 3.2 2-.7 .2-4.5-6.4-9 5.2-2.4 6 3.4 1.7 0-3-5-5.7-1-2.3-2 1-3 5.1-5-4.8-4.7-.6-5.3-3-4 .6-6-5.9-8 4.9-7.4 7 2 1.7-.6-1.7-4.1-4.2-2.9 .5-3 4.7-1 11 7.5 4.9 1.5 .5 3-4.4 3-.2 2 5.2 8 9 4.1 4-.9 3-6.4 6-2.8 4 1 2 6.4 6 0 2.2-3.4-.2-2.4-7-.4-1.9-1.2 1-3 1.9-1.3 11-1.4 3 3.7 4 2.3 2.4 8.7-3.4 10 2.1 4 .6 6 4.3 9.1 5.3 4.9-1.3 3.4-6.3 6.6-1.3 4 2.5 5 3.1 2.1 3.4-3.1-1.1-4 .7-1.3 5 8.3-.1 3-2.8 5 .9 5-1 2.8-2 .5-1-1.2-.3-6.1-2.7-2.3-5-2.2-9-1.4-5-9.5-7-2.1-7 1.4-1.3-1.9 .3-6-2-1.7-4.4 2.7-3.6 11-2 2.5-6 1.7-6-1.9-1.8 .7 3.5 3-.7 4.9-2 .1-5-3.6-8-3-9.8 6.6 0 4-1.2 1.1-2-1.1-.8-4-3.2-1.6-1.8 .6-.4 3-1.8 1.9-6-2.5-3.6 .6-.6 2 4.2 9-3.9 10 5.9 3.3 1.1 2.7-1.3 2-7 4-1.8 4.4-1 .5-1.6-2.9-10.4-3-4-6.1-2-.7-3.7 2.8-0 5-1.3 2.2-4 1.6-8 .1-5.5-6.9-1.5-7.1-3-1.1-7.5 3.2-1.6 2 2.9 15zM515.5 103.5l-7 1.8-4 3.4-5-4.7-7 3.4-3-0-3-1.9-2.5-7 1.2-7-5-8 2.1-9-4.1-6 .4-4 6.9-.4 4-2.9 8-.8 2.9 1.1 4.1 4.3 5-3.8 7-1.1 5 1.8 4 4.5 5.3 2.3 .8 3-6.2 7-3.1 10zM492.2 73.5l-2.7-1.9-2.1 2.9 2.1 .7zM566 78.5l-3.5-3.5-2.7 .5-.1 2 1.8 2.2 3 .2zM606.3 86.5l-.8-2.8-2-1.4-2 .3-1.8 1.9 .1 2 1.7 1.2zM508.5 89.7l4.6-3.2 .4-2-1-1-2.1 1zM440.5 190.7l-8.4-8.2-.1-7-6.5 .5-2-2.5 2-13-4-.1-2.6-1.9 4.7-6 .5-4-1.5-4 2.2-3-4.3-2.2-1-3.8 1.4-4 1.6-1.2 7.3 2.2 4.8 6 .8 7 4.1 5.9 5.2-4.9-1-5-6.2-8.8-8-7.1-10-.2-2-11.9-1.2 2-4.8 1.3-8-3.3-5.9-9-.1-8.1 8 3.7 3.6 .4 1.5-1 1.9-4.8 3-.9 3 2.4 4.5 1.3 2 5 3.5 1.9 2.1-2.9-1.6-5 1.5-.8 5 1 10 4.5 4.4 6.3-.3 6 1.7 3 5.2-.5 4 2.8 6.1 .7 .5 4-1.6 2-8-.1-3.4 2.1 .6 5-2.6 8-.4 6-4.3 8-.7 4 1.8 3.8 6.3 4.2 .2 2-2.5 2-6-2-3.9 2-.5 3 2 4-3.1 8zM608.5 96.5l-2-1.4-2.3 2.4 2.3 .3zM573.4 104.5l2.1-2.7-2.1 .7zM576.9 112.5l-5.4-2.8-2.1 1.8 .4 2 1.7 .9zM609.5 117.4l2.9-2.9-.9-4.3-2 .7-1.5 2.6 .1 3zM441.5 123.6l.3-3.1-3.3-4.8-2.4 4.8 2.4 2.5zM451 128.5l-3.5-1.8-2.6 1.8 3.6 1.5zM501.6 135.5l.1-4-1.2-1.8-8-.5-1 1.1 .2 3.2 1.8 2.1 5 1zM513.1 136.5l.4-3-2-.5 0 2.8zM542 192.5l2.7-5-0-6 3.8-.3 1.9-2.7-3.9-1.9-2 .9-1 3.3-3-.7-3-3.1 0-4 2-2.8 4-.2 3-1.7 1.8-8.8 8.2-1.8 1-5.7 2-2.2 6 1.7 8-1.7 1.6 4.7 7.4 7.1 4.8-2.1 5.2-5.3 3-.8 6.3 .1 2 6 6.7 4.7 3.8-.7 4.2-4 1 1 0 5 2.8 6-.6 4-9.2 8.8-2 .4-3-1.8-1.3 2.6-7.7 3.9-3 4-6 1.4-1.8-5.3-5.2-2.6-3 1.6 .8 6-.8 1.5-2 .1-2.7-2.6 0-5-4.3-6.2-3.8 4.2-7.2 4.5-6 1.2-3.1 3.3-5.9-.7zM508.1 157.5l2.4 .2 4.1-3.2-5.7 1zM590.9 173.5l-2.4-3.7-5-1.7-2-2.3-2 .5 3 8.6 3 .4zM561 179.5l-1.5-3.4-2-.3-2.8 1.7 3.8 3.6zM584.5 202.5l-1.5-3 4.1-1-.2 3zM500.5 206.5l-2 .5-2-1.5 .8-3 3.7-0 .6 2zM565.5 210.7l-2-.1 0-1.7 1.2-.4zM524.2 253.5l-8.7 4.4-5-9-7.5-3.4-1.5-9.3-2-.4-6 2.5-5.2-2.8-2.2-3-1.1-5-3.5-2.1-1.4-2.9 3.4-9.7 3-1.1 2 .9 0 7.9 2 1.5 2-.4 4.7-6.1 7.3 3.3 6-4.4 1.4 1.1 .6 10.1 1 .4 2.2-4.5 2.8-1.3 10 1.7 2.3 6.6-1.5 6-0 8zM552.5 240.8l-3.8-7.3 3.8-5 1.6-7 1.8-2 2.6-.4 4 1.8 4-4.2 6-.4 5-2.7 9 5.7 4.9 5.2 1.1 6.2-2 1.5-5.1 .3-1.3 2 .4 4-8.3 3-2.7 7.9-4-1.1-3-2.9-5 .1zM506.5 257l-3-1.2 1-3 2.8 1.7z" fill="url(#rf)" fill-rule="evenodd"/><path d="M949.5 69.9l-5-1.9-5.7-6.5-2.5-10-.3-9 5.5-14.3 9-5.3 4-.8 5 2.1 4.6 5.3 1.4 8.1 3.8 5.9 .7 5-2.9 10-3.2 5-8.4 5.3zM921.5 143l-8 2.6-5 .2-11-5.9-2.1-3.4-1.1-6-4.8-4.1-3.1-6.9 .6-9-1.8-8 3.3-15.8-20-.7-4.1-2.5-6.6-8-2.1-9 .7-7 2.9-4 10.2-7.8 10-1.8 7 1.9 11.6 15.7 1.4 9.4 5.1 .6 2.9 5.4 3 .2 9-3.7 6 2.1 3.9 4 4 12 4.3 6 .8 8-2.1 14-2.1 6zM812.5 130.7l-3.7-2.2-1.8-4 2-22 7-17 4.8-6 3-7 3.7-4.4 4-1.4 3 2.1 2.2 4.7-.2 13.1-2 3.4-2 .2-5-2.6-1.7 .9-.5 2 1.2 2 6.8 4 .2 6-12 24.7-4 3.3zM976.5 145.6l-6-1.5-9-6-5.6-8.6-1.7-7 2.6-9 3.7-5.2 13-6.3 5-.9 4 1.1 4.7 3.3 4 6 6.6 5 1.7 6-3.9 13-3.1 4.9-5 2.7zM776.5 136.3l-5-1.4-3.3-2.4-4.5-12 2.4-8 4.4-4.6 4-1.7 8 1.1 4 2 3.3 4.2 1.3 5-.8 5-3.1 6-7.7 5.9zM889.5 198.5l-11 3.7-5-0-9-3-10 0-4.4-2.7-2.6-4-1.9-7-5-10 1.7-10 3.4-8 13.5-13-1-2-10.8-5-3.3-5 .4-12.2 8-6.7 4-.7 10 1.1 9.7 4.5 2.8 5-.1 6-2.2 5-5.2 4.4-.5 2.6 7.5 2.6 9 5.2 6 1.5 7.5 9.7 .3 10 2.2 6-.6 4-4.4 9.6-5 5.8zM907.3 135.5l-.6-2-1.8 0 .6 2.3zM783.5 205l-6.2-3.5-7.7-9-3.4-13 1.9-12 3.2-6 9.2-9.1 7-1.6 11 .5 8.1 5.2 7 12 .1 5-3.1 6-.2 11-2.9 5-7 6.4-11 3.1zM953.5 205l-6 .2-13-2.7-3.6-4-2.4-7.6-5-5.7 .2-10.7 2.2-5 5.6-5.5 13-5.6 6 .7 14 6 5.3 7.4-2.3 6 4 1.6 1 2.3-1 7.1-5.4 8zM1002.5 186.3l-3-1.3-2.9-3.5-2-9 2.9-6.8 3-2.6 3-.8 4.5 3.2 1.3 6-3.1 12zM829.5 184.6l-6-5.3-2-5.8 3-5.8 6-2.6 3.9 2.4 2.3 8-4.2 7.2zM834.5 254.3l-4.8-4.8-5.3-12 .6-4 6.8-14 6.7-4.4 9 .5 8-3.3 6 1.5 2 1.7 .9 3-5.1 5 4.6 11-.7 9-2.1 5-4.6 4.6-5 2.1-11 .5zM928.5 269l-10 2.4-12.9-1.9-11.1-8.4-6-6.6-2-6 1-7.8 4-10.3 8-7.6 15-4.9 13 .1 7 4.9 4 8.6 5.8 5 1.3 6-1.1 7-6.6 11zM977.5 259.8l-4-5.4-5-2.6-1.6-8.3 1.2-11 3.4-4 3-1.5 3 1.7 5 9.8-2.3 18z" fill="url(#rg)" fill-rule="evenodd"/><path d="M840.5 103.7L916.2 96.8L953.2 168L926.5 240L851.4 235.2L814.2 176.9Z" fill="none" stroke="#f00" stroke-width="10"/><g fill="#fff" stroke="#1a1a1a" stroke-width="1.8"><path d="M325.8 180H382.7V167.4L407.3 192.6L382.7 217.7V204.9H325.8Z"/><path d="M650.3 181.6H706.4V169L731.3 194.3L706.4 220.2V206.4H650.3Z"/></g><g font-family="Liberation Serif,Times New Roman,serif" font-weight="bold"><text x="116.5" y="356.5" font-size="33.5" textLength="157.5" lengthAdjust="spacingAndGlyphs">Initial state</text><text x="447.5" y="356.2" font-size="33.5" textLength="190" lengthAdjust="spacingAndGlyphs">Medium state</text><text x="855.5" y="356.2" font-size="33.5" textLength="145" lengthAdjust="spacingAndGlyphs">Final state</text><text x="188" y="405.5" font-size="39">(b)</text></g><g fill="none" stroke-width="3.8" stroke-linejoin="round" stroke-linecap="round"><path d="M295.5 774l.3-3 .2-3 .3-3 .3-4.2 .2-2.4 .3-1.2 .3-1.2 .3-3 .2-4.8 .3-4.8 .3-3.9 .2-3 .3-2.1 .6 4.1 .6 2 .6-0 .6 1.3 .6 2 .7 1.9 .7 1.9 .8 1.2 .7-.2 .7 1.3 .7 2.8 .8 1.6 .7 1.2 .6-2.4 .6-3.6 .6-2.2 .6-.8 .6-2.1 .6-2.8 .6-2.7 .7 1.9 .6 2.2 .7 1.9 .7 1.3 .6 .8 .7 1 .5-2 .6 1.3 .5-2 .6-7.9 .5-2 .5 3.2 .6 1.7 .5-2 .5-5.7 .6-4.8 .5-2.4 .6-2 .5-1.6 .8 1.5 .9 1.4 .8 1 .8 .6 .9 .1 .8 1 .6 1.6 .6-1.9 .6-5.6 .6-1.8 .6 .2 .6-.6 .5-3.1 .6-4.2 .6-3 .6-.7 .6 1.7 .6 1.3 .6-1.8 .7-1.5 .6-.8 .7 1.4 .6 2.1 .7 4.3 .7 3.9 .6-.4 .7-1.7 .7-2.7 .7-.2 .7 1.1 .8 .4 .7-1.4 .7-3.3 .7-3 .9 .5 1 .8 .9 .6 .9 .5 1 .4 .9-.4 1-.4 .9 1.4 .7 1.2 .7 .2 .8-2.9 .7-3.4 .7-1.9 .7-1.4 .8-.7 .7 .1 .7 .1 .7 1.4 .6-.1 .7-1 .7 1.4 .6 4.5 .7 3.3 .7-.6 .6-3 .7 1.4 .8 3 .8 1.5 .7-1 .8-3.5 .8-3.1 .8-1.6 .8-1 .7-.4 .8-.2 .8-.5 .6 1.6 .7 1.1 .6-1.2 .7 1.6 .6 4.5 .7 2 .6 1.2 .7 .7 1-1 1-.1 1 .8 1 1.6 1 1.4 .7-1.6 .6-3.1 .7-5.6 .7-4.6 .6 1.3 .7 3.1 .7 .7 .6-1.6 .7-4 .7-1.3 .7 1.1 .7 3 .8 2.6 .7 1.1 .7-.3 .7-.4 .7-2 .6-1.2 .7-.6 .7-1 .6-2.2 .7-4.3 .7-4.5 .7-1.7 .6 1.3 .7 1.2 .7 2.5 .6 .8 .7-.2 .6 .2 .7 1.6 .7 3.2 .6 5 .7 4.8 .9-.7 .8-3.9 .9-4.6 .8-3 .9-.7 .8 1.6 .9 2.6 .7 1.2 .8-2.1 .7 1.2 .8 4 .7 1.2 .8-.7 .7 .3 .8 2.1 .7 2.4 .8 1.7 .7 1.2 .8 .8 .6-2.3 .6-1.7 .6 .5 .6 .3 .6-3.6 .6-9.3 .6-1.6 .6 4.1 .6-1.6 .6-1.7 .7-3.8 .8-3.8 .7 1.4 .8 2.6 .7 0 .8-2.3 .7-3.9 .8-2.7 .7 .3 .8 2.1 .7-1.1 .8-5.1 .6-.4 .5 4 .6 5.1 .5 3.5 .6 1.8 .5 .1 .6-2.2 .5-.9 .6 4.5 .9 2.4 .8-.7 .9-2.6 .9-.7 .9 1.4 .8-.2 .9-.6 .9-1 .7-1.1 .7 1.5 .7 3.6 .8 1.4 .7 1.4 .7 1.4 .7-.4 .7 1.4 .7 5.1 .8 3.3 .7-.5 .7-1.6 .6-3 .6-.7 .6 2.1 .7 1 .6-4.6 .6-8 .6-6.6 .6-1.9 .6 3 .7 8.1 .6-1.9 .6-10.1 .8-.9 .8 2.7 .7 4.2 .8 .9 .8-2.8 .8 .9 .7 3.5 .8 1.6 .8 .9 .6-2.5 .6-3.7 .6-1.8 .6-0 .6-1.3 .6-1.8 .6-2.3 .6-2.4 .6-2.2 .6-1.8 1-.3 1-.1 1-0 1-.7 1-1.4 .7-.8 .7-.3 .7 3 .7 5.1 .7 3.4 .7-.7 .7-2.6 .7-.6 .7 3.3 .7 3.4 .8 1 .8 .8 .8 .7 .8 .9 .8 2.1 .8 .9 .8-.5 .8 .4 .8 .9 .8 1.4 .6-1 .7-1.2 .6-1.7 .6-2.3 .7-4.2 .6-3.8 .7 .3 .6 1.4 .6-.6 .7-2.8 .6-4.7 .8-1 .8 2.8 .7 5.7 .8 5.1 .8 .8 .8-3.2 .7-4.4 .8 .9 .8 5.4 .5 1.4 .6-1.9 .5-5 .6-6.1 .5-4 .5 .3 .6 4.1 .5 2 .6-5.7 .5-5.6 .6-1.9 .5-1.8 .5 2.1 .6 2.3 .5 1.8 .6 1.3 .5 .6 .6 .6 .5 1.8 .6 3 .5 4.5 .6 1.8 .8-1.9 .8-.1 .7 2.3 .8 2.9 .8 1.1 .8-.2 .7-.1 .8 1.1 .8 2.3 .7-.5 .7-1.2 .7-1.4 .7-1.5 .7-1.7 .7-1.6 .6-1.2 .7-.9 .7-1.1 .7-1.4 .7-1.7 .7-4.6 .7-4.4 .5 5.3 .5 6.3 .5 3.4 .5 1.2 .5-.3 .5-0 .5 2.3 .5 4.6 .5 5.7 .5 4.9 .5-2.2 .5-4.7 .5-4.8 .5-3.1 .5-1.3 .5 .5 .4-.5 .5-3.9 .5-11.1 .5-2.1 .5 8 .5-2.1 .5-6.2 .6 .3 .5 1.7 .6 3.3 .6 4.9 .6 4.8 .5 1.8 .6-1.3 .6-.7 .9-1.1 .8-.5 .9 1.7 .8 1.4 .9-3 .6-6.4 .7-1.7 .6 .7 .6-1.7 .7-1.7 .6-1.8 .7-4.8 .6-4.6 .7 4.5 .7 5 .7 1.6 .7 .2 .7 .7 .7 2.6 .7 5.9 .7 4.9 .9-2.4 .8-5.9 .9-2.7 .9 4.6 .9 5.5 .8 .9 .9-1.2 .9-.2 .6-.4 .7 1.4 .6 .9 .7-1.6 .6-4.1 .6-8.1 .7-1.5 .6 3.7 .7-1.1 .6-2.1 .7-3 .6-2.5 .7 2.3 .8 2.7 .7 1.9 .7 1.5 .7 .9 .8 .1 .7 .5 .7-.5 .7 1.6 .7 .5 .7-3.6 .6-4.2 .7-2.4 .7-1.5 .7-.7 .7-.1 .8-1 .8-1.9 .8-1.1 .8-1 .9-.9 .8 .1 .8 .5 .8-1 .6 .1 .6-.3 .7 1.6 .6 3.6 .6 2.8 .6 .4 .7-1 .6 1.6 .6 3.7 .6 2.6 .7 1.5 .6 .6 .5-5.9 .5-2.3 .5 1.1 .5-1.6 .5-2.3 .5-3 .5-3.4 .5-3 .5-2.3 .5-1.6 .6 5.7 .7 5.2 .6-2.2 .7-2.7 .6 .7 .7 1.5 .6 2.3 .7 4 .6 4.3 .7 1.5 .6-1.3 .7-2.4 .5-2.3 .6 2.5 .5-2.4 .6-5.4 .5-2.4 .6-1.7 .5-2 .7 1.4 .8-2.7 .7 1.7 .7 6.7 .8 2.9 .7 1.7 .7-.2 .8-1.9 .7-2 .8 1 .7 4 .8 3.7 .7-.8 .7-2.1 .6-3 .7-1.5 .7-.5 .7-1.5 .7-2.3 .7-1.5 .6 .4 .7-.3 .7-2.7 .5-.3 .6 2.1 .5 3.5 .6 2.2 .5 1.1 .5 1.3 .6 2.9 .5 4.5 .6 3.7 .5 .5 .6-1 .5 2.1 .4 1.5 .4-2.7 .3-5.4 .4-2.7 .4-2.6 .4-2.6 .4-2.7 .3-2.8 .4-2.8 .4-2.8 .8 1.1 .8 2.7 .8 2.7 .9-.7 .8-1.7 .8-.2 .8 2.2 .9 3.6 .8 3.9 .9-.9 .9-5.6 .9-8.5 .8-7 .9-.8 .9 5.1 .6 8.1 .6 2 .7-2.1 .6 1.9 .6 6.6 .6 5.4 .7 2 .6-1.5 .8-4.6 .7-2.2 .8 .1 .8 .9 .7-.2 .8-1.8 .8-2.2 .8-1.6 .7-1 .8-.5 .6 1.2 .7-1.6 .6-4.4 .6-2.4 .6-1.6 .7-.6 .6-.1 .6-.2 .7-1.5 .6-2.9 .6-2.6 .7 1.8 .6 6.9 .7 3.4 .6 .2 .6-1.6 .7-0 .6 3.6 .7 4.7 .6 3.3 .6-1.8 .6-3.3 .6-3 .5-2 .6-1.8 .6-1.5 .6-.5 .6-.2 .6-1.8 .5-3.3 .6-4.6 .6-1.7 .6 .3 .9 1 1 .3 .9-.3 1-1.2 .9-.7 1 1.4 .9 2.9 1 1.9 .6 .5 .7-.1 .6 1.1 .6 2 .6 3 .7 3 .6 2.3 .8-1.3 .9-1.9 .8-1 .8-.3 .8-1 .9-1 .8-1.6 .8-1.4 .9-.2 .8 .1 .9-.2 .8-.8 .9-1.4 .8-3.2 .9-3.7 .8-.8 .9 3.5 1 4.6 .9 .7 1-2.4 .9 .7 1 3.5 .9 3.3 1 .7 .8-3.6 .9-2.9 .8-.9 .9 2.8 .8-.8 .9-4.6 .8-1 .9-.7 .8 1.6 .6 1.7 .7-1.6 .6 1.8 .6 4.5 .6 3.6 .7-.1 .6-2.5 .6-1.6 .7 2 .6-1.6 .7-5.3 .6-1.6 .7 .8 .6-1.5 .7-1.7 .6-2.3 .8 .4 .7 1.2 .8 2.2 .8 3.1 .8 2.4 .7 .1 .8 .1 .8 1.2 .6-1.8 .7-1.7 .6 1.2 .7 1.1 .6-4.7 .7-10.4 .6-1.8 .7 6 .6 .2 .7-3.7 .6-4.7 .6-2.7 .7-.5 .6 .1 .6-.7 .6-1.6 .7-2.6 .6-2.8 .6 1.8 .5 2.5 .6 2 .5 1.9 .6 1.7 .5 .7 .6 .3 1-0 1 1.5 1 3.4 1-0 1-2.3-0 4.2-0 5.7-0 5.7-.4 1.6-.3 .9-.4 2.3-.3 3.9-.7 2.4-.7 1.8-.7 .5-.8-.6-.7-.4-.7 1.1-.7 2.8-.5 4.8-.4 2.2-.5 .1-.5 1.2-.4 2.2-.5 3.2-.4 4.7-.5 4-1-2.5-.9-4.3-1-.7-.9 1.3-.6 2-.5-.2-.6-.2-.5 4.2-.6 5.8-.5 4.4-.6 2-.5-.4-.6-.9-.5 2-.6 8.6-.5 2-.6-6.4-.5-1-.3-.2-.3 3.3-.3-3.2-.4-8.4-.3-5.8-.3-3.2-.3-.5-.3 0-.6 2-.5-.7-.6-.1-.6 2-.5 4-.6 4.3-.6 3-.5 1-.6 .7-.9 .9-.8 1.1-.9 .9-.9-1-.8-.9-.9 2.6-.7 3.7-.7 1.5-.7 .8-.8 1.2-.7 1.6-.7 2.5-.7 2.5-.7 1.5-.7 .3-.7-.3-.8-0-.7 1.5-.7 2.9-.7 4.5-.7-1.5-.7-3.6-.7-1.7-.8-1.5-.7-1.2-.7-1.1-.7-1.1-.5 2.1-.5 1.6-.6-2.5-.5 2-.5 6.7-.5 2.5-.5 2-.6 1.6-.5 .1-.5 .5-.6-.4-.7 1.6-.6 .8-.6-1.9-.6-4.6-.7-5.2-.6-1.9-.6 4.6-.9 1.2-.8-6.6-.9-1.7-.8 4.2-.9 5.4-.8 3.1-.8 1.1-.7-.9-.8-1.2-.8 1-.8 3.8-.7 2.8-.8-.8-.8-6.5-.7 1-.8 9-.8 1.3-.9-3-.8-3.5-.9-1.5-.8-.8-.9-.2-.8 1.5-.9 1-.8-2.7-.6-1.2-.7 .2-.6 1.8-.6 3.6-.6 4.7-.7 3.5-.6 .3-.6 0-.6-1.7-.7-1.4-.6-1.3-.7-1.2-.6-1.3-.7-1.6-.6-2.1-.6-1.4-.7-.6-.6-.8-.7-1.5-.6-2.1-.6 .2-.7 1.4-.6 4-.7 1.4-.6-.6-.7 1-.6 2-.6 5.7-.7 1.5-.6-3.2-.7 .5-.6 2.4-.6 3.1-.7 1.7-.6 .7-.6 1.7-.6 3-.7 2.9-.6 1.7-.6 .6-.6 .8-.7 1.6-.6 1.8-.6 3.8-.6 .1-.5-4-.6-4.8-.6-3.1-.5-1.9-.6-.9-.6 .3-.5 .1-.6-2-.6-.3-.6-1.7-.6-.9-.5 1.8-.6 4.4-.6 4.6-.6 1.7-.6-.2-.6 1.8-.5 5.1-.6 1.7-.6-3.4-.6-2.4-.7-1.7-.6 2.4-.7 1.8-.6-1.3-.7-2.2-.6-2.3-.7-1.8-.6-1.6-.7-.6-.6-.2-.7-1.7-.6-3.2-.9-1.2-1 .3-.9 3.4-.9 3.9-.9 .4-1-3.3-.9-2.3-.9 .4-1 3-1 3.9-1.1 .4-1-3-1-2.1-.2 3.3-.2 3.4-.3 3.6-.2 4.9-.2 4.7-.2 2.2-.9-2.4-.9-1.3-.9-.5-.9 .3-.9 .1-.8-.5-.9-.5-.9-1.2-.9-.5-.9 .3-.9 .7-1 .5-.9 .2-.9-.3-1-.4-.9 .4-1 1.3-.9 1.1-.9 .5-1 .5-.9 .4-1-4.1-1-.3-1 4.7-1 .9-1-1.4-1-1.6-1-.6-1-.3-1 0-1 1.5-.9 .6-.8-2.7-.9 .6-.8 3.6-.9 .4-.8-.6-.9 .6" stroke="#000"/><path d="M295.5 774l.3-3.2 .3-3.2 .3-3.2 .3-4.3 .3-3.2 .4 2 .4 .9 .4-5.6 .5-8.4 .4-2.4 .4 1.7 .4-.9 .4-2.3 .5-3.8 .4-4.1 .4-2.4 .4 .9 .5-2.3 .5-5.3 .5-2.8 .5-1.7 .5-.6 .5-.7 .5-2.2 .5-3.8 .6-3.8 .5-2.7 .6-1 .6 .4 .6-1.9 .5-4.3 .6-3 .6 2.9 .6 4.5 .6 3.4 .6 .2 .6-1.3 .6 .6 .6 3.7 .6 4.3 .7 2.8 .6 1.5 .6 .9 .4-3.4 .4-1.9 .4-.8 .4-1.1 .5-2.6 .4-4.2 .4-8.9 .4-2.6 .6 6.7 .6 1.4 .6-4.8 .6-6.8 .6-4.6 1-.3 1 2.5 1 2 1-.1 1-.4 1-.9 1-3.6 1-.7 1 2.5 1-.3 .8 .7 .8 .3 .8 .5 .8 1.1 .8 1.6 .8 2.9 .7 2.5 .8-.6 .7-2.6 .8-1.1 .6 .2 .6 .8 .5-1.9 .6-5.7 .6-5.1 .6 1.4 .5 4.1 .6-1.9 .6-5.4 .8-1.9 .9-.8 .8 .2 .8 .4 .9-.4 .8-1.3 .8-4 .9-3.6 .8 1.1 .8 4 .9-1.2 .8-6.7 .9 .6 .8 3.5 .9 .9 .8 .4 .9-1.8 .8-1.6 .9 2.8 .8 2.8 .9 .7 .8-3 .8-7.2 .9-5.5 .8 3.1 1 4.4 .9-.5 1-2.4 1-2.1 1-.5 .9 .9 1 .8 .9 1.4 .9 1 .9 .6 .8 .2 .9 1 .9 3.2 .9 1 .8-5.4 .8-1 .8 7.9 .8-1 .9-9.4 .8-3.1 .8 1.1 .8 3.9 .9 3.6 .9-1.9 .9-1.9 1 .8 .9 .9 .9 2 .8 1 .8-.3 .8 .8 .8 1.2 .8 2.7 .9 1.2 1-2 .9-4.4 1-3.9 .9-.4 1 3.1 .5 .8 .5-1.3 .5-2.2 .5-3 .5-3.2 .6-2.7 .5-1.6 .5-.1 .5-.5 .5-3.8 .9-.7 .8 .8 .9 1 .9 1.2 .8 1.4 .9 1 .7-3.9 .6-1.4 .7 3.1 .7 .7 .6-3.4 .7-6.3 .7-1.3 .6 4.1 .7 1.2 .9-3.1 1-4.3 .9-1.8 1 .6 .9 1.8 1 1.1 .9-.6 .8-.4 .7-.2 .8 .9 .8 1.6 .8 2.5 .7 2.1 .8 .5 .8-3.8 .7-1.3 .8 1.7 .7 .3 .8-1.2 .7-2.9 .8-5.2 .7-4.1 1 2.4 1 3.3 1-.5 1-3.8 1-.5 1 8.1 .7 1.1 .7-5.9 .7 1.1 .8 4.5 .7 4.8 .7 1.2 .7-2.5 .8-3.2 .8-1.2 .8 .9 .7 2.9 .8 4.7 .8 .9 .8-2.2 .6-2.7 .5-1.3 .6-.2 .6-.2 .5-2 .6-3.8 .5-3.4 .6-2.3 .7-1.5 .7-1.2 .7 1 .8 1.8 .7-1.5 .7-4.8 .7-4.9 .7-2.9 .7 1.6 .7 3.2 .8 4.6 .7 1.7 .7-.4 .7 1.7 .8 2.5 .9 2.5 .8-.2 .8-1.6 .8-.3 .9 2.6 .8 3.4 .5-1.1 .5-2.1 .6-3.1 .5-3.9 .5-3 .5-1.2 .5-.3 .6-.9 .5-2.1 .5-3.3 .7-2.4 .7-1.6 .7-1.4 .8-1.2 .7 1 .7 1 .7-3.8 .9-3.2 .9-.9 .8 2.1 .9 2.9 .9 1.4 .9-.1 .8-4 .9-3.1 .8 2.7 .8 3.5 .7-.2 .8-2 .8-4.4 .8-1.1 .7 1.6 .8-.8 .8-1.4 .9-2.1 .9-.7 .8 3 .9 2.1 .9-3.5 .9-4.5 .9-2 .8-.7 .9 .5 .9 4.6 .3 3.3 .3-1.5 .2 2.7 .3 3.3 .3 3.8 .3 6.2 .2 5.8 .3 .8 .6-5 .7-2.5 .6-1 .6-.2 .7-.8 .6-1.7 .7-2.7 .6-2.5 .6-1.7 .7-1.7 .6-1.2 1-.1 .9-1 1-2.1 .9-2 1-.6 .9 .9 1 .6 .9-.4 1-.5 .8 .7 .8-2.7 .8 .9 .8 4.8 .8 .9 .8-2.6 .8-3.2 .8 .8 1 3.8 1 3.1 1 .1 1-.8 1-1.1 1-.8 .7 1.3 .7 1.8 .6 2.8 .7 2.6 .7 .1 .7-.3 .6 .9 .7 1.7 .7-.6 .6-1.8 .7-3 .6-2.5 .7-1.8 .6-1.1 .7 .1 .6 .4 .6-1.6 .6-3.7 .6-3.7 .6-2.7 .7-1.6 .6-.7 .6-.6 .6-1.6 .6-3.7 .6-4.1 .6 1.9 .7 4.3 .6 5.7 .6 1.9 .7-3 .6 1.8 .7 4.9 .6 2.1 .8-1.5 .7-1.7 .8-1.7 .8-1.3 .8-.8 .7 .1 .8 .2 .8-1.2 .7-2.9 .7-2.9 .8-2 .7-1.4 .7-.9 .7 4.1 .8-1.4 .7-7.1 .7-2 .7 1 .8 1.6 .7 1.9 .8 1 .7-.5 .8-.4 .7-1.2 .7 .2 .7 3.3 .7 2.4 .7-4.8 .7-5.2 .7-1.2 .7 1.3 .8 3.8 .7 .9 .8-1.9 .8-5.8 .8 .9 .7 6.6 .8 2 1-.6 .9-1.7 1-3.8 .9-.6 1 3.6 .9 1.6 .8-1 .9-3.6 .9-3.2 .8-1.6 .9-1 .8 1.6 .9 6.4 .8 1 .8-4.4 .9 .3 .8 1 .7 1.8 .7 1.8 .7 1.4 .8 1.1 .7 .9 .7 .9 .7 1 .8 .8 .9 1 .8 2.8 .8 .8 .9-1.6 .8 .1 .7-1.4 .7-.7 .7 1.6 .8-1.4 .7-7 .7-1.4 .7 3.4 1.1 2.9 1 .4 1.1-2.1 1-4.6 1.1-4.1 .6-1.9 .5 2.5 .6 2.1 .5-1 .6-2.8 .5-7.7 .6-2 .5 3.9 .6-.9 .8-1.8 .9-3.4 .8-.9 .9 3.6 .8-.9 .9-4.8 .7 .4 .8 2.6 .7 7.6 .7 6.6 .7-3.7 .8-9.1 .7 1.5 .7 5 .7-2 .7-5.8 .7-1.9 .7 1.4 .8 .1 .8-1.2 .8-2.5 .8-6.2 .8-5.3 .7 2.7 .7 3.8 .7 .1 .7-1.3 .7-2.9 .7-4.7 .7-3.7 .7 1 .7 1.9 .7-.4 .7-2.4 .5 .8 .6 1.6 .5 2 .6 3.2 .5 3.5 .6 1.8 1-1.8 1-3.5 1-.2 1 4.4 .6 5.1 .6 1.6 .6-1.8 .6-1.3 .6 .9 .7 1.6 .6 2.3 .6 2.3 .6 1.9 .6 1.4 .6 .1 .5-3.9 .4-1.7 .5-.8 .4-1.9 .5-3.7 .8-4 .8-1.3 .8 5.5 .8-1.3 .8-8.2 1 .7 1 4.2 1 2 1-.7 1-.8 .9-1 .8-.1 .9-.2 .9-1.8 .8-4.1 .9-3.4 1 1.6 .9 3.3 1 1.1 .9-2.7 1-3.8 .9-.6 .9 4.7 .9-.6 .9-5.9 .9-2.4 .9-.6 .7 3.4 .6 3.5 .7 1.5 .6 .6 .7 1.5 .6 3.1 .7 2.9 .7-.2 .7-.7 .7 .8 .6 1.7 .7 3.5 .7 1.3 .7-4.2 .7 1.2 .6 5.4 .7-1.7 .6-6.5 .7-3.1 .6-.3 .7 6.5 .6-1.8 .9-7.9 1-1 .9 1.6 1 4.3 .9 4 1 .3 .9-4.7 .9-6.3 .8-1 .9 2.7 .9-0 .9-1.9 1-.8 .9 0 1 1.2 .9 2.1 1 .6 .7-2.6 .8 1.2 .7 4.9 .8 1.3 .7-1.5 .8-.8 .7 3.4 .8 3.8 .9 2.2 .8 .7 .8-.9 .9-1.7 .8-.7 .5-.7 .5 .4 .5-.9 .5-3.2 .5-4 .5-2.9 .5-1.2 .5 2.8 .5-2.1 .5-9.3 1 .8 1 4.4 1 .9 1 .9 .4-2.5 .4-4.2 .4-4.2 .4-.5 .5 .5 .4-2.4 .4-3.5 .4-2.6 .4-2.3 .4 2.9 .4 3.6 .3 3.5 .4 1.9 .4 1.3 .4 1.9 .5 2.4 .4 3.2 .5 6.2 .5 2.4 .4-4 .5-.8 .9 2.1 .8 5.2 .9 3.2 .9-1 .8-5.4 .9-8.4 .8-1.1 .9 4 .8-.3 .8-1.8 .9-3.2 .8-3 .8-1.3 .8 .6 .8 2.8 .8-1.3 .8-6.3 .7-3.3 .7 .9 .7 1.1 .7-1 .7-1.3 1-.7 1-1.9 1.1-1.7 1 .7 1 5.3 1.4 1.3 .4-3.2 .4 2.7 .4 4.3 .4 2.8 .4 2.6 .4 2.3-.2 2.8-.2 3.3-.2 3.7-.2 4-.2 3.3-.2 1.1-.2 3.2-.4 7.3-.4 6.5-.4 2.8-.4-1-.4-.3-.4 2.7-.4 7.5-.4 2.7-.4-4.2-.7 1.5-.8 6.2-.7 3.3-.7-.3-.7-1.5-.8 1.5-.7 5-.6 4.3-.7-.2-.6-.7-.6 1.4-.7 2.1-.6 2.8-1.1 2.5-1.1 1.9-1-1.9-1.1-3.7-1.1-2.4-1.1-0-.6 4.1-.6 5.4-.6 4.5-.7 1.7-.6-1-.6-1.9-.6-.8-.7 1.6-.6 4-.6 3.5-.7 1.9-.6 1.6-.7 1.2-.6 .8-.5 1.4-.5 2.6-.5 2.6-.5 2.1-.5 2-.8 .7-.9-0-.8-.4-.9 .9-.8 2-.9 2.3-.8 1.8-.9 .9-.8-.1-.9-.6-.8 .9-.9 3.4-.8 3.4-.9 .9-.8-1.7-.8-2.9-.7 1.3-.8 6.6-.7 5.5-.8 1.2-.8-2.9-.7-1.9-.8 1.1-.7 1.2-.8 1.5-.8 1.6-.9 1.7-.8 .9-.9-.1-.8-2.7-.9-2.1-.8 3.8-.9 4.1-.8 .8-.7-1.1-.8-.9-.7 3.7-.7 5.1-.7 1.4-.8-2.4-.7 1.4-1 2.7-.9 .2-1-1.5-1-3.2-.9-.6-1 3.3-.9-.7-1-3.7-.7 .3-.7 2.5-.7 2.9-.7 2.2-.7 1.4-.6 .6-.7 .1-.7 1.4-.7 3.7-.7 3.5-.7 1.4-.6-.6-.7-1-.6 .5-.6 2.4-.7 2.9-.6 2.1-.6 1.5-.7 .8-.6-.7-.6-.2-.7 3.1-.6 5-.5-.2-.5-3.8-.5-6.1-.5-4.2-.5 .2-.6 2.4-.5-2-.5-7.3-.5-2-.5 1.8-.7-1.4-.7-3.5-.7-3.3-.8-1.5-.7 .4-.7-0-.7-1.4-.6 1.8-.6 1.6-.6 .3-.6 .4-.6 3.1-.6 3.3-.5 1.7-.6 1.2-.6 1.2-.6 2.3-.6 3.7-.6 1.8-.6-.8-.7 .3-.7 2.5-.7 2.6-.7 1.6-.7 1.2-.6 .5-.7 1.4-.7 2.7-.7 2-.7 .8-.7-2.7-.8-.9-.9 3-.8-.4-.9-1.3-.8-1.7-.9-1.2-.8-.5-.9 .1-.8-0-1 .3-.9-.5-1-2.2-1-2.4-1 .3-.9 3.1-1 2.3-1 .4-.6 1.6-.6 .9-.6 1.6-.7 6.8-.6 7.6-.6 1.7-.6-4.2-.6-3.4-.6 .6-.7 1.7-.6 2.8-.6 2.8-.8-.5-.7-1-.8-1.5-.7-2.3-.8-1-.8 .7-.7-.1-.8-1-.7-1.9-.8-5.1-.7 1.4-.7 7.4-.7 1.4-.7-3.2-.7-.5-.7 3.2-.7 8.2-.7 6.3-.7-3.6-.7-4.1-.7 .6-.7 1.4-.7 2.2-.7 4.5-.7 5.2-.7 1.4-.6-2.4-.7-3.5-.7-1-.7 3.8-.7 6.2-.7 1.4-1-6-.9-.3-1 3.4-.9-.4-1-4.5-1-.3-.9 4.3-1 .7-.9-1.3-1-2.6-.9-2.2-.9-.3-1 1.5-.9 4.2-1-.3-.9-5.1-.7-.3-.7 3-.7 3.5-.7 1.4-.7-.5-.6 1.4-.7 3.3-.7 1.9-.7 .8-.7 .3-.7 1.4-.9 3.3-.9 .5-.8-2.4-.9-.6-.9 .5-.9 1.8-.8 2.2-.9 1.3-.9-.2-1.1-2.9-1-2.2-1.1 2.2-1 2.4-1.1 0-1-5.7-1.1-5.5-.8 4.5-.7 5.6-.8 .7-.7-1-.8-2.7-.8-2.8-.7-1.9-.8-1-.7-.2-.8 1.1-.8 2.3-.9-.6-.8-2.1-.9-.6-.8 2.3-.9 2.5-.8 1.1-.9 .9-.8 .5-.8-1.5-.7-1-.8 .7-.7 1-.8-1-.8-3-.7-3.5-.8-2.7-.7-1-.8 .7-.6 3.7-.5 2.6-.6 1.3-.6-.2-.5-.2-.6 1.9-.6 4.2-.5 4.5-.6 2.3-.9-.1-1-1.6-.9-1.1-1 2.5-.9 .3" stroke="#f00"/><path d="M295.5 774l.3-3 .3-3 .3-3 .3-4.1 .4-3 .3-1.3 .3-2.1 .3-3 .5-3.4 .5-3.5 .5-2.9 .5-2.1 .5-1.7 .5-2.1 .8 1 .8-.6 .8-.1 .8 2.9 .8 3.6 .8-.8 .8-2.3 .8-.8 .8 1.3 .8 .4 .7 0 .8-1.9 .7-.7 .8 3.1 .7 3.8 .8 2.1 .7 1.2 .8 .3 .6-3 .5-2.4 .6-2 .5-1.5 .6-1.2 .5-1.6 .6-2.3 .5-2.4 .6-2 .9-.7 .8-.7 .9 .7 .8-.7 .9-2.8 .8-1.7 .9-.7 .7-.7 .6 .4 .7-1.6 .7-5.7 .6-5.5 .7-1.6 .7 2.4 .8 2 .7-1.4 .7-3.3 .8-3.3 .7-1.3 .5 4.5 .5 5.7 .6 4.3 .5 .9 .5 .4 .6 1.1 .7 2.1 .6 3.2 .6 2.7 .7 .6 .6 .5 .6-2.2 .6-2 .5-1.8 .6 5.4 .6-2 .6-11.8 .5-1.9 .6 3.6 .6 1 .8-4.2 .9-4.8 .8-1.2 .8 .7 .9-1.2 .8-3.8 .7-3.3 .7-1.1 .7 .9 .8 .4 .7-1.1 .7-1.2 .7-1.2 1-1.4 1-2.1 1 .6 1 3.4 1 2.9 .8 1.1 .9 .3 .8-1.2 .8-1.5 .9 .6 .8 2.9 .7 1.6 .6 .1 .7-3.2 .7-4.7 .6-1.6 .7 .4 .7-1.2 .6-2 .7-3 .7-2.8 .8-1.2 .7 .3 .8 4.3 .7 3.2 .8-5.7 .7-7 .8-2.5 .7-.4 .6 1.8 .7 1.6 .7-1.7 .6-4.9 .7-4.1 .7-1 .8 1.1 .7-1.1 .8-6.6 .7-4.7 .8 2.6 .7 6.5 .8 1.1 .7-2.4 .8-1.2 .7 1 .8 3.3 .7 4.1 .7 3.1 .7 1.2 .8-.8 .7-4.2 .7-2.7 .7 5 .9 4.2 1 .4 .9-.9 1-1.6 .9-1.5 1-.2 .8-.1 .7 1.8 .8 .9 .7-3.3 .8-4 .7-1.9 .8-.5 .7 1.3 .8 1.6 .7-1.2 .8-4 .7-3.2 .7-1.2 .8 3.3 .7-1.2 .8-9.9 .7-1.2 .9 6.3 1 2 .9-.6 .9-2.3 1-1.6 .9 .7 .7 1.2 .8 1.5 .7 .2 .8-1 .7-2.2 .8-3.3 .7-2.5 .8 .5 1 4.3 1-.5 1-6.1 1-3.4 1-.6 1 2.3 .7 4.4 .7 1.7 .7 .5 .8 1.2 .7 1.6 .7 2.1 .7 5.1 .9 1 .9-5.3 .9-2.1 .9 4.1 .9 6.3 .9 3.2 .5-4.5 .5-6.5 .5-2.3 .5 0 .6-1.7 .5-2.3 .5-3 .5-3.2 .5-2.9 .6-1.9 .6-1.3 .7 0 .6-.4 .6-3.3 .6-4.8 .7-3.3 .6-.4 .7 .1 .7-1.3 .7-1.5 .7-1.7 .7-2.7 .7-2.5 .7-.5 .7 6 .8 1 .7-8.2 .8-1.7 .8 3.7 .8 7.4 .7 4.6 .8-2.6 .7-3 .6 .7 .7 2 .7 3.3 .6 1.3 .7-3.1 1-4.8 .9-.4 1 4.1 1 5.4 .9-.3 1-4.9 .7-4.1 .8-1.5 .7 1 .8 2.3 .7-1.6 .8-3.6 .7-1.6 .7-1.5 .7-1.5 .7 2.3 .7 2.2 .7-5.2 .7-5.6 .7-1.8 .7-1.2 .7-.8 .7-1.2 .9-.9 .9-4.1 .8-3.8 .9 2.5 .9 6.1 .9-.7 .8-6 .9-2.6 .9 1.2 .9 2.4 .8 .8 .9-.7 .9-2.3 .9-4.6 .9-3.4 .8 2 .9 2.7 .9-.7 .6-.2 .6 1.8 .6 3.8 .6 3.2 .6 1.7 .6 .4 .6-.9 .8-.7 .7 2.7 .8 6.1 .7 5.8 .8 1 .7-3.8 .8-2.7 .7 .5 .6-1.9 .7-1.4 .6 1.5 .6-1.9 .6-8.3 .7-1.8 .6 3 .6-.3 .8-2.6 .7-2.5 .8-1 .7-1 .8-.8 .7-.8 .8-1 .7-1.2 .8-1.4 .9-1.2 .8-.7 .9-.3 .8-.4 .8-.9 .9-1.5 .8-1.9 .8 0 .8 1 .8 1.8 .8 3.5 .7 1 .8-1.7 .8-0 .8 .9 .5-1.4 .5-.8 .5-2.3 .5-5.3 .5-2.3 .5 .3 .5-2.3 .5-4.2 .5-3.7 .5-.9 .5 7.9 .5 2 .5-6 .5-1.8 .5 5.8 .5 7.1 .5 2 .5 .6 .5 1.8 .5 2.1 .5-1.9 .5-.5 .5-0 .5-2.2 .5-4.2 .5-5.1 .4-4.2 .5-2.1 .5-.1 .5 2.1 .5 .8 .5-5.1 .5-5.4 .5 1.7 .5 2.3 .5 2.8 .5 4.6 .6 2.3 .5-.8 .5 1.3 .5 3.2 .5 5.8 .5 2.3 .6-7.7 .5-6.4 .6-2.1 .6 2.1 .5 1.6 .6-1.5 .5-2.8 .6-3.2 .7-1.4 .8-.1 .7-.1 .7-1.4 .8-2.5 .7-2.6 .9-1.3 .9-.6 .9 .2 .9 2.1 .9 2.6 .9-.6 .9-3.7 .7-1.6 .7 .3 .7 1.6 .7 2.8 .7 4.1 .7 1.6 .7-1.8 .7-.2 .7 3.3 .4 1.5 .4-.2 .5-4.5 .4-4.6 .4-2.7 .4-2.3 .4-2 .4-1.9 .5-2 .4-2.6 .4-3.8 .4-3.4 .6 3.3 .5 3.8 .6 2.7 .6 1.7 .6 1.4 .5 1.9 .6 2.2 .5-1.9 .5 2.2 .4-2.2 .5-7.7 .5-3.6 .5-.8 .4 0 .5-.9 .9 .5 .8-.7 .9-.4 .9 .6 .8 .7 .9 .6 .8-2.3 .9-2.6 .8-1 .8 .6 .9 1.5 .8-1 .6 .4 .5 1.6 .6 2 .5 2.4 .6 2.5 .5 2 .6 1.4 .5 1.6 .6 2.4 .5-1.7 .4-2 .5-2.7 .4-6.6 .5-6.2 .4 1.5 .5 3.7 .5-.2 .4-4.6 .5-7.3 .4-2.4 .5 4 .4 1.2 .5-5.9 .7-2.4 .7 1.2 .7 1.6 .7 4.4 .7 1.4 .7-2 .7 .3 .7 1.4 .7 2.5 .4 2.7 .3-2.6 .4-7.7 .4-2.6 .4-1.7 .3-2.3 .4-2.5 .8 1.1 .8-.5 .8-1 .7 1.4 .8 3.7 .8 4.4 .7-0 .7-2.7 .6-4.8 .7-3.4 .7 .7 .7 .9 .6-1.4 .7-2.6 .6 .6 .7 2.6 .6 3 .7 2 .6 1.6 .6 1.2 .7-.4 .6-.2 .6 .1 .7 .2 .6-1.7 .6-5 .6-6.1 .6-1.7 .7 2.7 .6 1.7 .6-1.4 .6-2 .7-2.8 .6-2.7 .7-.3 .7 .1 .7-.9 .8-1.6 .7-7.3 .7-1.3 .7 6.5 .7-1.3 .7-3.4 .7-1.6 .8-1.3 .7-.9 .7 1 .7 .8 .6-.1 .5-4.6 .6 2 .6 8.1 .6 3.6 .5 .4 .6 .4 .5 1.9 .5 2 .5 2.1 .5 3.3 .5 3.3 .5 .7 .5-.3 .5 1 .6-.6 .6 1.4 .7-1.5 .6-5.2 .6-3.9 .6-1.5 .7 .8 .6 .2 .5 2.2 .6-0 .5 2.2 .6 4.6 .5 2.2 .6 .9 .5 .8 .4-2.8 .4-1.4 .3-1.2 .4-2.8 .4-4.3 .4-2.8 .4 1.5 .3 .6 .4-6.2 .4-6.5 .7-1.5 .8-1.2 .7-.7 .7-.7 .7-.9 .8-1.1 .7-1.4 .9-3.4 .8-3.2 .9 1.2 .8 1.7 .9-.3 .7-1.5 .7-2.3 .8-3.7 .7-3.9 .7-1.6 .7 .8 .8 2.7 .7 1.2 .5-.3 .4-1 .5 1.3 .5 2.5 .5 3.4 .4 3.4 .5 2.8 .5 2.5 .5 2 .4-0 .5-.6 .5-2.1 .5 .8 .5 4.7 .5-2.1 .5-8.4 .5-3.8 .5-.5 .5-.4 .6-1.5 .6-1.7 .6-1.8 .6-3.1 .6-3.6 .6-1.7 .6 .3 .6 5.4 .7 1.6 .8-4.9 .7 .5 .7 1.7 .7 2.7 .8 4 .7 3.8 .8 1.8 .7-.5 .8-2.3 .8-.7 .8 4.2 .8 5.4 .8 2.9 .8 .6 .5-6.3 .6-5 .5 1 .6 2.6 .5-.4 .6-3.6 .5-4.2 .8-0 .9 .8 .8 1.7 .8 4.3 .9 3.6 .8-2 1-2.1 1 .7 1 2.6 1 3.2 .6-1.9 .6-4.6 .7-3.8 .6-2 .6-1.9 .6-1.3 .7-1.9 .6-3.5 .5-3.3 .5-2.2 .5-1.1 .5-1 .5-1.7 .5-2.7 .5-3.7 .5-3 .5-1.4 .5 .4 .5 4.7 .5 2.1 .5-.3 .5-2.5 .5-.6 .5 4.9 .5 7 .5 4.2 .5 .4 .6-1.3 .5 .7 .5 4.2 .5 4.3 .6 2.7 .5 2.2 .5-9.6 .6-2 .5 6.5 .6-.8 .5-3.2 .6-4.5 .7-2.6 .7 .3 .7 1.1 .8 .2 .7-1.2 .7-2.5 .8-5 .8-1.4 .7 7 .8 4.2 .8-6.9 .8-8.8 .9-.9 .9 5 .9-.8 1-6.3 .9-.8 .9 4.7 .6 1.5 .7-4 .6-.7 .7 1.4 .6 3.6 .7 5.5 .6 4 .7-1 .7-1.1 .7 1.4 .7 1.6 .7 1.9 .7 1.9 .7 1.8 .7 1.5 .6-3.6 .7-3.4 .6-.4 .6 .5 .7-.7 .6-1.9-0 3.6-0 3.1-0 3.6-0 4.8-.4 3.6-.4 3.9-.5 3.2-.4 2.5-.4 1.9-.4 .4-.5 .9-.4 4.2-.4 4.7-.4 3.6-.4 2.8-.3 2-.4 1.5-.4 2.8-.4 5.6-.4 4.9-.3 .7-.4-.5-.4 1.6-.4 3.8-.4 7.2-.3 7.5-.4 2.6-.4-2.4-.4-2.2-.4 .8-.3 2.5-.4 4.3-.4 4.7-.4 3.9-.4 2.5-.3 1.1-.4 .6-.4 1.2-.4 2.5-.4 3.8-.3 4.3-.4 3.6-.4 2.5-1-.5-1.1-.7-1 .6-1.1 2.8-1 .6-.9-1.9-1 .5-.9 2.4-.9 1.6-.4 1.4-.3-1.7-.4-.5-.3 5.7-.4 5.8-.3 2.8-.4 2.6-.9 .7-.8-0-.9-.1-.7 1.5-.6 2.6-.7 4.4-.6 1.5-.7-1.1-.6 1.1-.7 2-.6 3.5-.7 1.6-.6-3.2-.7 1.7-.7 5.2-.6 1.7-.7 1.7-.7 1.6-.6-1.1-.7-2.1-.8 .8-.8 4.4-.9 4.8-.8 2.1-.8-.6-.8-1.2-.8 .8-.8 1.6-.9 1.3-.8 .2-.8-.6-.7 1-.6 2.7-.7 5.1-.6 1.9-.7-4-.6 1.9-.7 6.2-.6 2.8-.8-1.9-.7-4.3-.8-3.4-.7 1.4-.8 4-.8 1.6-.7-3.6-.8-4.2-.7-1.9-.8-1-.7 2.3-.7 5.6-.7 1.4-.7-4.8-.7-1.1-.6 3.9-.7 5.1-.7 2.9-.7 1.4-.7-.1-.7-1.8-.8-1.2-.9 2.9-.8 3.2-.9 1.1-.8 .6-.9-.8-.8 .8-.9 3.3-.8 2.4-.6 1.6-.7 0-.6-3.3-.6 1.6-.6 10.6-.7 1.6-.6-6.4-.6-2.4-.8 .9-.9 4.8-.8 5.4-.8 2.6-.9-.9-.8-1.5-.6 1.3-.6 2.6-.6 4.5-.6 2-.5-1.4-.6 2-.6 3.7-.6 2.2-.6 1.8-.8-3.4-.7-3.1-.8 .6-.8 .7-.8-1.1-.7-1.2-.8-1.5-.8-1.5-.7-1.4-.8-1.3-.7 1.6-.7 3.4-.7 3.3-.8-.4-.7-2.4-.7-.4-.7 3.3-.6 3.8-.7 1.9-.6 1.7-.6 1.4-.7-.4-.6-.3-.6 3.6-.7 3.9-.6 1.8-.6 1.6-.7 .3-.6 1.7-.5 .7-.5-2-.5-5.5-.5-4-.5-.1-.5 3.1-.5 1.2-.5-5.2-.5-6.3-.5-3-.6 3-.5 4.8-.6 4.4-.5 2-.6-.4-.5-1-.6 .9-.5 3.1-.6 5.2-.5 2-.6-1.1-.5 2-.6 3.2-.5 2.1-.8-1-.7-1.2-.8-1.1-.8-1.1-.8 .9-.7-1-.8-3.5-.8-1.9-.7-1-.8-.2-.8 3.3-.7 3.3-.8 1-.7-1.2-.8-3.1-.7 1-.8 3.6-.7 1-.8 .6-.7 1-.8 .5-.9-.8-.8-3-.8-2.5-.9-.8-.8 .7-.8 1.3-.9 .5-.8-.9-.6 .4-.6 .6-.5 1.5-.6 1.7-.6 1.9-.6 4.9-.5 4.8-.6-1.4-.6-6.1-.4-7.5-.3 1.7-.4 1.8-.3-2.8-.4-3-.3-8.7-.4-2.9-.5 7.8-.6 2.1-.5 2-.5 2-.6 .6-.5-.1-.5 2-.5 4.2-.6 7.5-.5 2-.9-4.9-1-1.1-.9-.6-.9-.2-.9 1.9-1 1.6-.9-2.9-.9-5.1-.9 1.3-.8 5.9-.9 3.7-.8-1.2-.9-4.8-.8 1.2-.8 4.7-.7 1-.8-.7-.7-1.3-.8 1-.8 3.4-.7 3-.8 1-.7 .5-.8 .8-.9-.6-.8 0-.9-.2-.8-1.5-.9-4.1-.8-4.3-.6 1.6-.7 4.9-.6 5.7-.7 1.6-.6-2.9-.6 1.5-.7 5.6-.6 2.8-.7 .2-.6-1.4-.8-3.3-.8-1-.8 1.5-.8 .8-.8-.8-.8-1.1-.8-5.2-.8-.9-.6 7-.7 1.6-.6-.3-.6 1-.6 2.1-.7 2.5-.6 2-.6 1.2-.8-1.9-.9-1.8-.8-1.2-.8-.8-.9-.2-.8-.4-.6 1.9-.6 1.1-.5 1-.6 2-.6 3-.6 2-.5-3.6-.6 1.9-.6 7-.8-1.2-.8-1.4-.8-1.8-.8-1.3-.7 2.2-.8-1.2-.8-6.1-.8-1.3-.7 3.7-.7 2.2-.8 1.1-.7 .1-.7 .2-.7 1.2-.8 2.8-.7 2-.7 0-1-1.9-1-.8-1 .1-1 1.1-1 1.4-1 .1-1 0-1-.5-1-.3-1 .2-1 0-1 .6-1 0-1 0-1-1.9-1-.9-1-.3-1 .3-1 .6-1 .3-.8-1.8-.7-1.9-.8-1.3-.7-1.2-.8 4.7-.7 1.8-.8-3.5-.7-1.5-1 .1-1 3.5-1 3-1 0-1-.2-1 .2" stroke="#00f"/></g><path d="M296 405.8H357.6" stroke="#000" stroke-width="3"/><path d="M296 439.8H357.6" stroke="#f00" stroke-width="3"/><path d="M296 473.6H357.6" stroke="#00f" stroke-width="3"/><g font-family="Liberation Serif,Times New Roman,serif" font-weight="bold" font-size="26"><text x="363" y="414.5">Initial state</text><text x="363" y="448.5">Medium state</text><text x="363" y="482.5">Final state</text></g><rect x="295.5" y="386.8" width="514.5" height="387" fill="none" stroke="#000" stroke-width="3.2"/><path d="M287 773.8H296M290.5 741.5H296M287 709.3H296M290.5 677.0H296M287 644.8H296M290.5 612.5H296M287 580.3H296M290.5 548.0H296M287 515.8H296M290.5 483.5H296M287 451.3H296M290.5 419.0H296M287 386.8H296M295.5 773V782.5M359.8 773V779.5M424.1 773V782.5M488.4 773V779.5M552.7 773V782.5M617.0 773V779.5M681.3 773V782.5M745.6 773V779.5M809.9 773V782.5" stroke="#000" stroke-width="3"/><g font-family="Liberation Serif,Times New Roman,serif" font-weight="bold" font-size="34.5" text-anchor="end"><text x="282.5" y="783.4" textLength="40.7" lengthAdjust="spacingAndGlyphs">0.0</text><text x="282.5" y="718.9" textLength="40.7" lengthAdjust="spacingAndGlyphs">0.1</text><text x="282.5" y="654.4" textLength="40.7" lengthAdjust="spacingAndGlyphs">0.2</text><text x="282.5" y="589.9" textLength="40.7" lengthAdjust="spacingAndGlyphs">0.3</text><text x="282.5" y="525.4" textLength="40.7" lengthAdjust="spacingAndGlyphs">0.4</text><text x="282.5" y="460.9" textLength="40.7" lengthAdjust="spacingAndGlyphs">0.5</text><text x="282.5" y="396.4" textLength="40.7" lengthAdjust="spacingAndGlyphs">0.6</text></g><g font-family="Liberation Serif,Times New Roman,serif" font-weight="bold" font-size="34.5" text-anchor="middle"><text x="295.2" y="812.3" textLength="40.7" lengthAdjust="spacingAndGlyphs">0.0</text><text x="423.8" y="812.3" textLength="40.7" lengthAdjust="spacingAndGlyphs">0.4</text><text x="552.4" y="812.3" textLength="40.7" lengthAdjust="spacingAndGlyphs">0.8</text><text x="681.0" y="812.3" textLength="40.7" lengthAdjust="spacingAndGlyphs">1.2</text><text x="809.6" y="812.3" textLength="40.7" lengthAdjust="spacingAndGlyphs">1.6</text></g><text x="558" y="852.5" font-size="39" text-anchor="middle" font-family="Liberation Serif,Times New Roman,serif" font-weight="bold" textLength="99" lengthAdjust="spacingAndGlyphs">Strain</text><text transform="translate(233.8 576.5) rotate(-90)" font-size="40" text-anchor="middle" font-family="Liberation Serif,Times New Roman,serif" font-weight="bold" textLength="100" lengthAdjust="spacingAndGlyphs">Stress</text></svg></body></html>
